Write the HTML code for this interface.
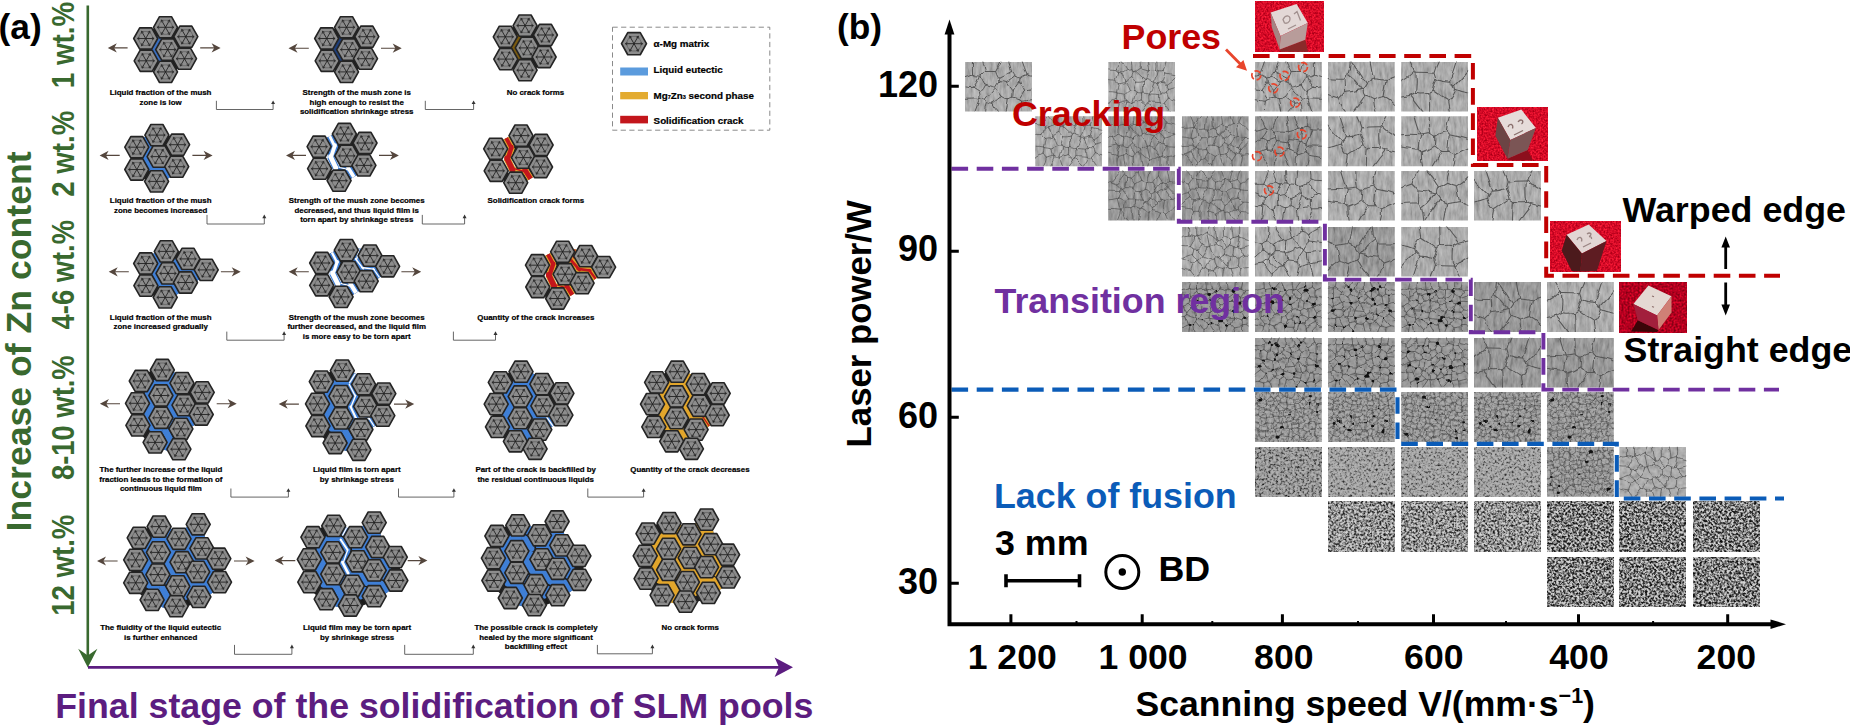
<!DOCTYPE html>
<html lang="en"><head><meta charset="utf-8"><title>Figure</title>
<style>html,body{margin:0;padding:0;background:#fff}svg{display:block}text{font-family:"Liberation Sans",sans-serif;font-weight:bold}</style></head>
<body>
<svg width="1850" height="726" viewBox="0 0 1850 726">
<defs>
<g id="hx"><polygon points="12,0 6,10.6 -6,10.6 -12,0 -6,-10.6 6,-10.6" fill="#8c8c8c" stroke="#242424" stroke-width="1.6" stroke-linejoin="round"/><polygon points="7.9,0 4,7 -4,7 -7.9,0 -4,-7 4,-7" fill="none" stroke="#4a4a4a" stroke-width="0.5"/><path d="M-7.9 0L7.9 0M-4 -7L4 7M4 -7L-4 7" fill="none" stroke="#1e1e1e" stroke-width="0.85"/><path d="M6.2 1.3L8.4 0L6.2 -1.3M2 6.1L4.2 7.4L4.2 4.9M-4.2 4.9L-4.2 7.4L-2 6.1M-6.2 -1.3L-8.4 0L-6.2 1.3M-2 -6.1L-4.2 -7.4L-4.2 -4.9M4.2 -4.9L4.2 -7.4L2 -6.1" fill="none" stroke="#1e1e1e" stroke-width="0.65"/></g>
<filter id="fA" x="0" y="0" width="100%" height="100%" color-interpolation-filters="sRGB"><feTurbulence type="fractalNoise" baseFrequency="0.3 0.09" numOctaves="3" seed="3" result="n"/><feColorMatrix in="n" type="matrix" values="1 0 0 0 0 1 0 0 0 0 1 0 0 0 0 0 0 0 0 1"/><feComponentTransfer><feFuncR type="table" tableValues="0.50 0.54 0.58 0.62 0.65 0.675 0.70 0.72 0.745 0.77 0.79"/><feFuncG type="table" tableValues="0.50 0.54 0.58 0.62 0.65 0.675 0.70 0.72 0.745 0.77 0.79"/><feFuncB type="table" tableValues="0.50 0.54 0.58 0.62 0.65 0.675 0.70 0.72 0.745 0.77 0.79"/></feComponentTransfer></filter>
<filter id="fA2" x="0" y="0" width="100%" height="100%" color-interpolation-filters="sRGB"><feTurbulence type="fractalNoise" baseFrequency="0.3 0.09" numOctaves="3" seed="8" result="n"/><feColorMatrix in="n" type="matrix" values="1 0 0 0 0 1 0 0 0 0 1 0 0 0 0 0 0 0 0 1"/><feComponentTransfer><feFuncR type="table" tableValues="0.42 0.46 0.50 0.54 0.575 0.60 0.625 0.65 0.67 0.69 0.71"/><feFuncG type="table" tableValues="0.42 0.46 0.50 0.54 0.575 0.60 0.625 0.65 0.67 0.69 0.71"/><feFuncB type="table" tableValues="0.42 0.46 0.50 0.54 0.575 0.60 0.625 0.65 0.67 0.69 0.71"/></feComponentTransfer></filter>
<filter id="fB" x="0" y="0" width="100%" height="100%" color-interpolation-filters="sRGB"><feTurbulence type="fractalNoise" baseFrequency="0.22" numOctaves="2" seed="5" result="n"/><feColorMatrix in="n" type="matrix" values="1 0 0 0 0 1 0 0 0 0 1 0 0 0 0 0 0 0 0 1"/><feComponentTransfer><feFuncR type="table" tableValues="0.40 0.45 0.50 0.55 0.585 0.605 0.62 0.635 0.65 0.66 0.66"/><feFuncG type="table" tableValues="0.40 0.45 0.50 0.55 0.585 0.605 0.62 0.635 0.65 0.66 0.66"/><feFuncB type="table" tableValues="0.40 0.45 0.50 0.55 0.585 0.605 0.62 0.635 0.65 0.66 0.66"/></feComponentTransfer></filter>
<filter id="fC" x="0" y="0" width="100%" height="100%" color-interpolation-filters="sRGB"><feTurbulence type="fractalNoise" baseFrequency="0.36" numOctaves="2" seed="11" result="n"/><feColorMatrix in="n" type="matrix" values="1 0 0 0 0 1 0 0 0 0 1 0 0 0 0 0 0 0 0 1"/><feComponentTransfer><feFuncR type="table" tableValues="0.20 0.28 0.38 0.48 0.56 0.62 0.65 0.67 0.68 0.68 0.68"/><feFuncG type="table" tableValues="0.20 0.28 0.38 0.48 0.56 0.62 0.65 0.67 0.68 0.68 0.68"/><feFuncB type="table" tableValues="0.20 0.28 0.38 0.48 0.56 0.62 0.65 0.67 0.68 0.68 0.68"/></feComponentTransfer></filter>
<filter id="fD" x="0" y="0" width="100%" height="100%" color-interpolation-filters="sRGB"><feTurbulence type="fractalNoise" baseFrequency="0.42" numOctaves="2" seed="7" result="n"/><feColorMatrix in="n" type="matrix" values="1 0 0 0 0 1 0 0 0 0 1 0 0 0 0 0 0 0 0 1"/><feComponentTransfer><feFuncR type="table" tableValues="0.04 0.10 0.22 0.38 0.54 0.64 0.685 0.705 0.71 0.71 0.71"/><feFuncG type="table" tableValues="0.04 0.10 0.22 0.38 0.54 0.64 0.685 0.705 0.71 0.71 0.71"/><feFuncB type="table" tableValues="0.04 0.10 0.22 0.38 0.54 0.64 0.685 0.705 0.71 0.71 0.71"/></feComponentTransfer></filter>
<filter id="fD2" x="0" y="0" width="100%" height="100%" color-interpolation-filters="sRGB"><feTurbulence type="fractalNoise" baseFrequency="0.42" numOctaves="2" seed="17" result="n"/><feColorMatrix in="n" type="matrix" values="1 0 0 0 0 1 0 0 0 0 1 0 0 0 0 0 0 0 0 1"/><feComponentTransfer><feFuncR type="table" tableValues="0.02 0.06 0.16 0.32 0.48 0.60 0.66 0.69 0.70 0.70 0.70"/><feFuncG type="table" tableValues="0.02 0.06 0.16 0.32 0.48 0.60 0.66 0.69 0.70 0.70 0.70"/><feFuncB type="table" tableValues="0.02 0.06 0.16 0.32 0.48 0.60 0.66 0.69 0.70 0.70 0.70"/></feComponentTransfer></filter>
<filter id="fE" x="0" y="0" width="100%" height="100%" color-interpolation-filters="sRGB"><feTurbulence type="fractalNoise" baseFrequency="0.44" numOctaves="2" seed="21" result="n"/><feColorMatrix in="n" type="matrix" values="1 0 0 0 0 1 0 0 0 0 1 0 0 0 0 0 0 0 0 1"/><feComponentTransfer><feFuncR type="table" tableValues="0 0.02 0.05 0.12 0.27 0.50 0.72 0.82 0.85 0.86 0.86"/><feFuncG type="table" tableValues="0 0.02 0.05 0.12 0.27 0.50 0.72 0.82 0.85 0.86 0.86"/><feFuncB type="table" tableValues="0 0.02 0.05 0.12 0.27 0.50 0.72 0.82 0.85 0.86 0.86"/></feComponentTransfer></filter>
<filter id="fE2" x="0" y="0" width="100%" height="100%" color-interpolation-filters="sRGB"><feTurbulence type="fractalNoise" baseFrequency="0.44" numOctaves="2" seed="31" result="n"/><feColorMatrix in="n" type="matrix" values="1 0 0 0 0 1 0 0 0 0 1 0 0 0 0 0 0 0 0 1"/><feComponentTransfer><feFuncR type="table" tableValues="0.02 0.05 0.10 0.20 0.38 0.58 0.74 0.81 0.83 0.84 0.84"/><feFuncG type="table" tableValues="0.02 0.05 0.10 0.20 0.38 0.58 0.74 0.81 0.83 0.84 0.84"/><feFuncB type="table" tableValues="0.02 0.05 0.10 0.20 0.38 0.58 0.74 0.81 0.83 0.84 0.84"/></feComponentTransfer></filter>
<filter id="fF" x="0" y="0" width="100%" height="100%" color-interpolation-filters="sRGB"><feTurbulence type="fractalNoise" baseFrequency="0.2" numOctaves="2" seed="4" result="n"/><feColorMatrix in="n" type="matrix" values="1 0 0 0 0 1 0 0 0 0 1 0 0 0 0 0 0 0 0 1"/><feComponentTransfer><feFuncR type="table" tableValues="0.48 0.53 0.58 0.62 0.655 0.68 0.70 0.72 0.74 0.75 0.75"/><feFuncG type="table" tableValues="0.48 0.53 0.58 0.62 0.655 0.68 0.70 0.72 0.74 0.75 0.75"/><feFuncB type="table" tableValues="0.48 0.53 0.58 0.62 0.655 0.68 0.70 0.72 0.74 0.75 0.75"/></feComponentTransfer></filter>
<filter id="fR" x="0" y="0" width="100%" height="100%" color-interpolation-filters="sRGB"><feTurbulence type="fractalNoise" baseFrequency="0.55" numOctaves="2" seed="9"/><feColorMatrix type="matrix" values="0.6 0 0 0 0.54  0.25 0 0 0 -0.08  0.25 0 0 0 0.03  0 0 0 0 1"/></filter>
<filter id="fR2" x="0" y="0" width="100%" height="100%" color-interpolation-filters="sRGB"><feTurbulence type="fractalNoise" baseFrequency="0.5" numOctaves="2" seed="19"/><feColorMatrix type="matrix" values="0.8 0 0 0 0.3  0.1 0 0 0 -0.05  0.2 0 0 0 0.02  0 0 0 0 1"/></filter>
<filter id="fW" x="-5%" y="-5%" width="110%" height="110%" color-interpolation-filters="sRGB"><feTurbulence type="fractalNoise" baseFrequency="0.09" numOctaves="2" seed="2" result="t"/><feDisplacementMap in="SourceGraphic" in2="t" scale="5" xChannelSelector="R" yChannelSelector="G"/></filter>
<clipPath id="tc" clipPathUnits="objectBoundingBox"><rect x="0" y="0" width="1" height="1"/></clipPath>
<g id="vL0"><path d="M56.4 39.7Q61.2 39.2 67 38.1M56.4 39.7Q55.5 38.2 54.3 37.5M54.3 37.5Q57.9 32.8 59.7 28.8M59.7 28.8Q63.3 29.3 67 28.4M56.4 39.7Q57.7 45.9 57.4 50M54.3 37.5Q50.9 35.8 46.7 35.4M46.7 35.4Q45.8 37.4 43.2 37.2M43.2 37.2Q42.7 44.3 41.1 50M46.7 35.4Q47 32.4 47.2 29.4M59.7 28.8Q57.5 23.9 54.8 20.8M47.2 29.4Q51.5 26.1 54.8 20.8M62.1 12.8Q63.7 13.8 67 13.5M62.1 12.8Q59.2 13.7 55.2 16.5M54.8 20.8Q53.9 18.9 55.2 16.5M46.5 9.8Q47.7 11.8 50.3 14.7M46.5 9.8Q40.4 13.7 33.6 16.7M50.3 14.7Q46.5 18.1 41.3 21.2M41.3 21.2Q37.2 19.4 34 20.2M33.6 16.7Q32.8 17.7 34 20.2M55.2 16.5Q52.8 16.2 50.3 14.7M47.2 29.4Q43.5 25 41.3 21.2M20.3 9.9Q26.6 9.7 30.6 10M20.3 9.9Q19.6 5.3 17.9 0M30.6 10Q33.6 5 35.9 0M19.7 22.3Q25.2 24.5 30.4 25.7M30.4 25.7Q31.3 23.7 34 20.2M15.9 14.6Q19.1 11.1 20.3 9.9M15.9 14.6Q17 17.8 19.7 22.3M33.6 16.7Q31 12.4 30.6 10M43.9 0Q45.6 3.9 46.5 9.8M27.8 42.6Q23.5 42.7 21.4 40.6M27.8 42.6Q32.3 38.9 37.3 34.9M37.3 34.9Q33.8 30.1 30.5 26.2M30.5 26.2Q25.2 31.7 20.1 38.8M21.4 40.6Q21 39 20.1 38.8M19.6 50Q19.6 44.5 21.4 40.6M32.6 50Q30 47.4 27.8 42.6M43.2 37.2Q40.5 37.3 37.3 34.9M30.4 25.7Q30.2 25.3 30.5 26.2M14.4 29.7Q15.2 32.5 14.9 37M14.4 29.7Q18.3 25.7 19.7 22.3M14.9 37Q16.9 37.3 20.1 38.8M14.9 37Q11.9 44.6 9.9 50M14.9 37Q16.2 37.1 14.9 37M62.1 12.8Q59 5.1 57.3 0M15.9 14.6Q14.1 14.1 14.5 14.6M14.4 29.7Q11.7 28.1 8.3 25.8M8.3 25.8Q12.3 21 14.5 14.6M7.5 12.5Q3.4 14.4 0 15.4M7.5 0Q7.3 6.8 7.5 12.5M7.5 12.5Q10.2 14.8 14.5 14.6M14.9 37Q6.2 37.7 0 37.7M8.3 25.8Q3.8 26.4 0 25.4" fill="none" stroke="#565656" stroke-width="1.0" stroke-linecap="round"/></g>
<g id="vL1"><path d="M51.8 38.9Q52.5 44.1 52 50M44.3 38Q42.4 43.9 39.7 50M44.3 38Q45.7 38.7 47.2 37.5M47.2 37.5Q49 39.1 51.8 38.9M5.5 13.6Q10.3 7.3 14.1 0M5.5 13.6Q1.5 13 0 14.6M47.2 37.5Q45.5 30.7 46.3 24.8M34.2 34.3Q35.9 31.4 35.2 26.6M34.2 34.3Q40.1 35.1 44.3 38M35.2 26.6Q40.9 26.3 45.5 24.6M45.5 24.6Q46.7 25.4 46.3 24.8M35.2 26.6Q33.4 24.3 33.5 23.5M45.5 24.6Q43.8 19.8 40.7 13.8M40.7 13.8Q38.1 15.4 33.6 17.3M33.5 23.5Q34.5 19.5 33.6 17.3M10.7 38.9Q8.6 45.5 4.2 50M10.7 38.9Q4.9 36.2 0 35.6M0 24.4Q3.7 26.7 7.2 27.9M13.6 37.3Q10 31.5 7.2 27.9M13.6 37.3Q11.5 38.9 10.7 38.9M42.7 11.5Q40.9 6.9 41.3 0M40.7 13.8Q41 11.9 42.7 11.5M28.7 13.1Q30.2 16.5 33.6 17.3M28.7 13.1Q32.6 6.1 34.4 0M19.3 0Q19.5 6.9 21.8 13M21.8 13Q26.3 11.8 28.7 13.1M19.8 35Q19.1 37.1 17.7 37.3M17.7 37.3Q19.8 43.8 22.1 50M33.5 34.8Q33.4 41.7 31.7 50M33.5 34.8Q26 35.3 19.8 35M33.5 34.8Q34 34.6 34.2 34.3M13.6 37.3Q15.2 38.4 17.7 37.3M12.9 16Q11.8 21.1 11.8 25.4M12.9 16Q16.7 15.8 18.5 16.2M18.5 16.2Q18.5 19.7 20.9 24.7M11.8 25.4Q14.7 25.7 19.8 27.9M19.8 27.9Q19.4 25.9 20.9 24.7M5.5 13.6Q8.9 14.6 12.9 16M7.2 27.9Q9.9 27.1 11.8 25.4M21.8 13Q20.6 14.2 18.5 16.2M33.5 23.5Q27.6 24.3 20.9 24.7M19.8 35Q18.8 31.6 19.8 27.9M53.6 11.1Q59.8 10.3 67 8.5M53.6 11.1Q53.4 4.9 51.9 0M51.3 14.6Q46.8 12.9 42.7 11.5M51.3 14.6Q51.9 11.7 53.6 11.1M51.3 14.6Q51.2 18.8 53.4 20.3M53.4 20.3Q60.8 20 67 20M46.3 24.8Q49.7 22.9 52.2 22.1M52.2 22.1Q53.3 22.4 53.4 20.3M51.8 38.9Q55.4 37.4 57.5 36.2M52.2 22.1Q56.1 30.3 57.5 36.2M57.5 36.2Q61.1 36 67 36.3" fill="none" stroke="#565656" stroke-width="1.0" stroke-linecap="round"/></g>
<g id="vL2"><path d="M30.6 26Q32.9 32.4 35.4 36.4M30.6 26Q26.9 25.6 23.4 24.5M23.4 24.5Q23.4 25.7 21.5 26M21.5 26Q23.3 32.4 25.7 37.6M25.7 37.6Q29.2 39.2 32.2 38.6M32.2 38.6Q34.2 37.6 35.4 36.4M14.8 27.1Q19.4 26.6 21.5 26M14.8 27.1Q13.6 31.6 12.9 33.9M25.7 37.6Q24.7 37.7 21.4 39.6M12.9 33.9Q16 37.7 21.4 39.6M30.6 26Q33.8 23.6 34.9 21.7M35.4 36.4Q37.8 36.7 41.5 36.1M34.9 21.7Q41.3 23.9 45.4 27.7M41.5 36.1Q43.2 35.5 45.1 34M45.1 34Q44.5 30.6 45.4 27.7M32.2 38.6Q30.5 44.3 30.7 50M21.4 39.6Q19 43.7 17.9 50M41.5 36.1Q42 42.2 43 50M12.9 33.9Q9.9 34.7 8.9 37.2M8.9 37.2Q11.3 43.1 14.1 50M8.9 37.2Q5.1 37 0 37.3M45.4 27.7Q45.4 25.5 46.8 25M46.8 25Q50.7 23.6 55.7 21M53.6 37.3Q48.6 35.5 45.1 34M53.6 37.3Q59 32.9 62.7 26.7M55.7 21Q59.1 24.7 62.7 26.7M56.1 41.5Q56.3 45 55.8 50M56.1 41.5Q60.5 39.8 67 39.8M53.6 37.3Q55.6 39.1 56.1 41.5M62.7 26.7Q65.7 27.8 67 26.5M67 12.1Q63.4 11.7 57.7 11.6M57.7 11.6Q54.8 5.2 54.5 0M55.7 21Q55.1 17.8 55.9 13.8M57.7 11.6Q57.3 13.8 55.9 13.8M46.8 25Q45.4 20 43 12.7M55.9 13.8Q49.8 13.2 43 12.7M8 14.2Q9.6 14.1 9.5 15.2M10.5 22.7Q10.8 19.6 9.5 15.2M8 14.2Q4.9 13.1 0 14.3M10.5 22.7Q4.5 26.3 0 27.6M14.8 27.1Q11.7 24.8 10.5 22.7M8 14.2Q7.6 7 6.7 0M43 12.7Q43.8 13.7 42.6 12.4M42.6 12.4Q42.8 5.3 43.8 0M34.9 21.7Q36.2 18.2 35.3 15M42.6 12.4Q38.3 12.8 35.3 15M17.5 11.7Q17.7 6.1 20.4 0M30.8 12.8Q29.1 6.5 28.5 0M17.5 11.7Q21.9 14 24.1 16.3M24.1 16.3Q28.6 13.4 30.8 12.8M9.5 15.2Q14.2 14.1 17.5 11.7M35.3 15Q34.3 12.7 30.8 12.8M23.4 24.5Q23.7 20.5 24.1 16.3" fill="none" stroke="#565656" stroke-width="1.0" stroke-linecap="round"/></g>
<g id="vL3"><path d="M17.4 2.7Q18.2 0.3 16.8 0M29 10.8Q32.8 5.9 35 0M17.4 2.7Q18.7 5.3 22.1 8.1M22.1 8.1Q26.7 10.7 28.7 10.8M28.7 10.8Q29 11.5 29 10.8M55.3 12.4Q57.3 5.6 58.3 0M45.4 9.8Q44.3 5.1 42.9 0M45.4 9.8Q49.7 12.1 54.5 12.8M54.5 12.8Q54.8 13.2 55.3 12.4M32.9 16.5Q29.8 13.5 29 10.8M41.1 15.5Q42.1 13 45.4 9.8M41.1 15.5Q38 16.1 32.9 16.5M17.4 2.7Q13.1 8.4 8.4 13.4M22.1 8.1Q17.1 12.4 13.6 17.3M13.6 17.3Q11.2 15.7 8.4 13.4M8.4 13.4Q3.9 12.7 0 12.1M55.3 12.4Q60.7 13.8 67 14.9M46.7 44.4Q47.3 46.7 47 50M52.4 41.2Q50.1 43.7 46.7 44.4M52.4 41.2Q59.7 46.9 66.8 50M31.1 37Q30.3 31.8 30.6 24.4M31.1 37Q33.2 37.9 36.9 39.4M36.9 39.4Q38.5 38.1 38.5 39.1M38.5 39.1Q42 34.9 44.8 28.7M44.8 28.7Q39.3 26.5 31.5 23.3M31.5 23.3Q30.7 23.4 30.6 24.4M28.2 38Q24.2 42.9 19.5 50M34.3 50Q34.4 45.7 36.9 39.4M28.2 38Q30 36.6 31.1 37M46.7 44.4Q42.4 41.2 38.5 39.1M19.6 24.9Q19.9 27.9 18.4 32.1M19.6 24.9Q18.9 24 17.1 21.8M17.1 21.8Q15.8 20.7 15.5 20.9M15.5 20.9Q11.8 23.4 8 26.4M18.4 32.1Q15.9 33.5 12.9 35.8M8 26.4Q8.3 29.3 7 32.6M12.9 35.8Q9.1 34.9 7 32.6M30.6 24.4Q26.1 25.1 19.6 24.9M28.2 38Q23.4 36 18.4 32.1M32.9 16.5Q33.4 18.6 31.5 23.3M28.7 10.8Q22.9 15 17.1 21.8M13.6 17.3Q14.1 18.4 15.5 20.9M0 19.4Q3.9 23.4 8 26.4M14 50Q14.4 42.3 12.9 35.8M0 34.6Q2.3 34.9 7 32.6M52.5 23.7Q60.5 24.7 67 25.5M54.5 12.8Q52.5 17.1 52.5 23.7M44.8 28.7Q48 27.7 48.8 26.5M52.4 41.2Q54.1 39.1 54 35.5M54 35.5Q52.1 31.8 48.8 26.5M41.1 15.5Q44.4 20.3 48.9 26.4M52.5 23.7Q50.5 25.8 48.9 26.4M48.8 26.5Q49.6 27.1 48.9 26.4M54 35.5Q60.7 34.7 67 34" fill="none" stroke="#565656" stroke-width="1.0" stroke-linecap="round"/></g>
<g id="vK0"><path d="M57.5 33.3Q51.2 40.8 44.6 50M67 35.5Q61.5 34.8 57.5 33.3M17.8 50Q18.6 45 19.5 39.7M0 31.2Q6.4 30.5 12.6 27.7M19.5 39.7Q14.6 34.8 12.6 27.7M0 8.8Q7.3 17.8 13.8 23.9M11.8 0Q14.3 8.9 18.8 20.6M18.8 20.6Q15.7 21.3 13.8 23.9M12.6 27.7Q13.3 25.2 13.8 23.9M39.4 30.7Q36.3 28.9 36.1 28.4M39.4 30.7Q47.3 32 52.6 30.7M36.1 28.4Q34.7 22.5 32.3 17.8M52.6 30.7Q51.3 21.6 52.3 10.6M52.3 10.6Q42.1 10.4 34.2 11.6M34.2 11.6Q33.5 13.7 32.3 17.8M38.5 50Q38.8 39.1 39.4 30.7M19.5 39.7Q27.4 34.9 36.1 28.4M57.5 33.3Q56.1 33 52.6 30.7M18.8 20.6Q26 20.6 32.3 17.8M53.9 9.4Q51.9 9 52.3 10.6M53.9 9.4Q59.7 15.4 67 19.3M29.8 0Q32.9 6.1 34.2 11.6M53.9 9.4Q55.6 4.3 58.1 0" fill="none" stroke="#565656" stroke-width="1.05" stroke-linecap="round"/></g>
<g id="vK1"><path d="M46.9 35.8Q47.8 35.1 50 33.1M46.9 35.8Q39.4 33.3 33.8 29.4M50 33.1Q50.2 26.4 47.4 18.7M33.8 29.4Q32.9 23.5 33.7 20M47.4 18.7Q43.2 18.1 37.4 17.4M37.4 17.4Q35.6 18.4 33.7 20M26.8 36Q31.4 43.8 35 50M26.8 36Q30.3 31.8 33.8 29.4M45.5 50Q47 44.3 46.9 35.8M22 15.4Q29.3 16.9 33.7 20M19 18.5Q19.3 18.4 22 15.4M26.8 36Q24.7 36.4 20.5 36M19 18.5Q19.9 26.7 20.5 36M22 15.4Q20.9 7.6 19 0M19 18.5Q10.1 20.1 0 23.4M37.4 17.4Q39.1 8.7 39 0M47.5 18.7Q51.2 8 53.4 0M47.4 18.7Q48.2 19.3 47.5 18.7M13.5 39.6Q12.8 44.6 14.7 50M13.5 39.6Q7 35.7 0 32.9M20.5 36Q15.8 37.9 13.5 39.6M50 33.1Q58.8 32.2 67 30.8M47.5 18.7Q57.6 17.5 67 18.6" fill="none" stroke="#565656" stroke-width="1.05" stroke-linecap="round"/></g>
<g id="vK2"><path d="M56.4 36.5Q62.2 34.4 67 32.8M56.4 36.5Q53.6 44.5 48.8 50M47 13.4Q39 18.8 33.4 26.6M47 13.4Q47.6 14.4 50.8 17.4M50.8 17.4Q50.3 23.1 50.3 29.8M50.3 29.8Q40.9 29.3 33.4 26.6M44.6 0Q45 7.6 47 13.4M67 16.9Q58 17.9 50.8 17.4M56.4 36.5Q53.2 33.6 50.3 29.8M8.6 18.9Q15.4 17.5 21.2 17.1M8.6 18.9Q10.6 26.2 11.7 34.6M21.2 17.1Q26.1 18.7 28.3 21.9M11.7 34.6Q17.9 36 21.2 38.3M21.2 38.3Q26.4 35 29.8 34.4M28.3 21.9Q29.3 23.9 31.8 26.9M29.8 34.4Q32 31.6 31.8 26.9M24.8 0Q23.2 9.9 21.2 17.1M0 14.8Q5.6 16.3 8.6 18.9M0 43.9Q5.3 38 11.7 34.6M43 0Q36 9.7 28.3 21.9M18.4 50Q21.2 43.9 21.2 38.3M41.3 50Q34.7 43.6 29.8 34.4M33.4 26.6Q33.5 27.1 31.8 26.9" fill="none" stroke="#565656" stroke-width="1.05" stroke-linecap="round"/></g>
<g id="vM0"><path d="M20.8 44.8Q22.6 47.4 24 50M20.8 44.8Q21.5 44.1 23.6 42.1M23.6 42.1Q25.9 43 27.5 44M27.5 44Q29.4 47.4 30.5 50M20.4 14.9Q17.4 15.3 15.7 17M20.4 14.9Q20.9 15.1 21.4 15.6M21.4 15.6Q22.4 19.7 22.8 24.9M15.7 17Q15.1 18.5 15.5 20.4M15.5 20.4Q19.7 22.2 22.5 25.4M22.5 25.4Q23.3 25.3 22.8 24.9M28.7 13.8Q28.2 11.5 28.2 10.3M21.3 9.1Q24.7 9.6 28.2 10.3M21.3 9.1Q20.2 11.9 20.4 14.9M26.6 16.6Q24.6 16.8 21.4 15.6M26.6 16.6Q28 15 28.7 13.8M26.6 16.6Q27.7 18.1 27.6 21M27.6 21Q25.5 23.2 22.8 24.9M15.6 6Q13.1 9.6 11.7 13.6M11.7 13.6Q13.6 15.7 15.7 17M15.6 6Q16 5.4 16.1 5.5M21.3 9.1Q21.2 8 20.1 7M16.1 5.5Q18.5 6 20.1 7M28.2 10.3Q28.8 8.9 29.9 8.1M29.9 8.1Q27.3 5.2 25.8 1.4M20.1 7Q23.2 4 25.8 1.4M13.9 40.5Q16.2 43.1 18.2 45.1M13.9 40.5Q11.2 42.4 7.2 45.3M18.2 45.1Q16.3 48.1 15.6 50M7.2 45.3Q8.4 48 8.3 50M20.8 44.8Q19.6 45.6 18.2 45.1M13.9 40.5Q14.6 38.8 14.2 38.3M23.6 42.1Q23.9 40.8 23.6 38.7M23.6 38.7Q21.9 37.9 20.9 36.1M20.9 36.1Q18.2 37.2 14.2 38.3M5.4 44Q6.2 44.8 7.2 45.3M5.7 34.6Q6 39.5 5.4 44M5.7 34.6Q9.4 34.6 11.6 34.6M11.6 34.6Q12.6 35.9 14.2 38.3M35.2 20.4Q31.9 20.8 28 21.1M35.2 20.4Q34.7 25.3 34 28.8M28 21.1Q30.7 25.8 32.4 29.7M34 28.8Q33.4 28.9 32.4 29.7M37.3 18.2Q37.3 17.1 37.2 16.5M37.3 18.2Q36.2 20 35.2 20.4M27.6 21Q27.9 21.5 28 21.1M28.7 13.8Q33.1 15.1 37.2 16.5M36.1 29.2Q40 27.5 42.8 25.3M41 20.6Q41.6 22.9 42.8 25.3M36.1 29.2Q35.3 29.6 34 28.8M37.3 18.2Q38.5 18.8 41 20.6M30.8 31.2Q26.8 29.3 22.4 28M30.8 31.2Q31 31.1 32.4 29.7M22.4 28Q22.6 26.2 22.5 25.4M27.5 44Q30.1 42 31.5 40.2M23.6 38.7Q26.1 36.6 30 35.9M31.5 40.2Q30.2 38.6 30 35.9M22.4 28Q22.1 29 21.3 29.1M21.3 29.1Q21.4 33 20.9 36.1M30.8 31.2Q30.5 32.5 30.9 34M30.9 34Q30.3 35.3 30 35.9M35.6 43Q35.4 46.9 35.6 50M31.5 40.2Q33.1 41.5 35.6 43M5.8 25.6Q6.1 23.5 6.2 22.7M5.8 25.6Q9.1 28 13.7 30M6.2 22.7Q9.3 22.4 13.4 22.3M13.4 22.3Q14.4 26.1 14.2 29.6M14.2 29.6Q14.2 30 13.7 30M11.6 34.6Q12.3 31.8 13.7 30M5.6 26Q5.3 25.3 5.8 25.6M4.7 33.9Q4.7 30 5.6 26M5.7 34.6Q5.3 34.6 4.7 33.9M21.3 29.1Q17.8 28.8 14.2 29.6M15.5 20.4Q14.3 21.1 13.4 22.3M7.8 12.2Q8.7 13.6 10.6 13.6M7.8 12.2Q3.5 13 0 13.2M10.6 13.6Q7.8 17.9 5.9 22.3M5.9 22.3Q2.5 20.9 0 18.4M7.6 6.8Q11.9 6.9 15.6 6M7.6 6.8Q8.4 9.2 7.8 12.2M11.7 13.6Q11 13.7 10.6 13.6M5.2 3.8Q6.7 5.8 7.6 6.8M5.2 3.8Q2.7 5.2 0 7M6.2 22.7Q6.6 22 5.9 22.3M5.6 26Q2.8 26 0 27.2M4.7 33.9Q2.5 34 0 34.3M5.4 44Q2 44.3 0 43.7M67 37.8Q64.7 37.2 61.1 36.6M67 29.5Q63.2 29.5 60.8 28.1M60.8 28.1Q60.7 32.6 61.1 36.6M30.9 34Q34.2 36 39 37.7M36.1 29.2Q39 31.3 41.1 34.1M41.1 34.1Q39.9 36.6 39 37.7M35.6 43Q36.7 41.1 39.1 39.1M39 37.7Q38.3 38.2 39.1 39.1M5.2 3.8Q6.3 1.3 6.5 0M61.2 20.1Q64.2 20.4 67 20.5M61.2 20.1Q61.2 18.9 60.2 16.7M60.2 16.7Q64 14.1 67 11M59 24.1Q60.7 22.4 61.2 20.1M59 24.1Q58.4 24.6 58.5 26.5M60.8 28.1Q60 27.3 58.5 26.5M46.6 11.1Q45.8 11.3 43.7 12.5M46.6 11.1Q48.4 14.2 50.8 16.8M43.7 12.5Q44.5 15.5 45.6 18.9M50.8 16.8Q50.5 17 50.4 17.7M50.4 17.7Q50.6 18.8 49.7 18.5M49.7 18.5Q47.4 18.4 45.6 18.9M37.2 16.5Q37 15 38.3 13.6M38.3 13.6Q41.7 12.9 43.7 12.5M41 20.6Q42.8 19.2 45.6 18.9M56.4 13.7Q58.1 15.8 60.2 16.7M56.4 13.7Q53.9 15.7 50.8 16.8M59 24.1Q55.3 20.6 50.4 17.7M55.3 28.1Q57.2 28 58.5 26.5M49.7 26.3Q53 27.6 55.3 28.1M49.7 26.3Q49.3 22.1 49.7 18.5M49.7 26.3Q47.9 26.5 46.1 27.8M42.8 25.3Q44.8 27.1 46.1 27.8M35.4 6.8Q36.3 7.7 37.3 10M35.4 6.8Q36.2 4 37.1 0M37.3 10Q39.7 8.8 43.3 7M43.3 7Q43 2.9 42.9 0M29.9 8.1Q33.3 7.4 35.4 6.8M38.3 13.6Q38.3 11.2 37.3 10M46.7 10.7Q44.6 8.6 43.3 7M46.7 10.7Q47 10.2 46.6 11.1M51.3 5.4Q49.4 7.4 46.7 10.7M51.3 5.4Q49.4 2 48.9 0M55.3 28.1Q54.8 32.2 54.2 35.2M61.1 36.6Q60.2 36.7 57.9 37.8M57.9 37.8Q55.8 36.6 54.2 35.2M67 41.6Q62.6 42.3 57.7 43.2M57.9 37.8Q57.3 39.9 57.7 43.2M49.8 50Q50.4 47.8 51.9 44.2M59.4 50Q58.7 47.8 57 44.6M51.9 44.2Q53.8 44.2 57 44.6M57.7 43.2Q57.6 44.4 57 44.6M45.1 42.7Q44.9 42.8 44.9 42.6M45.1 42.7Q47.2 42.4 49 41.5M44.9 42.6Q45.2 38.1 44.1 33.1M49 41.5Q50.2 39.1 50.3 36.8M50.3 36.8Q47.9 35.1 45 32.6M45 32.6Q44 32.3 44.1 33.1M42.4 50Q44 46.2 45.1 42.7M39.1 39.1Q41.4 40.6 44.9 42.6M51.9 44.2Q50.3 42.6 49 41.5M41.1 34.1Q42.3 33.5 44.1 33.1M54.2 35.2Q52 35.6 50.3 36.8M46.1 27.8Q45.4 30.1 45 32.6M58.3 4.4Q61 5.3 62.8 6.1M58.3 4.4Q55.3 5.1 52.6 5.9M62.8 6.1Q59.2 9.8 56.4 13.7M52.6 5.9Q54.1 9.9 56.4 13.7M67 5.7Q64.8 6.4 62.8 6.1M58.1 0Q57.6 2.9 58.3 4.4M51.3 5.4Q52.6 6 52.6 5.9M56.4 13.7Q55.7 14 56.4 13.7M16.1 5.5Q14.9 3.2 14.3 0M25.8 1.4Q25.6 0.8 26.1 0" fill="none" stroke="#505050" stroke-width="0.8" stroke-linecap="round"/><ellipse cx="4.7" cy="33.9" rx="1.3" ry="1.3" fill="#111"/><ellipse cx="20.8" cy="44.8" rx="1.2" ry="1.1" fill="#111"/><ellipse cx="23.6" cy="42.1" rx="2" ry="1.4" fill="#111"/><ellipse cx="22.4" cy="28" rx="1.5" ry="1.5" fill="#111"/><ellipse cx="28.7" cy="13.8" rx="1.3" ry="1.4" fill="#111"/><ellipse cx="7.6" cy="6.8" rx="0.8" ry="0.9" fill="#111"/><ellipse cx="46.1" cy="27.8" rx="1.3" ry="1.4" fill="#111"/><ellipse cx="16.1" cy="5.5" rx="1" ry="0.9" fill="#111"/><ellipse cx="25.8" cy="1.4" rx="1.6" ry="1.2" fill="#111"/><ellipse cx="21.3" cy="29.1" rx="0.9" ry="0.8" fill="#111"/><ellipse cx="30.9" cy="34" rx="1" ry="1" fill="#111"/><ellipse cx="5.9" cy="22.3" rx="2.1" ry="1.4" fill="#111"/><ellipse cx="38.3" cy="13.6" rx="2.1" ry="1.6" fill="#111"/><ellipse cx="58.5" cy="26.5" rx="1.7" ry="1.4" fill="#111"/><ellipse cx="61.1" cy="36.6" rx="0.7" ry="0.6" fill="#111"/><ellipse cx="56.4" cy="13.7" rx="0.8" ry="0.9" fill="#111"/><ellipse cx="61.2" cy="20.1" rx="1.9" ry="1.3" fill="#111"/><ellipse cx="50.8" cy="16.8" rx="1.1" ry="1" fill="#111"/><ellipse cx="49.7" cy="18.5" rx="1.3" ry="0.9" fill="#111"/><ellipse cx="51.9" cy="44.2" rx="1.9" ry="1.4" fill="#111"/><ellipse cx="44.9" cy="42.6" rx="1.9" ry="1.6" fill="#111"/><ellipse cx="49" cy="41.5" rx="1.1" ry="1.2" fill="#111"/><ellipse cx="45" cy="32.6" rx="1.3" ry="1.6" fill="#111"/></g>
<g id="vM1"><path d="M6.4 6.3Q3.1 6.7 0 5.9M6.6 11Q5.7 9.2 6.4 6.3M6.6 11Q6.1 11.9 4.9 13.2M4.9 13.2Q1.9 13.9 0 15.7M0 21.7Q3.1 22.7 5.6 23.1M4.9 13.2Q6.9 15.8 8.8 19.6M5.6 23.1Q6.6 21.3 8.8 19.6M60.1 7.2Q63 5.4 67 4.2M60.1 7.2Q58.6 6.6 58.5 6.8M58.5 6.8Q59.2 3.9 59.7 0M55 7.3Q56 6.8 58.5 6.8M55 7.3Q54.1 3.3 53.7 0M36 43.1Q36.8 45.8 37.8 50M29.4 44Q29.1 46.6 29.7 50M29.4 44Q31.5 42.2 32.6 41M36 43.1Q34.9 42.5 33.2 41.1M33.2 41.1Q33.2 40.9 32.6 41M42.2 43.6Q42.3 46.8 42.9 50M42.2 43.6Q38.9 43.1 36 43.1M32 38.3Q32.1 39 32.6 41M32 38.3Q30.8 36.3 29.3 34.5M23.6 41.9Q23.4 38.1 24.6 34.9M29.3 34.5Q26.3 34.7 24.6 34.9M23.6 41.9Q26.5 43.6 29.4 44M38.8 29.8Q34.3 30.5 30.7 30.9M29.3 34.5Q30.4 32.3 30.7 30.9M32 38.3Q35.5 34.7 39.1 30.8M38.8 29.8Q38.4 29.9 39.2 30.1M39.2 30.1Q39.7 31.1 39.1 30.8M33.2 41.1Q37.4 38.5 40.4 37.4M39.1 30.8Q40 34.4 40.4 37.4M30.1 24.2Q29 25.3 28.4 27.1M28.4 27.1Q25.3 27.1 21.7 27.6M23.6 19.4Q27.5 21.5 30.1 24.2M23.6 19.4Q22.7 21.1 20.6 22.2M21.7 27.6Q21 25.2 20.6 22.2M8.9 28.8Q10.8 28.8 11.4 28M8.9 28.8Q6.9 25.4 5.6 23.1M8.8 19.6Q11.8 20.1 14.6 19.8M11.4 28Q13.2 23.5 14.6 19.8M7.7 30.5Q4.1 30.8 0 30.4M8.1 34.2Q3.9 36 0 37.2M7.7 30.5Q8.2 33 8.1 34.2M8.9 28.8Q7.6 30.3 7.7 30.5M6.4 6.3Q6.7 5.7 6.4 6.1M6.4 6.1Q5.7 2.9 6 0M43.2 29.8Q45.1 33.3 46.8 36.7M43.2 29.8Q41 30.5 39.2 30.1M40.4 37.4Q41.1 38.1 41.8 38.5M46.8 36.7Q44.6 38.1 41.8 38.5M42.2 43.6Q41.9 42.5 42.6 42.7M42.6 42.7Q42.1 41.1 41.8 38.5M59 50Q60.3 47.1 60.5 44.1M60.5 44.1Q63.2 43.3 67 42.1M58.1 35.1Q59 39.3 58.8 42.8M58.1 35.1Q54 36.6 50.8 39.4M58.8 42.8Q55.1 42.4 51.4 42.9M50.8 39.4Q50.5 40.8 50.8 41.5M51.4 42.9Q51.5 42.3 50.8 41.5M59.2 33.3Q63.7 36.1 67 38.3M59.2 33.3Q58.1 34.1 58.1 35.1M60.5 44.1Q59.4 44.2 58.8 42.8M59.2 33.3Q59 32.4 59 32.2M49.3 37.3Q50.6 39 50.8 39.4M50.8 30.7Q49.8 33.7 49.3 37.3M50.8 30.7Q54.6 30.8 59 32.2M50.6 50Q51.2 45.7 51.4 42.9M42.6 42.7Q47.4 42.6 50.8 41.5M49.3 37.3Q47.8 37.1 46.8 36.7M14.1 5Q15.3 1.9 15.5 0M6.4 6.1Q10.5 6.1 14.1 5M52.4 13.4Q51.9 13.5 51.3 12.4M52.4 13.4Q56.3 14.1 60.9 16.4M63.1 14.5Q61.6 16.2 60.9 16.4M55 7.3Q53.3 8.5 52 10.2M60.1 7.2Q61 10.7 63.1 14.5M52 10.2Q51.3 11.3 51.3 12.4M47.2 27.7Q47.5 27.6 49.2 28.6M47.2 27.7Q46.3 25.5 46.9 21.9M49.2 28.6Q52.9 25.7 55.9 23.5M46.9 21.9Q50.5 21.6 54.7 22.2M54.7 22.2Q55.2 22.7 55.8 23.2M55.8 23.2Q56.2 23.6 55.9 23.5M43.2 29.8Q44.5 28.9 47.2 27.7M50.8 30.7Q49.3 29.6 49.2 28.6M60.4 28.8Q59 30.3 59 32.2M60.4 28.8Q57.6 26.5 55.9 23.5M49.3 13.4Q50.2 13.3 51.3 12.4M46.5 21Q47.2 16.8 49.3 13.4M52.4 13.4Q53.5 17.7 54.7 22.2M46.5 21Q46.1 21.6 46.9 21.9M60.9 16.4Q60.9 17.8 60.8 18.2M60.8 18.2Q59 21.1 55.8 23.2M66.3 25.7Q63.2 22.1 60.8 18.2M60.4 28.8Q63.3 26.5 66.3 25.7M28.4 27.1Q29.7 28.6 30.7 30.9M24.6 34.9Q23.4 34.4 23.1 33.5M21.7 27.6Q20.9 28.9 21 28.9M23.1 33.5Q22.6 30.7 21 28.9M11.4 28Q14.7 28.7 16.6 30.3M20.6 22.2Q17.9 21.5 14.7 19.7M14.6 19.8Q14.4 20.2 14.7 19.7M21 28.9Q18.8 29.2 16.6 30.3M63.1 14.5Q65.5 14.3 67 14.1M66.3 25.7Q67 26.3 67 25.7M24.7 15.1Q21.7 12.3 19 8.1M24.7 15.1Q20.2 14.8 14.9 13.9M14.9 13.8Q16.2 11.6 17.3 8.6M14.9 13.8Q14.3 13.3 14.9 13.9M17.3 8.6Q18.6 9 19 8.1M25.5 15.4Q25.4 15.8 24.7 15.1M23.6 19.4Q25.2 18.1 25.5 15.4M14.7 19.7Q15.4 16.7 14.9 13.9M6.6 11Q10.1 12.2 14.9 13.8M14.1 5Q16.2 7 17.3 8.6M21.4 6.3Q21.9 2.8 23.5 0M21.4 6.3Q20 6.6 19 8.1M30.1 24.2Q32.6 22.7 34.6 21.2M25.5 15.4Q27.1 15.3 27.5 14.4M27.5 14.4Q30.9 17.3 34.6 21.2M38.8 29.8Q37.8 26.3 36.5 21.3M34.6 21.2Q35.9 20.8 36.5 21.3M46.5 21Q41.4 20.1 37.5 20.3M37.5 20.3Q37 20.2 36.5 21.3M44.5 1.1Q45.1 0.5 44.6 0M44.5 1.1Q48.3 5.8 52 10.2M34.8 0Q36.7 3.3 38.8 6.4M44.5 1.1Q42 4 41 5.6M38.8 6.4Q40.6 6.6 41 5.6M49.3 13.4Q47.2 12.4 45.3 12.6M41 5.6Q42.5 9.2 45.3 12.6M37.5 20.3Q38 17.7 38.7 15M45.3 12.6Q42.4 14.4 38.7 15M28.5 11.2Q30 9.4 30.9 6.8M28.5 11.2Q28.6 11.8 28.4 12.4M28.4 12.4Q32.9 12.6 37.8 13.5M30.9 6.8Q34.8 7.6 37.2 7.7M37.2 7.7Q37.7 9.9 37.8 13.5M28.9 0Q30.4 3.1 30.9 6.8M21.4 6.3Q24.7 8.6 28.5 11.2M27.5 14.4Q28.3 13 28.4 12.4M38.7 15Q38.3 13.6 37.8 13.5M38.8 6.4Q38.4 6.6 37.2 7.7M13.5 43.3Q14.7 41.9 15.1 41.3M13.5 43.3Q10.3 42.7 7.1 43.6M8.6 35.1Q5.9 37.7 4 41.7M8.6 35.1Q11.1 37.1 14.6 39.3M15.1 41.3Q14.3 40.5 14.8 39.9M4 41.7Q5 42.4 7.1 43.6M14.6 39.3Q14 39.5 14.8 39.9M8.1 34.2Q8.2 34.5 8.6 35.1M0 41.6Q2.1 41.1 4 41.7M16.6 30.3Q16.2 34.3 14.6 39.3M23.6 41.9Q21.3 42.7 20.5 42.8M20.5 42.8Q18.3 42 15.1 41.3M23.1 33.5Q19.7 36.8 14.8 39.9M20.5 42.8Q20.6 45.7 21.4 50M7.1 43.6Q6.6 47.1 5.6 50M13.5 43.3Q13.9 46.3 13.2 50" fill="none" stroke="#505050" stroke-width="0.8" stroke-linecap="round"/><ellipse cx="4.9" cy="13.2" rx="1.6" ry="1.3" fill="#111"/><ellipse cx="46.5" cy="21" rx="1.5" ry="1.2" fill="#111"/><ellipse cx="55" cy="7.3" rx="0.8" ry="0.6" fill="#111"/><ellipse cx="8.9" cy="28.8" rx="1.8" ry="1.6" fill="#111"/><ellipse cx="50.8" cy="30.7" rx="1.2" ry="1" fill="#111"/><ellipse cx="58.5" cy="6.8" rx="1.4" ry="1" fill="#111"/><ellipse cx="33.2" cy="41.1" rx="0.8" ry="0.7" fill="#111"/><ellipse cx="39.1" cy="30.8" rx="0.7" ry="0.7" fill="#111"/><ellipse cx="40.4" cy="37.4" rx="1.9" ry="1.4" fill="#111"/><ellipse cx="14.6" cy="19.8" rx="1" ry="1" fill="#111"/><ellipse cx="51.4" cy="42.9" rx="0.6" ry="0.6" fill="#111"/><ellipse cx="25.5" cy="15.4" rx="1.3" ry="1.2" fill="#111"/><ellipse cx="21.4" cy="6.3" rx="2" ry="1.4" fill="#111"/><ellipse cx="55.9" cy="23.5" rx="1.3" ry="0.9" fill="#111"/><ellipse cx="16.6" cy="30.3" rx="1.6" ry="1" fill="#111"/><ellipse cx="27.5" cy="14.4" rx="1.4" ry="1.6" fill="#111"/><ellipse cx="41" cy="5.6" rx="0.8" ry="0.7" fill="#111"/><ellipse cx="45.3" cy="12.6" rx="0.6" ry="0.7" fill="#111"/><ellipse cx="28.5" cy="11.2" rx="2.1" ry="1.5" fill="#111"/><ellipse cx="28.4" cy="12.4" rx="1.2" ry="1.2" fill="#111"/><ellipse cx="37.2" cy="7.7" rx="1" ry="1.1" fill="#111"/><ellipse cx="13.5" cy="43.3" rx="0.6" ry="0.7" fill="#111"/><ellipse cx="15.1" cy="41.3" rx="1.7" ry="1.3" fill="#111"/></g>
<g id="vM2"><path d="M41.1 34.1Q42.4 32.4 44.1 31.6M41.1 34.1Q41.1 37.8 42 41.2M42 41.2Q44.4 42.5 46.8 43.1M45.6 31.7Q44.8 31.5 44.1 31.6M45.6 31.7Q48.3 34.4 50.9 37.8M46.8 43.1Q49.7 42.4 51.2 41.3M51.2 41.3Q50.7 39.5 50.9 37.8M42.1 27.7Q43.6 30.3 44.1 31.6M38.4 27.4Q40.6 28.1 42.1 27.7M35.3 31.8Q36.7 32.6 37.2 33.8M35.3 31.8Q36.7 29.5 38.4 27.4M37.2 33.8Q38.5 34.1 41.1 34.1M49.4 12.7Q49.4 10.1 49.3 6.6M49.4 12.7Q50.3 15.4 51.8 16.7M49.3 6.6Q53.1 7.2 56.3 7.6M56.3 7.6Q56.1 11.1 56.8 13.3M56.8 13.3Q54.6 15.2 51.8 16.7M44.4 13.2Q45 16.3 46.4 20.4M49.4 12.7Q46.4 13.6 44.4 13.2M46.4 20.4Q48.5 20.9 50.7 20.7M51.8 16.7Q51.5 19.1 50.7 20.7M51.9 25.9Q51 22.9 50.8 20.8M51.9 25.9Q49.4 28.2 45.6 31.7M46.4 20.4Q45.3 20.6 42.7 21.1M42.7 21.1Q41.7 24.1 42.1 27.7M50.7 20.7Q51.2 20.6 50.8 20.8M56.8 13.3Q58.9 13.6 62.1 15.2M50.8 20.8Q55.5 20.8 61.5 20.5M61.5 20.5Q61.6 18.1 62.1 15.2M20.6 27.8Q18.1 26.2 16.7 25.3M20.6 27.8Q20.3 30.1 19.9 33M19.9 33Q17.4 34.3 14.4 36.3M12.8 27Q15.1 26.4 16.7 25.3M12.8 27Q12.8 31.7 13.1 35.7M13.1 35.7Q13.5 36.6 14.4 36.3M24.4 35.8Q23.7 38.1 22.3 41.2M22.3 41.2Q20.1 41.8 16.8 42M19.9 33Q22.7 34.7 24.4 35.8M14.4 36.3Q16.2 39.2 16.8 42M51.9 25.9Q52.7 27 54 27.4M50.9 37.8Q53.2 36 54.1 34.1M54 27.4Q54.4 30.9 54.1 34.1M61.6 36.5Q59.1 38.8 57.1 42M61.6 36.5Q61.3 35.1 60.6 34.7M51.5 41.5Q51.2 41.8 51.2 41.3M57.1 42Q54.1 41.7 51.5 41.5M54.1 34.1Q58.1 34.5 60.6 34.7M36.8 7.2Q38.4 3.1 40 0M30.7 0Q30.6 3.6 29.7 7.7M36.8 7.2Q36.2 8.4 34.9 8.3M29.7 7.7Q32.8 7.6 34.9 8.3M38.4 27.4Q36.4 24.9 33.1 21.9M30.1 29.2Q32.2 29.8 35.3 31.8M30.1 29.2Q29.5 28.4 29.6 27.4M33.1 21.9Q32.5 21.5 32 22.6M32 22.6Q31.5 24.3 29.6 27.4M27.8 34.9Q26.6 35.3 24.4 35.8M30.1 29.2Q29.4 32.5 27.8 34.9M20.6 27.8Q22.4 27.1 23.6 26.8M29.6 27.4Q26.6 26.6 23.6 26.8M57.6 6.3Q57.5 2.5 58 0M57.6 6.3Q62.1 8 67 8.4M61.5 20.5Q62.4 20.7 62.5 22.3M54 27.4Q56.1 27.5 58.8 27.8M62.5 22.3Q60.7 25.1 58.8 27.8M60.6 34.7Q61.2 32.1 60.7 30.5M60.7 30.5Q60 29.4 58.8 27.8M42.6 9.8Q42 10.6 42.9 12.4M42.6 9.8Q44.5 8 47.5 5.9M44.4 13.2Q44.2 13.4 42.9 12.4M49.3 6.6Q49.7 6.6 49.1 6.4M47.5 5.9Q48.5 6.4 49.1 6.4M8 24.9Q3.7 23.9 0 22.9M0 15.4Q2.7 14.6 6.5 14.4M8.5 22.3Q7.3 19.1 6.5 14.4M8.5 22.3Q7.8 23.6 8 24.9M7.4 36.4Q9.6 35.4 13.1 35.7M5.9 35.1Q5.5 33.3 5.1 31.2M5.9 35.1Q6.7 36.5 7.4 36.4M12.8 27Q10.5 26.4 8.3 25.5M5.1 31.2Q7.3 27.8 8.3 25.5M5.1 31.2Q3 29.4 0 28.8M5.9 35.1Q3.5 35.9 0 36M8 24.9Q8.6 25.7 8.3 25.5M33.9 39Q31.2 37.8 29.9 37.9M33.9 39Q35 40.9 36.4 44M29.9 37.9Q29.5 39.7 27.8 42.6M36.1 44.9Q32.1 45.5 29 45.4M36.1 44.9Q35.7 45 36.4 44M29 45.4Q28.2 44 27.8 42.6M37.2 33.8Q36.1 35.7 33.9 39M27.8 34.9Q28.4 36.2 29.9 37.9M42 41.2Q39.5 42.3 36.4 44M22.5 41.3Q22.3 40.8 22.3 41.2M22.5 41.3Q25.3 41.8 27.8 42.6M37.2 50Q36.9 46.7 36.1 44.9M25.9 50Q27.5 48.3 29 45.4M46.8 43.1Q45.5 46.1 45 50M24.8 50Q24 45.1 22.5 41.3M4.6 43.5Q7.7 46.6 10.7 50M4.6 43.5Q5 41.6 6.4 40.3M6.4 40.3Q11.4 43.1 15.5 45.6M15.5 45.6Q14.9 47.9 15 50M0 44.8Q3.1 43.6 4.6 43.5M7.4 36.4Q7.2 37.8 6.4 40.3M16.8 42Q15.8 43.2 15.5 45.6M59.4 44.9Q63.3 44.2 67 43M57.1 42Q58.6 43.6 59.4 44.9M61.6 36.5Q64.5 36.6 67 37.6M59.4 44.9Q59.3 46.9 59.9 50M51.5 41.5Q52.9 45.1 52.9 50M60.7 30.5Q64.4 29.6 67 29M38.8 16.6Q39.2 17.8 38.6 19.1M38.8 16.6Q37.9 14.3 35.8 11.4M35.8 11.4Q34.2 13 31.7 16M38.6 19.1Q36.2 19.7 33.3 21.6M33.3 21.6Q32.7 18.7 31.7 16M42.9 12.4Q40.3 14.5 38.8 16.6M42.7 21.1Q40.4 20.1 38.6 19.1M42.6 9.8Q39.9 7.9 36.8 7.2M34.9 8.3Q35.3 9.7 35.8 11.4M33.1 21.9Q33.8 22.4 33.3 21.6M29.7 7.7Q29 7.6 29.1 8M31.7 16Q30.2 13.9 28.7 12.3M28.7 12.3Q29.6 10.7 29.1 8M32 22.6Q27.9 20.6 24.7 17.6M28.7 12.3Q27.2 15.5 24.7 17.6M21.4 0Q23.9 3 26.7 7.5M16.2 5.1Q20.8 6.3 24.8 8.4M16.2 5.1Q16.6 2 16.2 0M24.8 8.4Q25.8 7.3 26.7 7.5M23.6 26.8Q23.3 21.8 22.7 17.7M22.7 17.7Q23 18.2 24.7 17.6M26.7 7.5Q28.3 7.9 29.1 8M9.5 0Q8.6 2.8 8.2 5.9M16.2 5.1Q15.8 6.8 15.3 9.3M15.3 9.3Q12 7 8.2 5.9M0 4.5Q2.8 5.9 6.6 7.8M6.5 14.4Q6.7 14.4 6.9 14.1M6.9 14.1Q7.1 11.1 6.6 7.8M8.2 5.9Q7.3 7.4 6.6 7.8M47.5 5.9Q45.1 2.9 42.7 0M49.1 6.4Q50.5 3.6 52.6 0M56.3 7.6Q56.3 7.4 57.6 6.3M62.1 15.2Q64.8 14.3 67 11.9M62.5 22.3Q65.3 23 67 23.7M22.1 17.5Q21.4 14.8 20.2 12.5M22.1 17.5Q19.2 19.7 17 20.6M17 20.6Q15.8 20.2 14.8 19.1M14.8 19.1Q12.7 15.8 12 13.7M20.2 12.5Q18.3 11.7 15.3 10.5M12 13.7Q14 12.3 15.3 10.5M24.8 8.4Q22 10.4 20.2 12.5M22.7 17.7Q22.4 17.7 22.1 17.5M16.7 25.3Q17.6 22.9 17 20.6M8.5 22.3Q12 20.9 14.8 19.1M6.9 14.1Q8.9 14.6 12 13.7M15.3 9.3Q15.2 10.6 15.3 10.5" fill="none" stroke="#505050" stroke-width="0.8" stroke-linecap="round"/><ellipse cx="36.8" cy="7.2" rx="0.9" ry="0.8" fill="#111"/><ellipse cx="44.4" cy="13.2" rx="1.6" ry="1" fill="#111"/><ellipse cx="42.1" cy="27.7" rx="1.5" ry="1" fill="#111"/><ellipse cx="8.5" cy="22.3" rx="1.4" ry="1.5" fill="#111"/><ellipse cx="50.8" cy="20.8" rx="2.5" ry="1.5" fill="#111"/><ellipse cx="24.4" cy="35.8" rx="1.2" ry="1" fill="#111"/><ellipse cx="22.3" cy="41.2" rx="1.2" ry="1.1" fill="#111"/><ellipse cx="7.4" cy="36.4" rx="2" ry="1.4" fill="#111"/><ellipse cx="54.1" cy="34.1" rx="0.9" ry="1" fill="#111"/><ellipse cx="32" cy="22.6" rx="0.9" ry="0.7" fill="#111"/><ellipse cx="62.5" cy="22.3" rx="1.4" ry="1.4" fill="#111"/><ellipse cx="47.5" cy="5.9" rx="1.4" ry="1.5" fill="#111"/><ellipse cx="36.1" cy="44.9" rx="1.3" ry="1.5" fill="#111"/><ellipse cx="36.4" cy="44" rx="1.7" ry="1.5" fill="#111"/><ellipse cx="27.8" cy="42.6" rx="0.6" ry="0.7" fill="#111"/><ellipse cx="38.6" cy="19.1" rx="1.1" ry="0.9" fill="#111"/><ellipse cx="31.7" cy="16" rx="1.3" ry="1.1" fill="#111"/><ellipse cx="16.2" cy="5.1" rx="0.7" ry="0.7" fill="#111"/><ellipse cx="15.3" cy="9.3" rx="2" ry="1.5" fill="#111"/><ellipse cx="14.8" cy="19.1" rx="1" ry="0.9" fill="#111"/></g>
<g id="vN0"><path d="M41.1 50Q41.3 46.5 42.2 43M48.5 41.1Q50.2 45.4 51.2 50M42.2 43Q43.4 42.2 46.4 40.3M46.4 40.3Q46.6 41.2 48.5 41.1M46.4 40.3Q45.6 39.2 46.2 39.6M46.2 39.6Q47.1 34.8 48.7 30.5M56.6 39.6Q52.1 40.8 48.5 41.1M48.7 30.5Q51 29.1 52.3 28.6M56.6 39.6Q57.5 36.5 57.3 32.8M57.3 32.8Q55 31.1 52.3 28.6M33.8 50Q33.3 47.2 31.6 44.1M42.2 43Q37.9 42.2 35.3 41.1M35.3 41.1Q32.7 43.5 31.6 44.1M62.8 29.6Q64.9 29.8 67 29.8M62.8 29.6Q60.6 25.3 57.8 21.2M57.8 21.2Q62.6 19.9 67 19.1M57.3 32.8Q59.6 30.9 62.8 29.6M52.3 28.6Q53 24.8 53.1 21.4M55.8 20.4Q54.5 21.6 53.1 21.4M55.8 20.4Q56.7 20.2 57.8 21.2M67 13.3Q62.3 12.1 58.5 10.6M58.5 10.6Q57.8 16.4 55.8 20.4M57.9 9.5Q53.4 10.8 50.6 11.1M50.6 11.1Q50.3 5.8 49 0M57.9 9.5Q58.6 4.1 58 0M58.5 10.6Q58.6 10.2 57.9 9.5M9 44.2Q3.8 43.6 0 41.9M9 44.2Q10.7 47.2 13.7 50M16.9 33.9Q18.4 37.6 20.9 41.5M16.9 33.9Q19.4 31.7 20.2 30.4M20.9 41.5Q23.2 42.3 24.4 41.6M24.4 41.6Q27.3 37.2 29.2 33.5M20.2 30.4Q24.6 31.6 29.2 33.5M35.3 41.1Q33.4 37.6 32.8 32.4M28 44.3Q26.5 43.5 24.4 41.6M31.6 44.1Q29.4 44.6 28 44.3M29.2 33.5Q30.9 33.2 32.8 32.4M48 12.8Q49.3 16.8 48.9 19.4M48 12.8Q46.1 10.3 42.9 9.3M42.9 9.3Q40.7 10.9 38.8 13.3M38.8 13.3Q41.6 17.7 45.4 20.7M45.4 20.7Q47.4 20.5 48.9 19.4M53.1 21.4Q51.7 19.8 48.9 19.4M50.6 11.1Q49.8 11.2 48 12.8M42.6 0Q43.2 4.5 42.9 9.3M60.4 42.5Q59.1 45.4 59.3 50M60.4 42.5Q63.2 40.9 67 41M56.6 39.6Q57.9 40.7 60.4 42.5M25.8 5.9Q26.7 6.4 25.9 6.1M35.3 13.6Q30.5 9.3 25.9 6.1M25.8 5.9Q28.2 3.6 28.9 0M35.3 13.6Q34.7 6.7 32.9 0M35.3 13.6Q35.3 13.4 35.6 14.3M35.6 14.3Q37 14.6 38.8 13.3M15.8 10.3Q20.9 7.9 25.8 5.9M15.2 10.2Q14.9 5 15.3 0M15.8 10.3Q14.8 10.7 15.2 10.2M28 44.3Q27.3 46.7 26.4 50M20.9 41.5Q17.3 45.7 14.8 50M16.9 33.9Q17.2 33.2 16.4 33.9M16.4 33.9Q15 35.1 11.9 36.9M11.9 36.9Q10.5 39.6 9 44.2M33.5 17.3Q37.8 20.4 42.6 23.4M33.5 17.3Q30.7 18.7 28.9 20M28.9 20Q30.6 25.8 34 30.4M41.7 26.8Q42 25.1 42.6 23.4M41.7 26.8Q39.9 28.4 37.8 29.9M37.8 29.9Q35.8 30.9 34 30.4M45.4 20.7Q43.8 21.5 42.6 23.4M35.6 14.3Q33.7 15.3 33.5 17.3M25.9 6.1Q27.7 13.1 28.9 19.9M28.9 19.9Q28.4 19.3 28.9 20M48.7 30.5Q44.9 29.1 41.7 26.8M46.2 39.6Q41.5 34.3 37.8 29.9M32.8 32.4Q33.2 31.5 34 30.4M13.9 22.8Q18.5 21.2 21.7 18.4M13.9 22.8Q16.3 25.5 20.3 29.3M20.3 29.3Q23.5 24.7 25.5 20.5M21.7 18.4Q23.4 19.4 25.5 20.5M15.2 10.2Q14.6 11.1 13.3 10.7M13.3 10.7Q12.3 14.6 9.8 20.2M15.8 10.3Q19.3 14.8 21.7 18.4M11.3 22.5Q11.2 22.2 9.8 20.2M11.3 22.5Q12 22.2 13.9 22.8M11.3 22.5Q11 25.6 9.8 28M16.4 33.9Q12.9 31.6 9.8 28M20.2 30.4Q20.7 30.2 20.3 29.3M28.9 19.9Q27.6 20.2 25.5 20.5M13.3 10.7Q10.4 9.3 7.2 8.5M9.8 20.2Q4.6 20.5 0 19.9M7.2 8.5Q3.7 9 0 10.5M7.2 8.5Q7.5 4.6 6.8 0M11.9 36.9Q6.7 34.4 0 32.1M9.8 28Q5.8 29.4 0 31.7" fill="none" stroke="#555" stroke-width="0.75" stroke-linecap="round"/></g>
<g id="vN1"><path d="M27.4 13.6Q30 11.7 33.6 9.8M27.4 13.6Q25.8 11 23.2 7.7M23.2 7.7Q26.3 4 31.2 1.6M33.6 9.8Q31.7 6.5 31.2 1.6M12.6 40Q11.8 44.2 9.2 50M12.6 40Q13.2 40.9 12.6 39.9M12.4 39.8Q13.3 39.4 12.6 39.9M12.4 39.8Q6.9 38.8 0 38.8M27.5 20.5Q25.5 23.2 25.3 27.4M27.5 20.5Q29.1 21.5 32.3 21M32.3 21Q34 25.7 35.8 29.6M35.8 29.6Q30.8 29.5 26.4 29.3M26.4 29.3Q26.4 27.9 25.3 27.4M25.8 36.9Q25.6 36.7 23.7 38.2M15.9 37.9Q20.3 37.4 23.7 38.2M17.2 30Q16.7 33.6 15.9 37.9M17.2 30Q18.8 28.2 19.3 27.4M19.3 27.4Q22.1 27.8 25.3 27.4M25.8 36.9Q26.3 32.8 26.4 29.3M31.2 1.6Q30.7 1.5 31.4 0M14.7 0Q15.8 1.3 16.4 4.3M23.2 7.7Q20.5 6.9 18.4 6.8M16.4 4.3Q18.2 4.8 18.4 6.8M25.8 17.8Q27.1 15.3 27.4 13.6M25.8 17.8Q21.4 16.9 17.5 17M18.4 6.8Q18.7 12.7 17.5 17M25.8 17.8Q26.5 18.7 27.5 20.5M19.3 27.4Q16.8 24 14.5 18.9M17.5 17Q15.3 17.4 14.5 18.9M9.1 27.9Q3.9 29.2 0 29.2M12.4 39.8Q10.1 33.9 9.1 27.9M15.9 37.9Q14.9 39.7 12.6 39.9M17.2 30Q13.3 29.5 9.7 27.3M9.7 27.3Q10.2 28.4 9.1 27.9M25.8 36.9Q28.4 37.4 31.8 38.9M31.8 38.9Q32.9 38.4 33.3 38.5M35.8 29.6Q37.5 29.8 37.4 30.6M37.4 30.6Q35.9 34.9 33.3 38.5M31.8 38.9Q31.8 45.1 30.2 50M40 50Q40.7 46.7 40.8 43.2M40.8 43.2Q37.5 40.8 33.3 38.5M59.2 0Q60.6 6.2 61.2 10.9M61.2 10.9Q64.1 11.7 67 11.7M12.6 40Q15.9 45.7 19.7 50M23.7 38.2Q24.5 43.5 24.8 50M32.3 21Q34 20.1 36 19.1M33.6 9.8Q35.4 11.2 37.6 11.7M37.6 11.7Q36.8 16.3 36 19.1M16.4 4.3Q13.2 8.3 9.4 13.6M11.9 0Q8.8 5.6 4 11.2M4 11.2Q6.8 13 9.4 13.6M14.5 18.9Q14 18.7 13.9 18.9M9.4 13.6Q12.5 15.9 13.9 18.9M9.7 27.3Q11.4 24.1 11.6 21M13.9 18.9Q12.7 19.2 11.6 21M37.4 30.6Q36.9 30.2 38.1 30.4M36 19.1Q39.5 21.4 42.9 23.6M42.9 23.6Q42.1 25.5 41.4 26.7M38.1 30.4Q39.2 29 41.4 26.7M50.2 22.4Q48.4 21.1 47.6 21M50.2 22.4Q53.7 20.1 56.2 18.7M56.2 18.7Q57.2 17.2 58.8 15.8M47.4 18.8Q47.6 19.5 47.6 21M47.4 18.8Q49.8 14.8 53.6 11.8M53.6 11.8Q56.5 12.9 58.9 13.2M58.8 15.8Q58.9 13.9 58.9 13.2M67 24.4Q63.1 20.5 58.8 15.8M61.2 10.9Q59.5 11.8 58.9 13.2M58.2 43.9Q63.5 40.3 67 36M60.3 50Q58.8 46.5 58.2 43.9M63.7 28.8Q65.6 28.8 67 28.7M56.2 18.7Q59.8 23.3 63.7 28.8M38.4 11.6Q41.7 11.4 43.6 12.5M38.4 11.6Q40.3 5.4 42 0M43.6 12.5Q46.5 8.6 49.3 5.4M49.3 5.4Q49 2.8 49.9 0M37.6 11.7Q37.4 12.2 38.4 11.6M42.9 23.6Q46.1 21.8 47.6 21M47.4 18.8Q45.4 15.5 43.6 12.5M53.6 11.8Q51.5 9.5 49.3 5.4M54 28.8Q50.7 30 48.7 32.4M54 28.8Q56 30.1 56.3 29.9M56.3 29.9Q54.9 35.4 54.8 41.5M48.7 32.4Q47.5 35.7 45.3 37.3M45.5 39.2Q44.5 37.9 45.3 37.3M45.5 39.2Q49 40.3 51.1 41.7M51.1 41.7Q52.8 42.5 54.8 41.5M41.4 26.7Q45.6 28.9 48.7 32.4M50.2 22.4Q52.2 25.7 54 28.8M63.7 28.8Q59.5 29.3 56.3 29.9M58.2 43.9Q55.8 43.2 54.8 41.5M38.1 30.4Q41.9 33.6 45.3 37.3M40.8 43.2Q42.9 42 45.5 39.2M48.2 50Q49.6 45.5 51.1 41.7M4 11.2Q2.5 10.8 0 11.9M11.6 21Q6.2 20.9 0 20.6" fill="none" stroke="#555" stroke-width="0.75" stroke-linecap="round"/></g>
<g id="vN2"><path d="M12.6 0Q9.5 3.9 8.1 8.1M8.1 8.1Q3.8 7.6 0 7.3M7.5 19.4Q9.2 15.7 10.4 10.7M7.5 19.4Q8.5 20.2 10.2 22.3M10.2 22.3Q14.6 21.6 17.4 20.8M14.3 11.5Q13 11.2 10.4 10.7M14.3 11.5Q16.7 15 17.7 20.1M17.7 20.1Q17 21.1 17.4 20.8M8.1 8.1Q8.4 9.5 10.4 10.7M0 18.9Q3.6 19.6 7.5 19.4M16.8 32.8Q19.3 30.8 21.4 28.5M21.4 28.5Q19.7 23.8 17.4 20.8M8.8 31.4Q8.5 30.8 8.2 30.7M8.2 30.7Q9.4 25.9 10.2 22.3M8.8 31.4Q12.3 31.7 16.8 32.8M19.2 8.6Q17.1 4.4 13.2 0M19.2 8.6Q16.2 10.5 14.3 11.5M24.6 16Q22 17.9 17.7 20.1M24.6 16Q24.8 12.4 26 10M19.2 8.6Q21 8.7 23.7 8.2M26 10Q24.7 10 23.7 8.2M8.2 30.7Q4.4 29.9 0 30.1M23.7 8.2Q23.7 3.9 23.2 0M28.4 20.6Q26.4 24.6 25.6 28.8M28.4 20.6Q32 21.2 35.2 19.9M35.2 19.9Q35.4 25.7 35.6 30.4M25.6 28.8Q27.7 29.7 28 30.7M28 30.7Q30.4 31.4 33.3 31.3M33.3 31.3Q35 30.2 35.6 30.4M24.6 16Q26.8 17.9 28.4 20.6M21.4 28.5Q23.4 29.1 25.6 28.8M67 38.7Q63.3 38 60.2 36.4M62.1 50Q59.1 45.7 55.9 41.6M60.2 36.4Q58 39.7 55.9 41.6M24.8 42.3Q25.5 45.5 27.2 50M18.9 40.4Q16.8 45.2 15.4 50M18.9 40.4Q22 40.9 24.6 42.1M24.8 42.3Q24.9 42.9 24.6 42.1M33.1 39.3Q29.3 40.8 24.8 42.3M37.4 43.6Q34.8 41.4 33.1 39.3M32.9 50Q35.9 46.6 37.4 43.6M28 30.7Q26.3 36.7 24.6 42.1M16.8 32.8Q17.1 36.1 18.3 39.9M18.3 39.9Q18.5 40.7 18.9 40.4M33.1 39.3Q33.4 35 33.3 31.3M11.1 42Q10.6 46.5 8.4 50M7.9 37.8Q4 39.6 0 42.1M7.9 37.8Q9.1 39.6 11.1 42M18.3 39.9Q14.1 40.9 11.1 42M8.8 31.4Q8.5 34.7 7.9 37.8M40 8.4Q38.8 13.9 37.5 17.7M40 8.4Q36.1 7.1 32.9 6.3M27.7 9.8Q29.5 8.5 32.9 6.3M27.7 9.8Q31.7 13.5 36.7 18M36.7 18Q36.8 18.3 37.5 17.7M26 10Q26.6 10.6 27.7 9.8M35.2 19.9Q35.2 19.2 36.7 18M67 26.3Q64.3 27.1 60.3 27.9M67 15.4Q62.8 19.9 57.9 22.8M60.3 27.9Q59.2 24.9 57.9 22.8M60.2 36.4Q59.7 33.5 58 31.5M60.3 27.9Q59.2 30.2 58 31.5M57.6 11.4Q62.3 12.5 67 13.3M57.6 11.4Q55.9 16.7 54.6 20.6M57.9 22.8Q56.5 21.1 54.6 20.6M41.4 7.8Q41.5 3.5 40.3 0M40 8.4Q41.5 8.4 41.4 7.8M32.9 6.3Q33.6 3.5 32.8 0M47.4 8.1Q48.2 3.6 47.6 0M54.9 8.9Q52.4 9.4 48.9 9.2M54.9 8.9Q56.8 5 57.8 0M48.9 9.2Q47.4 8.2 47.4 8.1M41.4 7.8Q45.3 8.3 47.4 8.1M57.6 11.4Q55.6 9.8 54.9 8.9M49.9 22.1Q51.6 26.9 52.9 31.2M49.9 22.1Q48.8 20.6 46.1 20.9M46.1 20.9Q45.5 20.5 46 20.9M46 20.9Q43.8 27.1 41.2 31.6M41.2 31.6Q42.4 31.8 41.7 32.3M41.7 32.3Q46.5 32.4 50 33.2M52.9 31.2Q51.7 31.5 50 33.2M58 31.5Q55.6 31.7 52.9 31.2M54.6 20.6Q52.1 22.1 49.9 22.1M48.9 9.2Q48.2 15.2 46.1 20.9M37.5 17.7Q41.3 19.2 46 20.9M35.6 30.4Q38.8 30.7 41.2 31.6M47.9 49.7Q44.2 46.4 40.6 42.5M47.9 49.7Q49.3 46.2 52.3 42M52.3 42Q51.3 41.1 51 40.1M51 40.1Q45.5 39.3 41.8 39.6M40.6 42.5Q40.8 41.4 41.8 39.6M47.9 50Q47.9 49.2 47.9 49.7M37.4 43.6Q39 43.6 40.6 42.5M55.9 41.6Q53.3 41.2 52.3 42M50 33.2Q50.5 36.3 51 40.1M41.7 32.3Q41.5 36.8 41.8 39.6" fill="none" stroke="#555" stroke-width="0.75" stroke-linecap="round"/></g>
<g id="vS0"><path d="M44 43.5Q43 43.8 41.5 43.2M44 43.5Q44.4 43.3 44.8 44.2M38.6 50Q38.8 48.4 37.8 46.2M44.8 44.2Q44.7 47.4 43.6 50M37.8 46.2Q39.5 44.8 41.5 43.2M49.4 45.5Q51.6 44.1 54.8 41.6M49.4 45.5Q49 44.5 47.9 44.2M47.9 44.2Q49.3 41.1 50.5 38.7M50.5 38.7Q51.9 38.7 53.5 38.4M53.5 38.4Q53.9 40 54.8 41.6M44.8 44.2Q46.9 44.7 47.9 44.2M52.2 50Q51.1 48.2 49.4 45.5M45.2 36.5Q46.3 36.7 48 36.8M44 43.5Q44.7 40.5 45.2 36.5M48 36.8Q48.7 38 50.5 38.7M48 36.8Q49.6 33.7 50.9 30.5M50.9 30.5Q52.2 30.7 53.5 30.7M54.1 37.7Q54.2 34.1 53.5 30.7M54.1 37.7Q54 37.9 53.5 38.4M57.7 44.7Q55.6 47.5 52.6 50M57.7 44.7Q59.9 44.4 61.3 44.5M61.3 44.5Q62.2 44.7 62.3 45M62.3 45Q62.9 47.9 62.4 50M54.8 41.6Q55.8 43.1 57.7 44.7M60.1 36.7Q57 36.9 54.1 37.7M60.1 36.7Q60.4 40.1 61.3 44.5M67 43.5Q65.2 43.8 62.3 45M61.2 35.1Q64.6 35.9 67 36.2M60.1 36.7Q60.4 35.7 61.2 35.1M60.9 6.9Q60.4 3.4 59.2 0M60.9 6.9Q63.5 7 67 7.2M37.9 31.8Q38.2 33.6 38.2 36.5M37.9 31.8Q40.8 31 43.5 30.9M38.2 36.5Q41.1 36.3 43.9 35.4M43.9 35.4Q44.5 33.4 44.4 32M43.5 30.9Q44.3 31.3 44.4 32M45.2 36.5Q44.4 36 43.9 35.4M37.7 37.1Q37.8 36.8 38.2 36.5M41.5 43.2Q40.1 40.5 37.7 37.1M49.3 29.5Q46.6 30.3 44.4 32M50.9 30.5Q50.4 29.4 49.3 29.5M26.9 43.8Q28.4 47 29.8 50M26.9 43.8Q25.3 44.7 22.8 45M22.8 45Q23 47.6 22.5 50M43.5 30.9Q42.7 28.7 42 26.7M36.8 29Q37.9 29.8 37.9 31.8M36.8 29Q38 27.4 38.8 26.5M38.8 26.5Q40.3 26.5 42 26.7M47.2 24.3Q47.8 26.5 49.3 29.5M47.2 24.3Q46.5 24.9 45.4 24.3M42 26.7Q43.3 25.2 45.4 24.3M38.8 26.5Q38.8 26.3 38.7 26.3M38.7 26.3Q38.8 22.5 39.7 18.3M45.4 24.3Q43.6 21.3 41.6 18.6M41.6 18.6Q40.7 18.3 39.7 18.3M64.5 26.4Q65.5 26.5 67 27M60.4 32Q63.2 31.9 67 31M64.5 26.4Q61.6 28.6 59.8 30.7M59.8 30.7Q60.3 31.5 60.4 32M67 17.6Q63.9 18.3 61.5 18.8M61.5 18.8Q61.9 19.9 61.6 21M61.6 21Q63.2 23.5 64.5 26.4M61.2 35.1Q60.6 34.1 60.4 32M56.1 27.5Q58.7 24.5 61.6 21M56.1 29.1Q56.4 27.7 56.1 27.5M56.1 29.1Q58.5 30.1 59.8 30.7M56.1 29.1Q54.5 29.9 53.5 30.7M27.1 36.1Q24.4 36.8 21 38.3M27.1 36.1Q26.3 33.5 26.6 31.7M26.6 31.7Q24.2 31.2 23 30.5M23 30.5Q23.3 30.2 22.3 30.7M21 38.3Q20.8 38.1 19.8 37.2M22.3 30.7Q20.5 34.5 19.8 37.2M38.7 26.3Q36.6 24.1 34.3 22.6M36.8 29Q35.7 29.5 33.5 29.1M33.5 29.1Q32.2 27.1 31.2 24.3M31.2 24.3Q32.9 23.3 34.3 22.6M10.8 44.1Q10.4 41.8 10.4 39.8M10.8 44.1Q13.4 45.2 15.1 45.3M15.1 45.3Q16.1 44.6 16.4 44.2M16.4 44.2Q15.1 40.4 14 37.5M10.4 39.8Q12.2 39.2 13.7 37.4M13.7 37.4Q14 37.7 14 37.5M14.8 50Q14.7 47.5 15.1 45.3M21.7 44Q19.2 43.6 16.4 44.2M22.8 45Q22.6 44.5 21.7 44M17.7 36.8Q18.6 37 19.8 37.2M17.7 36.8Q16.2 37.4 14 37.5M21 38.3Q21.6 40.7 21.7 44M9.6 45.4Q11.4 47.7 12.2 50M9.6 45.4Q8 45.6 6.5 46.4M6.5 46.4Q5.9 48.5 5.7 50M10.8 44.1Q10.3 44.4 9.6 45.4M4.5 38.8Q3.9 40.6 4.3 43.7M4.5 38.8Q6.9 39.8 10.4 39.8M4.3 43.7Q5.7 45.3 6.5 46.4M4.3 43.7Q1.6 44.9 0 45.6M33.3 44.5Q30.1 44.2 27.5 43.4M33.3 44.5Q33.9 44.6 33.8 44.2M33.8 44.2Q34.5 41 35 37.9M27.5 43.4Q28.2 40.1 28.6 37.4M28.6 37.4Q30.9 36.9 33.4 37.1M33.4 37.1Q33.9 37 35 37.9M31.5 50Q32.9 46.8 33.3 44.5M26.9 43.8Q27.4 43.6 27.5 43.4M37.8 46.2Q36.1 45.1 33.8 44.2M37.7 37.1Q36.6 36.9 35 37.9M27.1 36.1Q28 36.6 28.6 37.4M27.8 30.7Q30 30.4 32.1 30.4M32.1 30.4Q33.1 33.7 33.4 37.1M26.6 31.7Q27.6 31.6 27.8 30.7M32.1 30.4Q32.6 29.3 33.5 29.1M38.8 11.6Q41.3 11.2 43.3 11.4M38.8 11.6Q38.8 7.9 38.8 5M46.6 7.4Q43.2 6.6 38.8 5M46.6 7.4Q45.9 8.2 45.2 10.1M45.2 10.1Q44.1 11.2 43.3 11.4M60.9 6.9Q60.8 8.1 59.8 8.3M67 10.1Q64.5 11.4 62.3 11.9M59.8 8.3Q61 9.7 62.3 11.9M31.3 4.1Q31.4 1.6 32.1 0M31.3 4.1Q27.8 2.7 24.2 0.8M24.2 0.8Q23.7 0.5 24.1 0M23.2 3.5Q21.7 5.1 19.6 6M23.2 3.5Q24.8 5.2 26.2 7.2M19.6 6Q22.5 9.1 24.7 11.9M26.2 7.2Q26.6 8.7 26.3 10.5M26.3 10.5Q25.5 11.3 24.8 11.9M24.8 11.9Q24.9 11.5 24.7 11.9M16.5 5.7Q17.8 5.7 18.1 6.3M18.1 6.3Q18.4 6.1 19.6 6M24.2 0.8Q23.5 1.8 23.2 3.5M16.5 5.7Q15.4 3.4 14.2 0M31.3 4.1Q31.2 4.2 31.4 4.2M31.4 4.2Q28.4 5.9 26.2 7.2M18.7 13.3Q18.6 9.5 18.1 6.3M22.6 14.3Q20.9 13.6 18.7 13.3M22.6 14.3Q24.1 13.6 24.7 11.9M31.4 4.2Q32.4 4.9 32.5 5.3M32.5 5.3Q32.2 7.4 31.8 10.3M31.8 10.3Q29.2 9.8 26.3 10.5M12.2 0Q11.4 4.5 9.5 8.1M7.4 0Q6.7 2.9 5.4 6.8M9.5 8.1Q7.6 7.5 5.4 6.8M16.5 5.7Q13.7 7.1 11.6 9.5M9.5 8.1Q10 8.4 11.6 9.5M11.4 17.9Q13.8 17.9 16.1 18.8M11.4 17.9Q10.5 16.5 10.2 14.3M10.2 14.3Q11.2 13.3 11.9 12.1M11.9 12.1Q14.2 13.2 16.7 14.2M16.7 14.2Q16.5 16.9 16.1 18.8M11.6 9.5Q11.9 10.3 11.9 12.1M3.4 11.3Q4.5 8.9 5.2 6.9M3.4 11.3Q5.5 13.5 7.7 14.8M5.4 6.8Q5.5 7.4 5.2 6.9M7.7 14.8Q9.2 14.7 10.2 14.3M18.7 13.3Q17.3 14.3 16.7 14.2M22.6 14.3Q22.8 15 22.9 15.9M22.9 15.9Q20.5 18.9 17.4 21.4M17.4 21.4Q16.8 20.2 16.1 18.8M17.4 23.5Q14.1 24.8 10.8 25.8M17.4 23.5Q19 26 19.3 29.3M17.4 31Q18.8 30.1 19.3 29.3M17.4 31Q14.2 31.4 11.2 30.8M11.2 30.8Q10.5 28.2 10.8 25.9M10.8 25.9Q10.8 26.3 10.8 25.8M17.4 21.4Q17.7 22.4 17.6 23.3M17.6 23.3Q17.1 22.9 17.4 23.5M10.1 20.5Q10.6 22.7 10.8 25.8M10.1 20.5Q11.2 18.8 11.4 17.9M22.3 30.7Q21.2 29.9 19.3 29.3M17.7 36.8Q16.9 34.4 17.4 31M11 31.5Q11.7 31.2 11.2 30.8M11 31.5Q12.5 34.6 13.7 37.4M24.4 23.7Q24.2 23.6 23.9 23.3M24.4 23.7Q26.6 24.1 27.7 24.8M23.9 23.3Q24.6 20.9 25.1 18.7M27.7 24.8Q28.5 24.3 29.9 23.9M29.9 23.9Q29.3 20.7 29.6 18.1M25.1 18.7Q27.4 19 29.6 18.1M23 30.5Q23.9 27.1 24.4 23.7M17.6 23.3Q20.3 23.8 23.9 23.3M27.8 30.7Q28.2 28.1 27.7 24.8M22.9 15.9Q24.2 17.8 25.1 18.7M31.2 24.3Q30.2 24.3 29.9 23.9M30.7 17Q30.6 17.3 29.6 18.1M30.7 17Q27.9 15 24.8 11.9M38.4 12.1Q39.5 15.4 39.5 18.1M38.4 12.1Q35.4 12.7 33 12.1M33 12.1Q32.7 14.6 31.3 16.7M31.3 16.7Q33.5 18.5 35.3 19.3M39.5 18.1Q37.1 19.1 35.3 19.3M43.3 11.4Q43.7 13.7 44.7 16.7M41.6 18.6Q43.1 17.1 44.7 16.7M38.8 11.6Q38.3 12 38.4 12.1M39.7 18.3Q39.9 18 39.5 18.1M38.8 5Q38.6 4.6 38.6 4.6M32.5 5.3Q35.7 5.3 38.6 4.6M31.8 10.3Q32.9 11.7 33 12.1M30.7 17Q30.8 17.1 31.3 16.7M34.3 22.6Q34.9 21.5 35.3 19.3M10.1 20.5Q7.7 19.8 5.7 18.6M7.7 14.8Q7 17 5.5 18.1M5.5 18.1Q6 18.3 5.7 18.6M38.6 4.6Q39.6 1.8 39.9 0M47.9 5.8Q48.4 2.3 48.9 0M47.9 5.8Q45.2 3.2 42.1 0M54.5 4Q51.7 4.5 48 6.2M56.4 0Q55.8 1.7 54.5 4M48 6.2Q48.5 5.5 47.9 5.8M46.6 7.4Q47.7 7.4 47.9 6.6M48 6.2Q48 6.5 47.9 6.6M61.5 18.8Q61.8 18.9 60.8 18.3M62.3 11.9Q61.5 13.5 60.7 16M60.8 18.3Q60.9 17.3 60.7 16M59.8 8.3Q58 8.7 56.4 9.5M60.7 16Q58.2 13.3 56.4 9.5M54.5 4Q55.1 6.3 56.4 9.5M56.4 9.5Q55.8 9.2 56.4 9.5M5.2 6.9Q2.4 5.2 0 4.6M3.4 11.3Q1.2 12.2 0 13.3M5.5 18.1Q2.5 18 0 16.8M11 31.5Q8.2 32.9 5.3 33.9M4.5 38.8Q4.1 38.2 3.8 37.9M5.3 33.9Q4.5 35.9 3.8 37.9M3.8 37.9Q1.4 37.4 0 37.8M4.4 23.9Q2.6 23.6 0 23.5M3.2 30.6Q2 29.7 0 29.8M3.2 30.6Q4.8 27.8 6.3 25.4M6.3 25.4Q4.8 24.4 4.4 23.9M5.7 18.6Q5.1 21.4 4.4 23.9M5.3 33.9Q4.6 32.1 3.2 30.6M10.8 25.9Q9.1 25.8 6.3 25.4M56.1 27.5Q54.9 24.7 53.4 23.2M60.8 18.3Q59.7 18.4 58.8 18.3M58.8 18.3Q56.1 20.4 53.4 23.2M47.2 24.3Q48.2 23.3 49.8 21.9M49.8 21.9Q51.1 22.7 53.4 23.2M55.1 16.5Q51.9 16.8 49.8 17.7M55.1 16.5Q55.2 13.1 54.5 10.7M51.7 10.7Q52.8 11.2 54.5 10.7M51.7 10.7Q50 12.6 49 15.5M49.8 17.7Q49.9 16.7 48.9 16.6M48.9 16.6Q49.1 16.2 49 15.5M58.8 18.3Q57.1 16.9 55.1 16.5M49.8 21.9Q50.1 19.7 49.8 17.7M56.4 9.5Q55.8 10.1 54.5 10.7M47.9 6.6Q50.3 9.2 51.7 10.7M45.2 10.1Q47.5 12.5 49 15.5M44.7 16.7Q46.6 17.1 48.9 16.6" fill="none" stroke="#444" stroke-width="0.5" stroke-linecap="round"/><ellipse cx="27.1" cy="36.1" rx="1.9" ry="1.3" fill="#111"/><ellipse cx="61.5" cy="18.8" rx="1.4" ry="1" fill="#111"/><ellipse cx="22.8" cy="45" rx="2.1" ry="1.7" fill="#111"/><ellipse cx="54.5" cy="4" rx="1.7" ry="1.2" fill="#111"/><ellipse cx="34.3" cy="22.6" rx="0.9" ry="0.6" fill="#111"/><ellipse cx="62.3" cy="11.9" rx="1.1" ry="0.7" fill="#111"/><ellipse cx="5.4" cy="6.8" rx="2" ry="1.5" fill="#111"/><ellipse cx="54.5" cy="10.7" rx="1.5" ry="1.1" fill="#111"/></g>
<g id="vS1"><path d="M50.7 16.8Q53 19.5 55.4 21.1M54.7 23.7Q54.8 21.9 55.4 21.1M50.7 25.4Q53.2 24.9 54.7 23.7M50.7 25.4Q50.5 24.8 49.1 24.6M50.7 16.8Q49.3 18.6 47.1 21.1M49.1 24.6Q48.6 23.1 47.1 21.1M8.3 45.6Q5.4 47.4 3 50M8.5 45.7Q9.3 48 9.9 50M8.3 45.6Q8.4 46.1 8.5 45.7M6.8 43Q7.2 44.1 8.3 45.6M6.8 43Q2.9 44.2 0 46.3M27.9 5.5Q27.9 3.1 27.2 0M22.5 5.3Q21.5 2.5 19.9 0M26.8 6.6Q25.4 6 23.9 6.1M26.8 6.6Q26.8 6.3 27.9 5.5M22.5 5.3Q22.8 6 23.9 6.1M14.7 44.4Q16.3 46.7 17 50M14.7 44.4Q11.4 44.6 8.5 45.7M22.5 5.3Q19.5 7.7 17.2 9.1M23.9 6.1Q23 9.4 21.8 12.4M21.8 12.4Q19.5 12.1 17.5 11.6M17.2 9.1Q16.9 9.5 16.5 10.5M17.5 11.6Q16.7 10.7 16.5 10.5M26.8 6.6Q27.6 9.2 28.8 11.8M21.8 12.4Q22.9 13.1 23.7 14.7M28.8 11.8Q26 13.5 23.7 14.7M49.1 24.6Q46.8 25.5 44.3 27.3M47.1 21.1Q45.4 21 43.9 20.6M44.3 27.3Q44.1 25.7 43 24.9M43.9 20.6Q43.1 22.9 43 24.9M48.3 12.7Q49.8 13.6 50.5 15.6M50.7 16.8Q50.4 16.4 50.5 15.6M48.3 12.7Q46.8 12.2 45.8 12.8M45.8 12.8Q44.6 16.3 42.5 19.4M43.9 20.6Q42.9 19.5 42.5 19.4M39.1 12.9Q41.6 12.6 44.7 12.1M39.1 12.9Q39.2 15.9 38.8 17.7M38.8 17.7Q39.4 18.6 41.3 19.3M45.8 12.8Q45.7 12 44.7 12.1M41.3 19.3Q41.6 19.8 42.5 19.4M17.2 9.1Q16.3 6.9 15.1 3.7M15.1 3.7Q14.7 2.3 15.1 0M59.6 11.5Q58.5 11.9 56.4 12.5M59.6 11.5Q59.8 13.1 61.2 13.8M56.4 12.5Q56.6 13.4 56 13.5M56 13.5Q57.7 16.1 58.9 18.2M61.2 13.8Q60 15.2 59.7 17.8M59.7 17.8Q59.8 18.1 58.9 18.2M55.4 21.1Q57 20.5 58.3 19.4M50.5 15.6Q52.9 14.9 56 13.5M58.3 19.4Q59.1 19.2 58.9 18.2M54.9 0.9Q55.5 2.7 56.5 5.2M54.9 0.9Q51.4 2.1 47.8 4.2M56.5 5.2Q55.8 7.3 54.2 8.1M54.2 8.1Q52.2 8.7 50.3 9.1M47.8 4.2Q49.6 6.7 50.3 9.1M61.9 7Q62 7.3 61.7 6.7M59.6 11.5Q60.8 9.7 61.9 7M56.4 12.5Q54.7 10.5 54.2 8.1M61.7 6.7Q59.5 6 56.5 5.2M48.3 12.7Q49 11.4 50.3 9.1M42.3 5.5Q43.7 8.2 44.7 12.1M44.8 2.9Q43 4.6 42.3 5.5M44.8 2.9Q45.7 3.7 47.8 4.2M54.9 0.9Q54.9 0.9 55 0M61.7 6.7Q63.1 3.8 65.4 0M44.8 2.9Q44.7 1.6 44.5 0M15.4 24Q13 23.7 11 24M8.4 26.7Q9.6 24.8 11 24M8.4 26.7Q9.2 28 10.3 29.5M15.4 24Q14.9 28.5 14.5 32M10.3 29.5Q12.8 30.4 14.5 32M51.4 49.2Q54.4 46.4 57.1 43.7M49.4 44.8Q50.7 46.8 51.4 49.2M49.4 44.8Q52 42.8 55.1 40.6M57.1 43.7Q56.1 41.7 55.1 40.6M54.7 23.7Q56 25.5 57.2 26.7M50.5 30.2Q53 30.6 55.2 30.5M50.7 25.4Q50.5 27.7 50.5 30.2M55.2 30.5Q56.1 29.1 57.2 26.7M64.1 25Q61.2 22.7 58.3 19.4M64.1 25Q62.2 26.9 61.1 27.6M61.1 27.6Q58.6 26.7 57.2 26.7M5.1 27.2Q4.1 23.8 3.6 20.4M5.1 27.2Q6.8 27.3 8.4 26.7M9.1 21Q10.4 22.6 11 24M9.1 21Q6.7 20.4 5.4 18.9M3.6 20.4Q4.2 20.2 5.4 18.9M42.3 5.5Q41.4 5.2 40.2 5.9M40.2 5.9Q39 6.8 38.1 6.8M39.1 12.9Q38.7 12.5 38.3 12.1M38.1 6.8Q38.8 10 38.3 12.1M33.1 3.6Q33 1.5 33.7 0M40.2 5.9Q39.3 2.8 37.7 0M33.1 3.6Q34.5 4.2 35.2 6M35.2 6Q36.3 6.2 38.1 6.8M27.9 5.5Q30.8 5.1 33.1 3.6M61.9 7Q64.1 8.3 67 10.7M11.8 11.1Q11.7 12.3 10.9 13.5M11.8 11.1Q11.6 10.4 11 9.7M10.2 8.9Q10.3 9.2 11 9.7M10.2 8.9Q7.8 8.4 6.1 7.4M10.9 13.5Q8.1 14 6 15.6M6.1 7.4Q5.2 10.7 3.4 13M6 15.6Q4.2 14.6 3.4 13M15.1 3.7Q13 6.2 11 9.7M16.5 10.5Q14.6 10.3 11.8 11.1M11.4 0Q10.4 4 10.2 8.9M5.9 0Q5.3 2.8 5.6 6.6M5.6 6.6Q6 7 6.1 7.4M9.1 21Q11.2 18.6 13 16.9M5.4 18.9Q6.2 16.9 6 15.6M13 16.9Q12.1 14.8 10.9 13.5M6.8 43Q5.9 40.4 6.3 37.5M6.3 37.5Q2.6 38.2 0 39M28.8 11.8Q29.6 12.1 30 12.4M35.2 6Q34 9.5 31.9 12.2M30 12.4Q30.9 12.5 31.9 12.2M38.3 12.1Q36 12.4 33.1 12.9M31.9 12.2Q32 12.9 33.1 12.9M38.8 17.7Q37.5 18.5 35.5 18.4M33.1 12.9Q33.8 15.8 35.5 18.4M23.1 17.1Q24.3 19.1 25.7 20.3M23.1 17.1Q20.8 17.7 17.8 18.4M25.7 20.3Q22.2 22.8 19.9 24.8M17.8 18.4Q17.5 19.4 16.8 19.4M16.8 19.4Q16.8 21.2 16.5 23.2M16.5 23.2Q18.7 24.6 19.9 24.8M23.7 14.7Q23.6 15.4 23.1 17.1M17.5 11.6Q17.8 15.5 17.8 18.4M13 16.9Q15.1 17.6 16.8 19.4M15.4 24Q16.2 23 16.5 23.2M20.9 50Q22.1 46.7 22.6 42.4M15.1 42.9Q14.4 43.8 14.7 44.4M15.1 42.9Q15.8 42.7 15.8 42.3M22.6 42.4Q22.6 42.3 21.8 41.8M15.8 42.3Q18.7 42.2 21.8 41.8M34.8 50Q34.4 47.5 34.7 43.8M28.1 50Q28.3 46.8 28.8 44.1M28.8 44.1Q31.4 44.5 34.7 43.8M22.6 42.4Q25.2 42 27.7 42.3M28.8 44.1Q28.4 43.6 27.7 42.3M15.1 42.9Q12.3 41.1 9.4 38.5M6.3 37.5Q5.8 37.9 6.4 37.4M6.4 37.4Q7.1 36.9 6.7 37.3M9.4 38.5Q7.6 37.9 6.7 37.3M15.8 42.3Q16.1 39.5 16.5 36.8M9.4 38.5Q12.7 37.7 16.5 36.8M14.5 32Q14.7 32.2 14.5 32M10.3 29.5Q8 32.2 5.8 34.9M5.8 34.9Q6.5 35.9 6.4 37.4M6.7 37.3Q11 34.1 14.5 32M51.8 36.3Q53 37.3 55.1 37.3M51.8 36.3Q50.6 34.7 49 32.2M49 32.2Q49.7 31.2 50.5 30.2M55.2 30.5Q56.2 32.4 57 34.1M55.1 37.3Q56.4 35.9 57 34.1M48.5 44.2Q48.4 41.7 48.5 39.2M48.5 44.2Q48.7 44.9 49.4 44.8M48.5 39.2Q50.6 37.3 51.8 36.3M55.1 40.6Q55.7 39.5 55.3 37.6M55.1 37.3Q55.8 37.5 55.3 37.6M63.1 43.7Q61.9 43.9 60.1 45.1M57.1 43.7Q58.2 44.8 60.1 45.1M63.1 43.7Q62 41.7 61.2 39.1M55.3 37.6Q58.1 37.8 61.2 39.1M3.4 13Q1.3 12.5 0 12.5M5.6 6.6Q3.3 6.6 0 7.2M3.6 20.4Q2.1 20.5 0 20.5M59.7 17.8Q63.7 18.2 67 17.8M61.2 13.8Q64.3 12.7 67 12.8M64.1 25Q65 25 67 24.4M23.1 37.3Q22 38.6 21.7 39.6M23.1 37.3Q22.7 34.4 21.9 31.9M21.7 39.6Q19.3 37.5 17.2 35.2M21.8 31.8Q21.6 32 21.9 31.9M21.8 31.8Q19.8 32.2 17.2 33.7M17.2 33.7Q16.8 33.9 17.2 35.2M21.8 41.8Q21.4 40.1 21.7 39.6M16.5 36.8Q16.3 36.3 17.2 35.2M14.5 32Q16.2 33.4 17.2 33.7M21.7 27.5Q21.3 26 19.9 24.8M21.7 27.5Q21.2 29.7 21.8 31.8M31.7 36.7Q30.7 37.1 28.7 38.3M31.7 36.7Q32 33.8 33.5 32M33.5 32Q29.5 31.5 25.9 31.7M28.3 38Q28.1 38.3 28.7 38.3M28.3 38Q26.6 34.9 25 32.2M25 32.2Q25.1 31.4 25.9 31.7M27.7 42.3Q28.4 40 28.7 38.3M23.1 37.3Q25.3 37.8 28.3 38M21.9 31.9Q23.8 32 25 32.2M48.5 44.2Q46.7 44.2 44.2 44.2M48.5 39.2Q46.8 38.5 43.9 37.3M44.2 44.2Q43.4 42.8 43.1 42.5M43.1 42.5Q43.1 40.5 43.9 37.4M43.9 37.3Q43.6 37.7 43.9 37.4M49 32.2Q47 31.7 44.3 32.3M43.9 37.3Q44.4 34.4 44.3 32.3M44.3 27.3Q43.2 29.3 43.2 31.4M44.3 32.3Q44.3 32.3 43.2 31.4M25.7 20.3Q26.7 21.1 27.8 21.1M30 12.4Q29.5 15.7 29.7 19.6M27.8 21.1Q28.8 19.8 29.7 19.6M21.7 27.5Q25.6 26.3 28.5 25M27.8 21.1Q27.5 23.1 28.5 25M35.5 18.4Q34.6 18.6 34.3 19.6M29.7 19.6Q31.6 19.6 34.3 19.6M25.9 31.7Q27.9 28 28.7 25.3M28.5 25Q28.2 25.8 28.7 25.3M51.4 49.2Q51 49 51.4 50M60.1 45.1Q59.1 47.3 58.7 50M41.1 50Q40.7 50.1 41.2 49.3M41.2 49.3Q42.3 47.1 44.2 44.2M63.1 43.7Q64.9 43.5 67 44.5M62.1 37.7Q61.6 35.5 61.3 32.3M62.1 37.7Q65 37.3 67 36.6M61.4 32.2Q64.6 32.7 67 33.4M61.4 32.2Q62 32.7 61.3 32.3M57 34.1Q58.6 33.4 61.3 32.3M61.2 39.1Q61 38.5 62.1 37.7M61.1 27.6Q61 29.7 61.4 32.2M4.9 33.1Q2.1 32 0 32.1M4.9 33.1Q5.1 30.7 4.9 27.5M4.9 27.5Q2.4 27 0 27.5M5.8 34.9Q5.4 34.4 4.9 33.1M5.1 27.2Q4.5 27.6 4.9 27.5M38.8 41.8Q38 42.3 36.8 43.5M38.8 41.8Q38.2 39.6 38.6 38.1M34 38.8Q34.5 41.4 35 43.5M34 38.8Q36.7 37.9 38.5 38M35 43.5Q35.8 44 36.8 43.5M38.5 38Q38.8 38.5 38.6 38.1M41.2 49.3Q39.2 46.3 36.8 43.5M43.1 42.5Q40.8 41.8 38.8 41.8M43.9 37.4Q41.1 37.4 38.6 38.1M34.7 43.8Q34.7 43.2 35 43.5M31.7 36.7Q33.2 37.6 34 38.8M42.2 31.3Q39.9 32.1 37.5 32.6M42.2 31.3Q40 27.6 38.3 25M37.5 32.6Q35.7 31.6 33.9 31.6M33.9 31.6Q34 30.2 33.3 27.8M33.3 27.8Q34.2 25.9 35.8 25M35.8 25Q36.7 25.3 37.9 24.8M37.9 24.8Q38.4 24.9 38.3 25M43.2 31.4Q42.9 31.5 42.2 31.3M38.5 38Q37.9 35.1 37.5 32.6M43 24.9Q40.6 24.6 38.3 25M33.5 32Q33.6 32.3 33.9 31.6M28.7 25.3Q31.4 26.6 33.3 27.8M34.3 19.6Q34.6 22.6 35.8 25M41.3 19.3Q39.7 21.5 37.9 24.8" fill="none" stroke="#444" stroke-width="0.5" stroke-linecap="round"/><ellipse cx="9.1" cy="21" rx="1.6" ry="1.1" fill="#111"/><ellipse cx="55.4" cy="21.1" rx="1.5" ry="1.1" fill="#111"/><ellipse cx="50.5" cy="15.6" rx="1.2" ry="0.9" fill="#111"/><ellipse cx="44.7" cy="12.1" rx="1.9" ry="1.2" fill="#111"/><ellipse cx="41.3" cy="19.3" rx="1.3" ry="1.2" fill="#111"/><ellipse cx="43" cy="24.9" rx="1.1" ry="1.2" fill="#111"/><ellipse cx="59.7" cy="17.8" rx="1.3" ry="1.6" fill="#111"/><ellipse cx="11.8" cy="11.1" rx="1.7" ry="1.4" fill="#111"/><ellipse cx="23.1" cy="17.1" rx="1.8" ry="1.2" fill="#111"/><ellipse cx="19.9" cy="24.8" rx="1.4" ry="1" fill="#111"/><ellipse cx="17.2" cy="33.7" rx="0.7" ry="0.7" fill="#111"/><ellipse cx="27.8" cy="21.1" rx="1" ry="0.6" fill="#111"/><ellipse cx="29.7" cy="19.6" rx="0.9" ry="0.8" fill="#111"/></g>
</defs>
<g id="panel-a">
<text x="-1.5" y="38.6" font-size="35.3">(a)</text>
<text transform="translate(73.7,88.2) rotate(-90)" textLength="86.5" lengthAdjust="spacingAndGlyphs" fill="#39692f" font-size="30.6">1 wt.%</text>
<text transform="translate(73.7,196.7) rotate(-90)" textLength="86" lengthAdjust="spacingAndGlyphs" fill="#39692f" font-size="30.6">2 wt.%</text>
<text transform="translate(73.7,329.4) rotate(-90)" textLength="109.4" lengthAdjust="spacingAndGlyphs" fill="#39692f" font-size="30.6">4-6 wt.%</text>
<text transform="translate(73.7,480) rotate(-90)" textLength="124.7" lengthAdjust="spacingAndGlyphs" fill="#39692f" font-size="30.6">8-10 wt.%</text>
<text transform="translate(73.7,615.8) rotate(-90)" textLength="101.1" lengthAdjust="spacingAndGlyphs" fill="#39692f" font-size="30.6">12 wt.%</text>
<text transform="translate(31.2,531.4) rotate(-90)" textLength="380" lengthAdjust="spacingAndGlyphs" fill="#39692f" font-size="35.3">Increase of Zn content</text>
<path d="M87.8 5.5V656" stroke="#39692f" stroke-width="2.6" fill="none"/>
<path d="M87.8 667.5L78.2 648.8L87.8 655.5L97.4 648.8Z" fill="#39692f"/>
<path d="M88 667.3H779" stroke="#5c1d80" stroke-width="2.7" fill="none"/>
<path d="M793 667.3L774.6 657.6L779 667.3L774.6 677Z" fill="#5c1d80"/>
<text x="55.3" y="717.9" textLength="758" lengthAdjust="spacingAndGlyphs" fill="#5c1d80" font-size="35.3">Final stage of the solidification of SLM pools</text>
<path d="M165.5 27.3L145.7 38.5M165.5 27.3L185.8 36.7M165.5 27.3L167.7 49.6M145.7 38.5L167.7 49.6M145.7 38.5L146.2 60.8M185.8 36.7L167.7 49.6M185.8 36.7L184.5 58.7M167.7 49.6L146.2 60.8M167.7 49.6L184.5 58.7M167.7 49.6L165.5 71.9M146.2 60.8L165.5 71.9M184.5 58.7L165.5 71.9" stroke="#1c1c1c" stroke-width="9" fill="none"/>
<path d="M165.5 27.3L145.7 38.5L167.7 49.6ZM165.5 27.3L185.8 36.7L167.7 49.6ZM145.7 38.5L167.7 49.6L146.2 60.8ZM185.8 36.7L167.7 49.6L184.5 58.7ZM167.7 49.6L146.2 60.8L165.5 71.9ZM167.7 49.6L184.5 58.7L165.5 71.9Z" fill="#1c1c1c"/>
<path d="M159.6 38.3L153.8 49.8M154 49.5L159.9 60.9" stroke="#3b6fbf" stroke-width="7" fill="none"/>
<path d="M159.6 38.3l0.01 0M153.8 49.8l0.01 0M154 49.5l0.01 0M159.9 60.9l0.01 0" stroke="#3b6fbf" stroke-width="5.4" stroke-linecap="round" fill="none"/>
<use href="#hx" x="165.5" y="27.3"/>
<use href="#hx" x="145.7" y="38.5"/>
<use href="#hx" x="185.8" y="36.7"/>
<use href="#hx" x="167.7" y="49.6"/>
<use href="#hx" x="146.2" y="60.8"/>
<use href="#hx" x="184.5" y="58.7"/>
<use href="#hx" x="165.5" y="71.9"/>
<path d="M111.8 47.9H127.6 M200.2 47.9H216.6" stroke="#54463d" stroke-width="1.1" fill="none"/>
<path d="M107.8 47.9l9 -4.6l-2.6 4.6l2.6 4.6zM220.6 47.9l-9 -4.6l2.6 4.6l-2.6 4.6z" fill="#54463d"/>
<text x="160.6" y="95.2" text-anchor="middle" font-size="7.9" stroke="#000" stroke-width="0.22">Liquid fraction of the mush</text>
<text x="160.6" y="104.7" text-anchor="middle" font-size="7.9" stroke="#000" stroke-width="0.22">zone is low</text>
<path d="M216.4 100.8V109.5H273.1V103.3" stroke="#555" stroke-width="0.9" fill="none"/>
<path d="M273.1 100.5l-2 3.6h4z" fill="#333"/>
<path d="M346.5 27.3L326.7 38.5M346.5 27.3L366.8 36.7M346.5 27.3L348.7 49.6M326.7 38.5L348.7 49.6M326.7 38.5L327.2 60.8M366.8 36.7L348.7 49.6M366.8 36.7L365.5 58.7M348.7 49.6L327.2 60.8M348.7 49.6L365.5 58.7M348.7 49.6L346.5 71.9M327.2 60.8L346.5 71.9M365.5 58.7L346.5 71.9" stroke="#1c1c1c" stroke-width="9" fill="none"/>
<path d="M346.5 27.3L326.7 38.5L348.7 49.6ZM346.5 27.3L366.8 36.7L348.7 49.6ZM326.7 38.5L348.7 49.6L327.2 60.8ZM366.8 36.7L348.7 49.6L365.5 58.7ZM348.7 49.6L327.2 60.8L346.5 71.9ZM348.7 49.6L365.5 58.7L346.5 71.9Z" fill="#1c1c1c"/>
<path d="M340.6 38.3L334.8 49.8M335 49.5L340.9 60.9" stroke="#1f3f7a" stroke-width="7" fill="none"/>
<path d="M340.6 38.3l0.01 0M334.8 49.8l0.01 0M335 49.5l0.01 0M340.9 60.9l0.01 0" stroke="#1f3f7a" stroke-width="5.4" stroke-linecap="round" fill="none"/>
<use href="#hx" x="346.5" y="27.3"/>
<use href="#hx" x="326.7" y="38.5"/>
<use href="#hx" x="366.8" y="36.7"/>
<use href="#hx" x="348.7" y="49.6"/>
<use href="#hx" x="327.2" y="60.8"/>
<use href="#hx" x="365.5" y="58.7"/>
<use href="#hx" x="346.5" y="71.9"/>
<path d="M292.5 48.2H308.8 M381 48.2H397.7" stroke="#54463d" stroke-width="1.1" fill="none"/>
<path d="M288.5 48.2l9 -4.6l-2.6 4.6l2.6 4.6zM401.7 48.2l-9 -4.6l2.6 4.6l-2.6 4.6z" fill="#54463d"/>
<text x="356.7" y="95.2" text-anchor="middle" font-size="7.9" stroke="#000" stroke-width="0.22">Strength of the mush zone is</text>
<text x="356.7" y="104.7" text-anchor="middle" font-size="7.9" stroke="#000" stroke-width="0.22">high enough to resist the</text>
<text x="356.7" y="114.1" text-anchor="middle" font-size="7.9" stroke="#000" stroke-width="0.22">solidification shrinkage stress</text>
<path d="M425.3 100.8V109.5H473.6V103.3" stroke="#555" stroke-width="0.9" fill="none"/>
<path d="M473.6 100.5l-2 3.6h4z" fill="#333"/>
<path d="M525.1 25.6L505.3 36.8M525.1 25.6L545.4 35M525.1 25.6L527.3 47.9M505.3 36.8L527.3 47.9M505.3 36.8L505.8 59.1M545.4 35L527.3 47.9M545.4 35L544.1 57M527.3 47.9L505.8 59.1M527.3 47.9L544.1 57M527.3 47.9L525.1 70.2M505.8 59.1L525.1 70.2M544.1 57L525.1 70.2" stroke="#1c1c1c" stroke-width="9" fill="none"/>
<path d="M525.1 25.6L505.3 36.8L527.3 47.9ZM525.1 25.6L545.4 35L527.3 47.9ZM505.3 36.8L527.3 47.9L505.8 59.1ZM545.4 35L527.3 47.9L544.1 57ZM527.3 47.9L505.8 59.1L525.1 70.2ZM527.3 47.9L544.1 57L525.1 70.2Z" fill="#1c1c1c"/>
<path d="M519.2 36.6L513.4 48.1M513.6 47.8L519.5 59.2" stroke="#7a5a10" stroke-width="7" fill="none"/>
<path d="M519.2 36.6l0.01 0M513.4 48.1l0.01 0M513.6 47.8l0.01 0M519.5 59.2l0.01 0" stroke="#7a5a10" stroke-width="5.4" stroke-linecap="round" fill="none"/>
<use href="#hx" x="525.1" y="25.6"/>
<use href="#hx" x="505.3" y="36.8"/>
<use href="#hx" x="545.4" y="35"/>
<use href="#hx" x="527.3" y="47.9"/>
<use href="#hx" x="505.8" y="59.1"/>
<use href="#hx" x="544.1" y="57"/>
<use href="#hx" x="525.1" y="70.2"/>
<text x="535.5" y="95" text-anchor="middle" font-size="7.9" stroke="#000" stroke-width="0.22">No crack forms</text>
<path d="M156.9 135.1L136.8 147.2M156.9 135.1L177.6 144.7M156.9 135.1L159.1 156.6M136.8 147.2L159.1 156.6M136.8 147.2L136.8 169.5M177.6 144.7L159.1 156.6M177.6 144.7L176.7 166.7M159.1 156.6L136.8 169.5M159.1 156.6L176.7 166.7M159.1 156.6L156.6 181.4M136.8 169.5L156.6 181.4M176.7 166.7L156.6 181.4" stroke="#1c1c1c" stroke-width="9" fill="none"/>
<path d="M156.9 135.1L136.8 147.2L159.1 156.6ZM156.9 135.1L177.6 144.7L159.1 156.6ZM136.8 147.2L159.1 156.6L136.8 169.5ZM177.6 144.7L159.1 156.6L176.7 166.7ZM159.1 156.6L136.8 169.5L156.6 181.4ZM159.1 156.6L176.7 166.7L156.6 181.4Z" fill="#1c1c1c"/>
<path d="M144.5 137.2L150.2 146.6M150.4 146L145.5 157.8M144.7 157.5L151.2 168.6M151.5 168.4L164.2 169.6M162.9 168.9L169.4 177.8" stroke="#3f7fd6" stroke-width="7" fill="none"/>
<path d="M150.2 146.6l0.01 0M150.4 146l0.01 0M145.5 157.8l0.01 0M144.7 157.5l0.01 0M151.2 168.6l0.01 0M151.5 168.4l0.01 0M164.2 169.6l0.01 0M162.9 168.9l0.01 0" stroke="#3f7fd6" stroke-width="5.4" stroke-linecap="round" fill="none"/>
<use href="#hx" x="156.9" y="135.1"/>
<use href="#hx" x="136.8" y="147.2"/>
<use href="#hx" x="177.6" y="144.7"/>
<use href="#hx" x="159.1" y="156.6"/>
<use href="#hx" x="136.8" y="169.5"/>
<use href="#hx" x="176.7" y="166.7"/>
<use href="#hx" x="156.6" y="181.4"/>
<path d="M103.6 155.4H119.7 M192.4 155.4H208.6" stroke="#54463d" stroke-width="1.1" fill="none"/>
<path d="M99.6 155.4l9 -4.6l-2.6 4.6l2.6 4.6zM212.6 155.4l-9 -4.6l2.6 4.6l-2.6 4.6z" fill="#54463d"/>
<text x="160.7" y="203.4" text-anchor="middle" font-size="7.9" stroke="#000" stroke-width="0.22">Liquid fraction of the mush</text>
<text x="160.7" y="212.8" text-anchor="middle" font-size="7.9" stroke="#000" stroke-width="0.22">zone becomes increased</text>
<path d="M207 214.9V224H264.3V217.4" stroke="#555" stroke-width="0.9" fill="none"/>
<path d="M264.3 214.6l-2 3.6h4z" fill="#333"/>
<path d="M344.4 134L319.1 146.7M344.4 134L365 143M344.4 134L346.8 155.9M319.1 146.7L346.8 155.9M319.1 146.7L319.6 168.7M365 143L346.8 155.9M365 143L363.9 165.4M346.8 155.9L363.9 165.4M346.8 155.9L339.1 180.7M319.6 168.7L339.1 180.7M363.9 165.4L339.1 180.7" stroke="#1c1c1c" stroke-width="9" fill="none"/>
<path d="M344.4 134L319.1 146.7L346.8 155.9ZM344.4 134L365 143L346.8 155.9ZM365 143L346.8 155.9L363.9 165.4ZM346.8 155.9L363.9 165.4L339.1 180.7Z" fill="#1c1c1c"/>
<path d="M329.7 136.2L334.6 146.1M335 145.2L330.9 157.4M330.5 156.5L335.9 168.1M338.6 166.9L349.1 170.2M348.1 167.6L353.9 177" stroke="#3f7fd6" stroke-width="7" fill="none"/>
<path d="M334.6 146.1l0.01 0M335 145.2l0.01 0M330.9 157.4l0.01 0M330.5 156.5l0.01 0M335.9 168.1l0.01 0M349.1 170.2l0.01 0M348.1 167.6l0.01 0" stroke="#3f7fd6" stroke-width="5.4" stroke-linecap="round" fill="none"/>
<path d="M329.7 136.2L334.6 146.1" stroke="#ffffff" stroke-width="2.9" fill="none"/>
<path d="M334.6 146.1l0.01 0" stroke="#ffffff" stroke-width="2.9" stroke-linecap="round" fill="none"/>
<path d="M335 145.2L330.9 157.4" stroke="#ffffff" stroke-width="3.8" fill="none"/>
<path d="M335 145.2l0.01 0M330.9 157.4l0.01 0" stroke="#ffffff" stroke-width="3.8" stroke-linecap="round" fill="none"/>
<path d="M330.5 156.5L335.9 168.1" stroke="#ffffff" stroke-width="4.7" fill="none"/>
<path d="M330.5 156.5l0.01 0M335.9 168.1l0.01 0" stroke="#ffffff" stroke-width="4.7" stroke-linecap="round" fill="none"/>
<path d="M338.6 166.9L349.1 170.2" stroke="#ffffff" stroke-width="1.3" fill="none"/>
<path d="M349.1 170.2l0.01 0" stroke="#ffffff" stroke-width="1.3" stroke-linecap="round" fill="none"/>
<path d="M348.1 167.6L353.9 177" stroke="#ffffff" stroke-width="3.7" fill="none"/>
<path d="M348.1 167.6l0.01 0" stroke="#ffffff" stroke-width="3.7" stroke-linecap="round" fill="none"/>
<use href="#hx" x="344.4" y="134"/>
<use href="#hx" x="319.1" y="146.7"/>
<use href="#hx" x="365" y="143"/>
<use href="#hx" x="346.8" y="155.9"/>
<use href="#hx" x="319.6" y="168.7"/>
<use href="#hx" x="363.9" y="165.4"/>
<use href="#hx" x="339.1" y="180.7"/>
<path d="M290 155.4H306 M379 155.4H394.9" stroke="#54463d" stroke-width="1.1" fill="none"/>
<path d="M286 155.4l9 -4.6l-2.6 4.6l2.6 4.6zM398.9 155.4l-9 -4.6l2.6 4.6l-2.6 4.6z" fill="#54463d"/>
<text x="356.7" y="203.4" text-anchor="middle" font-size="7.9" stroke="#000" stroke-width="0.22">Strength of the mush zone becomes</text>
<text x="356.7" y="212.8" text-anchor="middle" font-size="7.9" stroke="#000" stroke-width="0.22">decreased, and thus liquid film is</text>
<text x="356.7" y="222.3" text-anchor="middle" font-size="7.9" stroke="#000" stroke-width="0.22">torn apart by shrinkage stress</text>
<path d="M422.3 214.9V224H464.6V217.4" stroke="#555" stroke-width="0.9" fill="none"/>
<path d="M464.6 214.6l-2 3.6h4z" fill="#333"/>
<path d="M521 135.6L495.7 148.8M521 135.6L541.1 145M521 135.6L523.4 157.6M495.7 148.8L523.4 157.6M495.7 148.8L496.2 170.8M541.1 145L523.4 157.6M541.1 145L540.5 167M523.4 157.6L540.5 167M523.4 157.6L515.7 182.7M496.2 170.8L515.7 182.7M540.5 167L515.7 182.7" stroke="#1c1c1c" stroke-width="9" fill="none"/>
<path d="M521 135.6L495.7 148.8L523.4 157.6ZM521 135.6L541.1 145L523.4 157.6ZM541.1 145L523.4 157.6L540.5 167ZM523.4 157.6L540.5 167L515.7 182.7Z" fill="#1c1c1c"/>
<path d="M506.2 138.1L511.3 147.9M511.5 147.1L508.2 157.6M507 158.4L512.6 170M515.2 168.8L525.7 172M524.7 169.4L530.6 178.7" stroke="#e2a62c" stroke-width="7" fill="none"/>
<path d="M511.3 147.9l0.01 0M511.5 147.1l0.01 0M507 158.4l0.01 0M512.6 170l0.01 0M525.7 172l0.01 0M524.7 169.4l0.01 0" stroke="#e2a62c" stroke-width="5.4" stroke-linecap="round" fill="none"/>
<path d="M506.2 138.1L511.3 147.9" stroke="#c4161c" stroke-width="3.9" fill="none"/>
<path d="M511.3 147.9l0.01 0" stroke="#c4161c" stroke-width="3.9" stroke-linecap="round" fill="none"/>
<path d="M511.5 147.1L508.2 157.6" stroke="#c4161c" stroke-width="4.5" fill="none"/>
<path d="M511.5 147.1l0.01 0" stroke="#c4161c" stroke-width="4.5" stroke-linecap="round" fill="none"/>
<path d="M507 158.4L512.6 170" stroke="#c4161c" stroke-width="5.6" fill="none"/>
<path d="M507 158.4l0.01 0M512.6 170l0.01 0" stroke="#c4161c" stroke-width="5.6" stroke-linecap="round" fill="none"/>
<path d="M515.2 168.8L525.7 172" stroke="#c4161c" stroke-width="1.7" fill="none"/>
<path d="M525.7 172l0.01 0" stroke="#c4161c" stroke-width="1.7" stroke-linecap="round" fill="none"/>
<path d="M524.7 169.4L530.6 178.7" stroke="#c4161c" stroke-width="4.8" fill="none"/>
<path d="M524.7 169.4l0.01 0" stroke="#c4161c" stroke-width="4.8" stroke-linecap="round" fill="none"/>
<use href="#hx" x="521" y="135.6"/>
<use href="#hx" x="495.7" y="148.8"/>
<use href="#hx" x="541.1" y="145"/>
<use href="#hx" x="523.4" y="157.6"/>
<use href="#hx" x="496.2" y="170.8"/>
<use href="#hx" x="540.5" y="167"/>
<use href="#hx" x="515.7" y="182.7"/>
<text x="535.8" y="203.4" text-anchor="middle" font-size="7.9" stroke="#000" stroke-width="0.22">Solidification crack forms</text>
<path d="M166.3 251.4L145.7 263.5M166.3 251.4L188 258.9M166.3 251.4L168 273.4M145.7 263.5L168 273.4M145.7 263.5L145.9 285.6M188 258.9L168 273.4M188 258.9L206.2 269.9M188 258.9L185.5 282.5M168 273.4L145.9 285.6M168 273.4L185.5 282.5M168 273.4L165.2 297.4M206.2 269.9L185.5 282.5M145.9 285.6L165.2 297.4M185.5 282.5L165.2 297.4" stroke="#1c1c1c" stroke-width="9" fill="none"/>
<path d="M166.3 251.4L145.7 263.5L168 273.4ZM166.3 251.4L188 258.9L168 273.4ZM145.7 263.5L168 273.4L145.9 285.6ZM188 258.9L168 273.4L185.5 282.5ZM188 258.9L206.2 269.9L185.5 282.5ZM168 273.4L145.9 285.6L165.2 297.4ZM168 273.4L185.5 282.5L165.2 297.4Z" fill="#1c1c1c"/>
<path d="M153.7 253.5L159.2 263M159.4 262.6L154.3 274.3M153.9 273.9L160 285.1M160.2 284.7L173 286.1M171.6 284.8L178.1 293.7" stroke="#3f7fd6" stroke-width="7" fill="none"/>
<path d="M159.2 263l0.01 0M159.4 262.6l0.01 0M154.3 274.3l0.01 0M153.9 273.9l0.01 0M160 285.1l0.01 0M160.2 284.7l0.01 0M173 286.1l0.01 0M171.6 284.8l0.01 0" stroke="#3f7fd6" stroke-width="5.4" stroke-linecap="round" fill="none"/>
<path d="M174.2 261L181.8 271.3M193.1 271.4L180.4 270M192.5 270.7L198.2 280.1" stroke="#3f7fd6" stroke-width="7" fill="none"/>
<path d="M174.2 261l0.01 0M181.8 271.3l0.01 0M193.1 271.4l0.01 0M180.4 270l0.01 0M192.5 270.7l0.01 0" stroke="#3f7fd6" stroke-width="5.4" stroke-linecap="round" fill="none"/>
<use href="#hx" x="166.3" y="251.4"/>
<use href="#hx" x="145.7" y="263.5"/>
<use href="#hx" x="188" y="258.9"/>
<use href="#hx" x="168" y="273.4"/>
<use href="#hx" x="206.2" y="269.9"/>
<use href="#hx" x="145.9" y="285.6"/>
<use href="#hx" x="185.5" y="282.5"/>
<use href="#hx" x="165.2" y="297.4"/>
<path d="M112.7 271.8H128.8 M220.9 271.8H236.7" stroke="#54463d" stroke-width="1.1" fill="none"/>
<path d="M108.7 271.8l9 -4.6l-2.6 4.6l2.6 4.6zM240.7 271.8l-9 -4.6l2.6 4.6l-2.6 4.6z" fill="#54463d"/>
<text x="160.7" y="319.8" text-anchor="middle" font-size="7.9" stroke="#000" stroke-width="0.22">Liquid fraction of the mush</text>
<text x="160.7" y="329.2" text-anchor="middle" font-size="7.9" stroke="#000" stroke-width="0.22">zone increased gradually</text>
<path d="M226.8 331.6V340.2H284.1V334.1" stroke="#555" stroke-width="0.9" fill="none"/>
<path d="M284.1 331.3l-2 3.6h4z" fill="#333"/>
<path d="M346.3 250.1L321.7 263M346.3 250.1L370 255.6M346.3 250.1L348.8 272.1M321.7 263L348.8 272.1M321.7 263L321.7 285.3M370 255.6L348.8 272.1M370 255.6L387.6 266.3M370 255.6L366.2 281.2M348.8 272.1L366.2 281.2M348.8 272.1L341.1 296.9M387.6 266.3L366.2 281.2M321.7 285.3L341.1 296.9M366.2 281.2L341.1 296.9" stroke="#1c1c1c" stroke-width="9" fill="none"/>
<path d="M346.3 250.1L321.7 263L348.8 272.1ZM346.3 250.1L370 255.6L348.8 272.1ZM370 255.6L348.8 272.1L366.2 281.2ZM370 255.6L387.6 266.3L366.2 281.2ZM348.8 272.1L366.2 281.2L341.1 296.9Z" fill="#1c1c1c"/>
<path d="M331.9 252.5L337 262.2M337.3 261.5L333.8 271.9M332.4 272.9L338.1 284.5M340.6 283.1L351.1 286.4M350.3 283.6L356.1 292.9" stroke="#3f7fd6" stroke-width="7" fill="none"/>
<path d="M337 262.2l0.01 0M337.3 261.5l0.01 0M332.4 272.9l0.01 0M338.1 284.5l0.01 0M351.1 286.4l0.01 0M350.3 283.6l0.01 0" stroke="#3f7fd6" stroke-width="5.4" stroke-linecap="round" fill="none"/>
<path d="M331.9 252.5L337 262.2" stroke="#ffffff" stroke-width="2.4" fill="none"/>
<path d="M337 262.2l0.01 0" stroke="#ffffff" stroke-width="2.4" stroke-linecap="round" fill="none"/>
<path d="M337.3 261.5L333.8 271.9" stroke="#ffffff" stroke-width="3.2" fill="none"/>
<path d="M337.3 261.5l0.01 0" stroke="#ffffff" stroke-width="3.2" stroke-linecap="round" fill="none"/>
<path d="M332.4 272.9L338.1 284.5" stroke="#ffffff" stroke-width="4.7" fill="none"/>
<path d="M332.4 272.9l0.01 0M338.1 284.5l0.01 0" stroke="#ffffff" stroke-width="4.7" stroke-linecap="round" fill="none"/>
<path d="M340.6 283.1L351.1 286.4" stroke="#ffffff" stroke-width="1.3" fill="none"/>
<path d="M351.1 286.4l0.01 0" stroke="#ffffff" stroke-width="1.3" stroke-linecap="round" fill="none"/>
<path d="M350.3 283.6L356.1 292.9" stroke="#ffffff" stroke-width="4.2" fill="none"/>
<path d="M350.3 283.6l0.01 0" stroke="#ffffff" stroke-width="4.2" stroke-linecap="round" fill="none"/>
<path d="M359.2 248.4L356.7 259.1M355.5 258.8L363.3 268.9M374.4 269.3L361.8 267.5M373.2 268.5L379.5 277.5" stroke="#3f7fd6" stroke-width="7" fill="none"/>
<path d="M356.7 259.1l0.01 0M355.5 258.8l0.01 0M363.3 268.9l0.01 0M374.4 269.3l0.01 0M361.8 267.5l0.01 0M373.2 268.5l0.01 0" stroke="#3f7fd6" stroke-width="5.4" stroke-linecap="round" fill="none"/>
<path d="M359.2 248.4L356.7 259.1" stroke="#ffffff" stroke-width="1.3" fill="none"/>
<path d="M356.7 259.1l0.01 0" stroke="#ffffff" stroke-width="1.3" stroke-linecap="round" fill="none"/>
<path d="M355.5 258.8L363.3 268.9" stroke="#ffffff" stroke-width="1.5" fill="none"/>
<path d="M355.5 258.8l0.01 0M363.3 268.9l0.01 0" stroke="#ffffff" stroke-width="1.5" stroke-linecap="round" fill="none"/>
<path d="M374.4 269.3L361.8 267.5" stroke="#ffffff" stroke-width="1.3" fill="none"/>
<path d="M374.4 269.3l0.01 0M361.8 267.5l0.01 0" stroke="#ffffff" stroke-width="1.3" stroke-linecap="round" fill="none"/>
<path d="M373.2 268.5L379.5 277.5" stroke="#ffffff" stroke-width="1.3" fill="none"/>
<path d="M373.2 268.5l0.01 0" stroke="#ffffff" stroke-width="1.3" stroke-linecap="round" fill="none"/>
<use href="#hx" x="346.3" y="250.1"/>
<use href="#hx" x="321.7" y="263"/>
<use href="#hx" x="370" y="255.6"/>
<use href="#hx" x="348.8" y="272.1"/>
<use href="#hx" x="387.6" y="266.3"/>
<use href="#hx" x="321.7" y="285.3"/>
<use href="#hx" x="366.2" y="281.2"/>
<use href="#hx" x="341.1" y="296.9"/>
<path d="M292.7 271.8H308.8 M401.4 271.8H417.2" stroke="#54463d" stroke-width="1.1" fill="none"/>
<path d="M288.7 271.8l9 -4.6l-2.6 4.6l2.6 4.6zM421.2 271.8l-9 -4.6l2.6 4.6l-2.6 4.6z" fill="#54463d"/>
<text x="356.7" y="319.8" text-anchor="middle" font-size="7.9" stroke="#000" stroke-width="0.22">Strength of the mush zone becomes</text>
<text x="356.7" y="329.2" text-anchor="middle" font-size="7.9" stroke="#000" stroke-width="0.22">further decreased, and the liquid film</text>
<text x="356.7" y="338.7" text-anchor="middle" font-size="7.9" stroke="#000" stroke-width="0.22">is more easy to be torn apart</text>
<path d="M453.4 331.6V340.2H495.5V334.1" stroke="#555" stroke-width="0.9" fill="none"/>
<path d="M495.5 331.3l-2 3.6h4z" fill="#333"/>
<path d="M562.6 251.8L537.5 265.2M562.6 251.8L585.7 256.1M562.6 251.8L565.1 274.2M537.5 265.2L565.1 274.2M537.5 265.2L537.8 287M585.7 256.1L565.1 274.2M585.7 256.1L603.6 267.1M585.7 256.1L582.1 283.2M565.1 274.2L582.1 283.2M565.1 274.2L557.6 298.5M603.6 267.1L582.1 283.2M537.8 287L557.6 298.5M582.1 283.2L557.6 298.5" stroke="#1c1c1c" stroke-width="9" fill="none"/>
<path d="M562.6 251.8L537.5 265.2L565.1 274.2ZM562.6 251.8L585.7 256.1L565.1 274.2ZM585.7 256.1L565.1 274.2L582.1 283.2ZM585.7 256.1L603.6 267.1L582.1 283.2ZM565.1 274.2L582.1 283.2L557.6 298.5Z" fill="#1c1c1c"/>
<path d="M547.9 254.4L553.1 264.1M553.3 263.6L549.9 274.1M548.7 274.8L554.2 286.4M557 285L567.5 288.2M566.5 285.4L572.3 294.8" stroke="#e2a62c" stroke-width="7" fill="none"/>
<path d="M553.1 264.1l0.01 0M553.3 263.6l0.01 0M548.7 274.8l0.01 0M554.2 286.4l0.01 0M567.5 288.2l0.01 0M566.5 285.4l0.01 0" stroke="#e2a62c" stroke-width="5.4" stroke-linecap="round" fill="none"/>
<path d="M547.9 254.4L553.1 264.1" stroke="#c4161c" stroke-width="3.9" fill="none"/>
<path d="M553.1 264.1l0.01 0" stroke="#c4161c" stroke-width="3.9" stroke-linecap="round" fill="none"/>
<path d="M553.3 263.6L549.9 274.1" stroke="#c4161c" stroke-width="4.4" fill="none"/>
<path d="M553.3 263.6l0.01 0" stroke="#c4161c" stroke-width="4.4" stroke-linecap="round" fill="none"/>
<path d="M548.7 274.8L554.2 286.4" stroke="#c4161c" stroke-width="5.6" fill="none"/>
<path d="M548.7 274.8l0.01 0M554.2 286.4l0.01 0" stroke="#c4161c" stroke-width="5.6" stroke-linecap="round" fill="none"/>
<path d="M557 285L567.5 288.2" stroke="#c4161c" stroke-width="1.3" fill="none"/>
<path d="M567.5 288.2l0.01 0" stroke="#c4161c" stroke-width="1.3" stroke-linecap="round" fill="none"/>
<path d="M566.5 285.4L572.3 294.8" stroke="#c4161c" stroke-width="4.3" fill="none"/>
<path d="M566.5 285.4l0.01 0" stroke="#c4161c" stroke-width="4.3" stroke-linecap="round" fill="none"/>
<path d="M575 249.4L573.3 258.5M571.2 260.3L579.6 270M590.2 270.5L577.6 268.8M589 270L595.6 278.8" stroke="#e2a62c" stroke-width="7" fill="none"/>
<path d="M571.2 260.3l0.01 0M579.6 270l0.01 0M590.2 270.5l0.01 0M577.6 268.8l0.01 0M589 270l0.01 0" stroke="#e2a62c" stroke-width="5.4" stroke-linecap="round" fill="none"/>
<path d="M575 249.4L573.3 258.5" stroke="#c4161c" stroke-width="1.3" fill="none"/>
<path d="M571.2 260.3L579.6 270" stroke="#c4161c" stroke-width="2.8" fill="none"/>
<path d="M571.2 260.3l0.01 0M579.6 270l0.01 0" stroke="#c4161c" stroke-width="2.8" stroke-linecap="round" fill="none"/>
<path d="M590.2 270.5L577.6 268.8" stroke="#c4161c" stroke-width="2.7" fill="none"/>
<path d="M590.2 270.5l0.01 0M577.6 268.8l0.01 0" stroke="#c4161c" stroke-width="2.7" stroke-linecap="round" fill="none"/>
<path d="M589 270L595.6 278.8" stroke="#c4161c" stroke-width="2.3" fill="none"/>
<path d="M589 270l0.01 0" stroke="#c4161c" stroke-width="2.3" stroke-linecap="round" fill="none"/>
<use href="#hx" x="562.6" y="251.8"/>
<use href="#hx" x="537.5" y="265.2"/>
<use href="#hx" x="585.7" y="256.1"/>
<use href="#hx" x="565.1" y="274.2"/>
<use href="#hx" x="603.6" y="267.1"/>
<use href="#hx" x="537.8" y="287"/>
<use href="#hx" x="582.1" y="283.2"/>
<use href="#hx" x="557.6" y="298.5"/>
<text x="535.8" y="319.8" text-anchor="middle" font-size="7.9" stroke="#000" stroke-width="0.22">Quantity of the crack increases</text>
<path d="M162.3 370L141.3 381M162.3 370L182 383.1M162.3 370L160.9 395.5M141.3 381L160.9 395.5M141.3 381L137.5 403.3M182 383.1L160.9 395.5M182 383.1L202.2 392.4M182 383.1L184 405.2M160.9 395.5L137.5 403.3M160.9 395.5L184 405.2M160.9 395.5L160.9 417.8M202.2 392.4L184 405.2M202.2 392.4L201.2 414.5M137.5 403.3L160.9 417.8M137.5 403.3L137.9 425.4M184 405.2L160.9 417.8M184 405.2L201.2 414.5M184 405.2L180.9 428.9M160.9 417.8L137.9 425.4M160.9 417.8L180.9 428.9M160.9 417.8L155.1 442.4M201.2 414.5L180.9 428.9M137.9 425.4L155.1 442.4M180.9 428.9L155.1 442.4M180.9 428.9L178.9 449.2M155.1 442.4L178.9 449.2" stroke="#1c1c1c" stroke-width="9" fill="none"/>
<path d="M162.3 370L141.3 381L160.9 395.5ZM162.3 370L182 383.1L160.9 395.5ZM141.3 381L160.9 395.5L137.5 403.3ZM182 383.1L160.9 395.5L184 405.2ZM182 383.1L202.2 392.4L184 405.2ZM160.9 395.5L137.5 403.3L160.9 417.8ZM160.9 395.5L184 405.2L160.9 417.8ZM202.2 392.4L184 405.2L201.2 414.5ZM137.5 403.3L160.9 417.8L137.9 425.4ZM184 405.2L160.9 417.8L180.9 428.9ZM184 405.2L201.2 414.5L180.9 428.9ZM160.9 417.8L137.9 425.4L155.1 442.4ZM160.9 417.8L180.9 428.9L155.1 442.4ZM180.9 428.9L155.1 442.4L178.9 449.2Z" fill="#1c1c1c"/>
<path d="M174.7 372.7L168.6 381.9M168 383.1L155.2 382.4M154.9 383.1L147.3 393.4M147.2 393.3L151.2 405.5M152.6 405.1L145.8 416M147.4 415.5L151.4 427.7M162.5 431.2L151.8 428.6M165 430L171 441.3M168.3 441.4L165.7 450.2M168.2 383.8L174.7 394.8M174.9 394.4L170 406.3M169.4 405.9L175.5 417.1M188.8 417.9L176.1 416.2M187.3 416.5L193.7 425.5M173.1 419.3L168.7 427.4" stroke="#3f7fd6" stroke-width="7" fill="none"/>
<path d="M168.6 381.9l0.01 0M168 383.1l0.01 0M155.2 382.4l0.01 0M154.9 383.1l0.01 0M147.3 393.4l0.01 0M147.2 393.3l0.01 0M151.2 405.5l0.01 0M152.6 405.1l0.01 0M145.8 416l0.01 0M147.4 415.5l0.01 0M151.4 427.7l0.01 0M151.8 428.6l0.01 0M165 430l0.01 0M171 441.3l0.01 0M168.2 383.8l0.01 0M174.7 394.8l0.01 0M174.9 394.4l0.01 0M170 406.3l0.01 0M169.4 405.9l0.01 0M175.5 417.1l0.01 0M188.8 417.9l0.01 0M176.1 416.2l0.01 0M187.3 416.5l0.01 0" stroke="#3f7fd6" stroke-width="5.4" stroke-linecap="round" fill="none"/>
<use href="#hx" x="162.3" y="370"/>
<use href="#hx" x="141.3" y="381"/>
<use href="#hx" x="182" y="383.1"/>
<use href="#hx" x="160.9" y="395.5"/>
<use href="#hx" x="202.2" y="392.4"/>
<use href="#hx" x="137.5" y="403.3"/>
<use href="#hx" x="184" y="405.2"/>
<use href="#hx" x="160.9" y="417.8"/>
<use href="#hx" x="201.2" y="414.5"/>
<use href="#hx" x="137.9" y="425.4"/>
<use href="#hx" x="180.9" y="428.9"/>
<use href="#hx" x="155.1" y="442.4"/>
<use href="#hx" x="178.9" y="449.2"/>
<path d="M103.9 403.7H120 M216.7 403.7H232.7" stroke="#54463d" stroke-width="1.1" fill="none"/>
<path d="M99.9 403.7l9 -4.6l-2.6 4.6l2.6 4.6zM236.7 403.7l-9 -4.6l2.6 4.6l-2.6 4.6z" fill="#54463d"/>
<text x="160.9" y="472.4" text-anchor="middle" font-size="7.9" stroke="#000" stroke-width="0.22">The further increase of the liquid</text>
<text x="160.9" y="481.8" text-anchor="middle" font-size="7.9" stroke="#000" stroke-width="0.22">fraction leads to the formation of</text>
<text x="160.9" y="491.3" text-anchor="middle" font-size="7.9" stroke="#000" stroke-width="0.22">continuous liquid film</text>
<path d="M230.9 488.5V497.1H288.4V491" stroke="#555" stroke-width="0.9" fill="none"/>
<path d="M288.4 488.2l-2 3.6h4z" fill="#333"/>
<path d="M342.3 370.6L321.3 381.6M342.3 370.6L363.6 384.3M342.3 370.6L340.9 396.1M321.3 381.6L340.9 396.1M321.3 381.6L317.5 403.9M363.6 384.3L340.9 396.1M363.6 384.3L383.8 393.6M363.6 384.3L365.6 406.4M340.9 396.1L317.5 403.9M340.9 396.1L365.6 406.4M340.9 396.1L340.9 418.4M383.8 393.6L365.6 406.4M383.8 393.6L382.8 415.7M317.5 403.9L340.9 418.4M317.5 403.9L317.9 426M365.6 406.4L340.9 418.4M365.6 406.4L382.8 415.7M365.6 406.4L360.9 429.5M340.9 418.4L317.9 426M340.9 418.4L360.9 429.5M340.9 418.4L335.1 443M382.8 415.7L360.9 429.5M317.9 426L335.1 443M360.9 429.5L335.1 443M360.9 429.5L358.9 449.8M335.1 443L358.9 449.8" stroke="#1c1c1c" stroke-width="9" fill="none"/>
<path d="M342.3 370.6L321.3 381.6L340.9 396.1ZM342.3 370.6L363.6 384.3L340.9 396.1ZM321.3 381.6L340.9 396.1L317.5 403.9ZM363.6 384.3L340.9 396.1L365.6 406.4ZM363.6 384.3L383.8 393.6L365.6 406.4ZM340.9 396.1L317.5 403.9L340.9 418.4ZM340.9 396.1L365.6 406.4L340.9 418.4ZM383.8 393.6L365.6 406.4L382.8 415.7ZM317.5 403.9L340.9 418.4L317.9 426ZM365.6 406.4L340.9 418.4L360.9 429.5ZM365.6 406.4L382.8 415.7L360.9 429.5ZM340.9 418.4L317.9 426L335.1 443ZM340.9 418.4L360.9 429.5L335.1 443ZM360.9 429.5L335.1 443L358.9 449.8Z" fill="#1c1c1c"/>
<path d="M348 383.7L335.2 383M334.9 383.7L327.3 394M327.2 393.9L331.2 406.1M332.6 405.7L325.8 416.6M327.4 416.1L331.4 428.3M342.5 431.8L331.8 429.2M345 430.6L351 441.9M348.3 442L345.7 450.8M353.1 419.9L348.7 428" stroke="#3f7fd6" stroke-width="7" fill="none"/>
<path d="M348 383.7l0.01 0M335.2 383l0.01 0M334.9 383.7l0.01 0M327.3 394l0.01 0M327.2 393.9l0.01 0M331.2 406.1l0.01 0M332.6 405.7l0.01 0M325.8 416.6l0.01 0M327.4 416.1l0.01 0M331.4 428.3l0.01 0M331.8 429.2l0.01 0M345 430.6l0.01 0M351 441.9l0.01 0" stroke="#3f7fd6" stroke-width="5.4" stroke-linecap="round" fill="none"/>
<path d="M355.4 373.6L349.5 382.8M349.3 384.5L355.2 395.9M355.7 395.3L350.8 407.2M350.5 406.6L356 418.2M369.5 419.2L358.7 417M368.4 417.2L374.3 426.5" stroke="#3f7fd6" stroke-width="7" fill="none"/>
<path d="M349.5 382.8l0.01 0M349.3 384.5l0.01 0M355.2 395.9l0.01 0M355.7 395.3l0.01 0M350.8 407.2l0.01 0M350.5 406.6l0.01 0M356 418.2l0.01 0M369.5 419.2l0.01 0M368.4 417.2l0.01 0" stroke="#3f7fd6" stroke-width="5.4" stroke-linecap="round" fill="none"/>
<path d="M355.4 373.6L349.5 382.8" stroke="#ffffff" stroke-width="1.3" fill="none"/>
<path d="M349.5 382.8l0.01 0" stroke="#ffffff" stroke-width="1.3" stroke-linecap="round" fill="none"/>
<path d="M349.3 384.5L355.2 395.9" stroke="#ffffff" stroke-width="1.3" fill="none"/>
<path d="M349.3 384.5l0.01 0M355.2 395.9l0.01 0" stroke="#ffffff" stroke-width="1.3" stroke-linecap="round" fill="none"/>
<path d="M355.7 395.3L350.8 407.2" stroke="#ffffff" stroke-width="1.4" fill="none"/>
<path d="M355.7 395.3l0.01 0M350.8 407.2l0.01 0" stroke="#ffffff" stroke-width="1.4" stroke-linecap="round" fill="none"/>
<path d="M350.5 406.6L356 418.2" stroke="#ffffff" stroke-width="2.1" fill="none"/>
<path d="M350.5 406.6l0.01 0M356 418.2l0.01 0" stroke="#ffffff" stroke-width="2.1" stroke-linecap="round" fill="none"/>
<path d="M369.5 419.2L358.7 417" stroke="#ffffff" stroke-width="1.3" fill="none"/>
<path d="M369.5 419.2l0.01 0" stroke="#ffffff" stroke-width="1.3" stroke-linecap="round" fill="none"/>
<path d="M368.4 417.2L374.3 426.5" stroke="#ffffff" stroke-width="1.3" fill="none"/>
<path d="M368.4 417.2l0.01 0" stroke="#ffffff" stroke-width="1.3" stroke-linecap="round" fill="none"/>
<use href="#hx" x="342.3" y="370.6"/>
<use href="#hx" x="321.3" y="381.6"/>
<use href="#hx" x="363.6" y="384.3"/>
<use href="#hx" x="340.9" y="396.1"/>
<use href="#hx" x="383.8" y="393.6"/>
<use href="#hx" x="317.5" y="403.9"/>
<use href="#hx" x="365.6" y="406.4"/>
<use href="#hx" x="340.9" y="418.4"/>
<use href="#hx" x="382.8" y="415.7"/>
<use href="#hx" x="317.9" y="426"/>
<use href="#hx" x="360.9" y="429.5"/>
<use href="#hx" x="335.1" y="443"/>
<use href="#hx" x="358.9" y="449.8"/>
<path d="M282.7 404.1H298.9 M394 404.1H410.2" stroke="#54463d" stroke-width="1.1" fill="none"/>
<path d="M278.7 404.1l9 -4.6l-2.6 4.6l2.6 4.6zM414.2 404.1l-9 -4.6l2.6 4.6l-2.6 4.6z" fill="#54463d"/>
<text x="356.8" y="472.4" text-anchor="middle" font-size="7.9" stroke="#000" stroke-width="0.22">Liquid film is torn apart</text>
<text x="356.8" y="481.8" text-anchor="middle" font-size="7.9" stroke="#000" stroke-width="0.22">by shrinkage stress</text>
<path d="M398.5 488.5V497.1H453.9V491" stroke="#555" stroke-width="0.9" fill="none"/>
<path d="M453.9 488.2l-2 3.6h4z" fill="#333"/>
<path d="M521 371.7L500.3 382.4M521 371.7L541.9 384.1M521 371.7L520.2 396.5M500.3 382.4L520.2 396.5M500.3 382.4L496.2 404.1M541.9 384.1L520.2 396.5M541.9 384.1L561.9 393.4M541.9 384.1L542.9 405.8M520.2 396.5L496.2 404.1M520.2 396.5L542.9 405.8M520.2 396.5L520.2 418.2M561.9 393.4L542.9 405.8M561.9 393.4L560.9 415.1M496.2 404.1L520.2 418.2M496.2 404.1L497.5 426.9M542.9 405.8L520.2 418.2M542.9 405.8L560.9 415.1M542.9 405.8L539.8 429.6M520.2 418.2L497.5 426.9M520.2 418.2L539.8 429.6M520.2 418.2L515.4 441.3M560.9 415.1L539.8 429.6M497.5 426.9L515.4 441.3M539.8 429.6L515.4 441.3M539.8 429.6L535.1 448.8M515.4 441.3L535.1 448.8" stroke="#1c1c1c" stroke-width="9" fill="none"/>
<path d="M521 371.7L500.3 382.4L520.2 396.5ZM521 371.7L541.9 384.1L520.2 396.5ZM500.3 382.4L520.2 396.5L496.2 404.1ZM541.9 384.1L520.2 396.5L542.9 405.8ZM541.9 384.1L561.9 393.4L542.9 405.8ZM520.2 396.5L496.2 404.1L520.2 418.2ZM520.2 396.5L542.9 405.8L520.2 418.2ZM561.9 393.4L542.9 405.8L560.9 415.1ZM496.2 404.1L520.2 418.2L497.5 426.9ZM542.9 405.8L520.2 418.2L539.8 429.6ZM542.9 405.8L560.9 415.1L539.8 429.6ZM520.2 418.2L497.5 426.9L515.4 441.3ZM520.2 418.2L539.8 429.6L515.4 441.3ZM539.8 429.6L515.4 441.3L535.1 448.8Z" fill="#1c1c1c"/>
<path d="M533.8 373.9L528.2 383.4M527 384.3L514.2 383.9M514 384.2L506.5 394.7M506.3 394.2L510.1 406.4M511.4 405.6L505 416.7M507.2 418.3L511.1 428.5M524.1 431.1L511.5 428.4M524.8 429.7L530.4 441.2M527.5 439.1L523.6 449.3M527.9 384.7L534.2 395.9M534 395.2L529.1 407.1M528.5 406.4L534.6 417.6M547.7 418.5L535 416.9" stroke="#3f7fd6" stroke-width="7" fill="none"/>
<path d="M528.2 383.4l0.01 0M527 384.3l0.01 0M514.2 383.9l0.01 0M514 384.2l0.01 0M506.5 394.7l0.01 0M506.3 394.2l0.01 0M510.1 406.4l0.01 0M511.4 405.6l0.01 0M505 416.7l0.01 0M511.1 428.5l0.01 0M524.1 431.1l0.01 0M511.5 428.4l0.01 0M524.8 429.7l0.01 0M530.4 441.2l0.01 0M527.5 439.1l0.01 0M527.9 384.7l0.01 0M534.2 395.9l0.01 0M534 395.2l0.01 0M529.1 407.1l0.01 0M528.5 406.4l0.01 0M534.6 417.6l0.01 0M547.7 418.5l0.01 0M535 416.9l0.01 0" stroke="#3f7fd6" stroke-width="5.4" stroke-linecap="round" fill="none"/>
<path d="M546.7 417.1L553 426.1" stroke="#3f7fd6" stroke-width="7" fill="none"/>
<path d="M546.7 417.1l0.01 0" stroke="#3f7fd6" stroke-width="5.4" stroke-linecap="round" fill="none"/>
<path d="M546.7 417.1L553 426.1" stroke="#ffffff" stroke-width="1.3" fill="none"/>
<path d="M546.7 417.1l0.01 0" stroke="#ffffff" stroke-width="1.3" stroke-linecap="round" fill="none"/>
<use href="#hx" x="521" y="371.7"/>
<use href="#hx" x="500.3" y="382.4"/>
<use href="#hx" x="541.9" y="384.1"/>
<use href="#hx" x="520.2" y="396.5"/>
<use href="#hx" x="561.9" y="393.4"/>
<use href="#hx" x="496.2" y="404.1"/>
<use href="#hx" x="542.9" y="405.8"/>
<use href="#hx" x="520.2" y="418.2"/>
<use href="#hx" x="560.9" y="415.1"/>
<use href="#hx" x="497.5" y="426.9"/>
<use href="#hx" x="539.8" y="429.6"/>
<use href="#hx" x="515.4" y="441.3"/>
<use href="#hx" x="535.1" y="448.8"/>
<text x="535.7" y="472.4" text-anchor="middle" font-size="7.9" stroke="#000" stroke-width="0.22">Part of the crack is backfilled by</text>
<text x="535.7" y="481.8" text-anchor="middle" font-size="7.9" stroke="#000" stroke-width="0.22">the residual continuous liquids</text>
<path d="M587.8 488.5V497.1H643.6V491" stroke="#555" stroke-width="0.9" fill="none"/>
<path d="M643.6 488.2l-2 3.6h4z" fill="#333"/>
<path d="M677.3 371.7L656.6 382.4M677.3 371.7L698.2 384.1M677.3 371.7L676.5 396.5M656.6 382.4L676.5 396.5M656.6 382.4L652.5 404.1M698.2 384.1L676.5 396.5M698.2 384.1L718.2 393.4M698.2 384.1L699.2 405.8M676.5 396.5L652.5 404.1M676.5 396.5L699.2 405.8M676.5 396.5L676.5 418.2M718.2 393.4L699.2 405.8M718.2 393.4L717.2 415.1M652.5 404.1L676.5 418.2M652.5 404.1L653.8 426.9M699.2 405.8L676.5 418.2M699.2 405.8L717.2 415.1M699.2 405.8L696.1 429.6M676.5 418.2L653.8 426.9M676.5 418.2L696.1 429.6M676.5 418.2L671.7 441.3M717.2 415.1L696.1 429.6M653.8 426.9L671.7 441.3M696.1 429.6L671.7 441.3M696.1 429.6L691.4 448.8M671.7 441.3L691.4 448.8" stroke="#1c1c1c" stroke-width="9" fill="none"/>
<path d="M677.3 371.7L656.6 382.4L676.5 396.5ZM677.3 371.7L698.2 384.1L676.5 396.5ZM656.6 382.4L676.5 396.5L652.5 404.1ZM698.2 384.1L676.5 396.5L699.2 405.8ZM698.2 384.1L718.2 393.4L699.2 405.8ZM676.5 396.5L652.5 404.1L676.5 418.2ZM676.5 396.5L699.2 405.8L676.5 418.2ZM718.2 393.4L699.2 405.8L717.2 415.1ZM652.5 404.1L676.5 418.2L653.8 426.9ZM699.2 405.8L676.5 418.2L696.1 429.6ZM699.2 405.8L717.2 415.1L696.1 429.6ZM676.5 418.2L653.8 426.9L671.7 441.3ZM676.5 418.2L696.1 429.6L671.7 441.3ZM696.1 429.6L671.7 441.3L691.4 448.8Z" fill="#1c1c1c"/>
<path d="M690.1 373.9L684.5 383.4M683.3 384.3L670.5 383.9M670.3 384.2L662.8 394.7M662.6 394.2L666.4 406.4M667.7 405.6L661.3 416.7M663.5 418.3L667.4 428.5M680.4 431.1L667.8 428.4M681.1 429.7L686.7 441.2M683.8 439.1L679.9 449.3M684.2 384.7L690.5 395.9M690.3 395.2L685.4 407.1M684.8 406.4L690.9 417.6M704 418.5L691.3 416.9" stroke="#e2a62c" stroke-width="7" fill="none"/>
<path d="M684.5 383.4l0.01 0M683.3 384.3l0.01 0M670.5 383.9l0.01 0M670.3 384.2l0.01 0M662.8 394.7l0.01 0M662.6 394.2l0.01 0M666.4 406.4l0.01 0M667.7 405.6l0.01 0M661.3 416.7l0.01 0M667.4 428.5l0.01 0M680.4 431.1l0.01 0M667.8 428.4l0.01 0M681.1 429.7l0.01 0M686.7 441.2l0.01 0M683.8 439.1l0.01 0M684.2 384.7l0.01 0M690.5 395.9l0.01 0M690.3 395.2l0.01 0M685.4 407.1l0.01 0M684.8 406.4l0.01 0M690.9 417.6l0.01 0M704 418.5l0.01 0M691.3 416.9l0.01 0" stroke="#e2a62c" stroke-width="5.4" stroke-linecap="round" fill="none"/>
<path d="M703 417.1L709.3 426.1" stroke="#e2a62c" stroke-width="7" fill="none"/>
<path d="M703 417.1l0.01 0" stroke="#e2a62c" stroke-width="5.4" stroke-linecap="round" fill="none"/>
<path d="M703 417.1L709.3 426.1" stroke="#c4161c" stroke-width="1.3" fill="none"/>
<path d="M703 417.1l0.01 0" stroke="#c4161c" stroke-width="1.3" stroke-linecap="round" fill="none"/>
<use href="#hx" x="677.3" y="371.7"/>
<use href="#hx" x="656.6" y="382.4"/>
<use href="#hx" x="698.2" y="384.1"/>
<use href="#hx" x="676.5" y="396.5"/>
<use href="#hx" x="718.2" y="393.4"/>
<use href="#hx" x="652.5" y="404.1"/>
<use href="#hx" x="699.2" y="405.8"/>
<use href="#hx" x="676.5" y="418.2"/>
<use href="#hx" x="717.2" y="415.1"/>
<use href="#hx" x="653.8" y="426.9"/>
<use href="#hx" x="696.1" y="429.6"/>
<use href="#hx" x="671.7" y="441.3"/>
<use href="#hx" x="691.4" y="448.8"/>
<text x="689.9" y="472.4" text-anchor="middle" font-size="7.9" stroke="#000" stroke-width="0.22">Quantity of the crack decreases</text>
<path d="M159.1 526.6L139.2 537.9M159.1 526.6L179 538.8M159.1 526.6L158.4 552.4M198.2 524.3L179 538.8M198.2 524.3L201.9 548.4M139.2 537.9L158.4 552.4M139.2 537.9L135.7 559.9M179 538.8L158.4 552.4M179 538.8L201.9 548.4M179 538.8L182 562.2M158.4 552.4L135.7 559.9M158.4 552.4L182 562.2M158.4 552.4L157.9 574.6M201.9 548.4L182 562.2M201.9 548.4L218.8 558.7M201.9 548.4L197.7 571.8M135.7 559.9L157.9 574.6M135.7 559.9L135.7 582.8M182 562.2L157.9 574.6M182 562.2L197.7 571.8M182 562.2L177.8 586.3M218.8 558.7L197.7 571.8M218.8 558.7L219.5 582.1M157.9 574.6L135.7 582.8M157.9 574.6L177.8 586.3M157.9 574.6L152.1 599.9M197.7 571.8L177.8 586.3M197.7 571.8L219.5 582.1M197.7 571.8L198.9 596.9M135.7 582.8L152.1 599.9M177.8 586.3L152.1 599.9M177.8 586.3L198.9 596.9M177.8 586.3L176.2 606.2M219.5 582.1L198.9 596.9M152.1 599.9L176.2 606.2M198.9 596.9L176.2 606.2" stroke="#1c1c1c" stroke-width="9" fill="none"/>
<path d="M159.1 526.6L139.2 537.9L158.4 552.4ZM159.1 526.6L179 538.8L158.4 552.4ZM198.2 524.3L179 538.8L201.9 548.4ZM139.2 537.9L158.4 552.4L135.7 559.9ZM179 538.8L158.4 552.4L182 562.2ZM179 538.8L201.9 548.4L182 562.2ZM158.4 552.4L135.7 559.9L157.9 574.6ZM158.4 552.4L182 562.2L157.9 574.6ZM201.9 548.4L182 562.2L197.7 571.8ZM201.9 548.4L218.8 558.7L197.7 571.8ZM135.7 559.9L157.9 574.6L135.7 582.8ZM182 562.2L157.9 574.6L177.8 586.3ZM182 562.2L197.7 571.8L177.8 586.3ZM218.8 558.7L197.7 571.8L219.5 582.1ZM157.9 574.6L135.7 582.8L152.1 599.9ZM157.9 574.6L177.8 586.3L152.1 599.9ZM197.7 571.8L177.8 586.3L198.9 596.9ZM197.7 571.8L219.5 582.1L198.9 596.9ZM177.8 586.3L152.1 599.9L176.2 606.2ZM177.8 586.3L198.9 596.9L176.2 606.2Z" fill="#1c1c1c"/>
<path d="M171.5 528.8L166.6 536.6M165.1 539.7L152.4 539.3M152.7 540L144.9 550.3M145 550.1L149.1 562.2M150.3 561.9L143.3 572.6M144.6 572.7L149 584.7M159.5 588.3L148.8 585.8M162 587.4L167.9 598.8M165.8 596.9L163 607.5M165.2 540.3L172.2 550.9M172.7 551.4L167.7 563.2M167 562.7L172.9 574.1M170.2 576.5L165.5 584.4M185.8 527.9L192.5 536.7M192.9 537.7L188 549.5M188.3 550L195.6 560.6M193.2 561.5L187.5 570.9M184 573.9L191.5 584.2M191.2 585.9L185.5 597.3M211.3 571.2L205.9 582.7M212.7 549.6L207 559M204.9 559.8L211.6 570.7M205.5 584.3L211.9 593.2M204.6 535.7L193.7 537.3M186.8 549.7L174.2 551.3M186.2 575.3L173.6 573.2M162.7 563.6L153.6 563.4M206.1 561.2L193.5 559M204.7 584L191.9 584.7" stroke="#3f7fd6" stroke-width="7" fill="none"/>
<path d="M165.1 539.7l0.01 0M152.4 539.3l0.01 0M152.7 540l0.01 0M144.9 550.3l0.01 0M145 550.1l0.01 0M149.1 562.2l0.01 0M150.3 561.9l0.01 0M143.3 572.6l0.01 0M144.6 572.7l0.01 0M149 584.7l0.01 0M148.8 585.8l0.01 0M162 587.4l0.01 0M167.9 598.8l0.01 0M165.8 596.9l0.01 0M165.2 540.3l0.01 0M172.2 550.9l0.01 0M172.7 551.4l0.01 0M167.7 563.2l0.01 0M167 562.7l0.01 0M172.9 574.1l0.01 0M192.5 536.7l0.01 0M192.9 537.7l0.01 0M188 549.5l0.01 0M188.3 550l0.01 0M195.6 560.6l0.01 0M193.2 561.5l0.01 0M184 573.9l0.01 0M191.5 584.2l0.01 0M191.2 585.9l0.01 0M185.5 597.3l0.01 0M211.3 571.2l0.01 0M205.9 582.7l0.01 0M207 559l0.01 0M204.9 559.8l0.01 0M211.6 570.7l0.01 0M205.5 584.3l0.01 0M193.7 537.3l0.01 0M186.8 549.7l0.01 0M174.2 551.3l0.01 0M186.2 575.3l0.01 0M173.6 573.2l0.01 0M206.1 561.2l0.01 0M193.5 559l0.01 0M204.7 584l0.01 0M191.9 584.7l0.01 0" stroke="#3f7fd6" stroke-width="5.4" stroke-linecap="round" fill="none"/>
<use href="#hx" x="159.1" y="526.6"/>
<use href="#hx" x="198.2" y="524.3"/>
<use href="#hx" x="139.2" y="537.9"/>
<use href="#hx" x="179" y="538.8"/>
<use href="#hx" x="158.4" y="552.4"/>
<use href="#hx" x="201.9" y="548.4"/>
<use href="#hx" x="135.7" y="559.9"/>
<use href="#hx" x="182" y="562.2"/>
<use href="#hx" x="218.8" y="558.7"/>
<use href="#hx" x="157.9" y="574.6"/>
<use href="#hx" x="197.7" y="571.8"/>
<use href="#hx" x="135.7" y="582.8"/>
<use href="#hx" x="177.8" y="586.3"/>
<use href="#hx" x="219.5" y="582.1"/>
<use href="#hx" x="152.1" y="599.9"/>
<use href="#hx" x="198.9" y="596.9"/>
<use href="#hx" x="176.2" y="606.2"/>
<path d="M101 561H117.6 M234 561H250.6" stroke="#54463d" stroke-width="1.1" fill="none"/>
<path d="M97 561l9 -4.6l-2.6 4.6l2.6 4.6zM254.6 561l-9 -4.6l2.6 4.6l-2.6 4.6z" fill="#54463d"/>
<text x="160.7" y="630.4" text-anchor="middle" font-size="7.9" stroke="#000" stroke-width="0.22">The fluidity of the liquid eutectic</text>
<text x="160.7" y="639.9" text-anchor="middle" font-size="7.9" stroke="#000" stroke-width="0.22">is further enhanced</text>
<path d="M234.5 644.9V654.3H291.9V647.4" stroke="#555" stroke-width="0.9" fill="none"/>
<path d="M291.9 644.6l-2 3.6h4z" fill="#333"/>
<path d="M333.7 525.9L312.9 537.2M333.7 525.9L355.5 537.2M333.7 525.9L332.8 552.4M374.2 522.6L355.5 537.2M374.2 522.6L377.7 547M312.9 537.2L332.8 552.4M312.9 537.2L309.3 559.4M355.5 537.2L332.8 552.4M355.5 537.2L377.7 547M355.5 537.2L357.8 561.3M332.8 552.4L309.3 559.4M332.8 552.4L357.8 561.3M332.8 552.4L332.8 574.2M377.7 547L357.8 561.3M377.7 547L395.3 557.1M377.7 547L374.2 570.4M309.3 559.4L332.8 574.2M309.3 559.4L309.8 582.1M357.8 561.3L332.8 574.2M357.8 561.3L374.2 570.4M357.8 561.3L352.4 585.9M395.3 557.1L374.2 570.4M395.3 557.1L395.8 580.5M332.8 574.2L309.8 582.1M332.8 574.2L352.4 585.9M332.8 574.2L326.2 599.2M374.2 570.4L352.4 585.9M374.2 570.4L395.8 580.5M374.2 570.4L374.2 596.2M309.8 582.1L326.2 599.2M352.4 585.9L326.2 599.2M352.4 585.9L374.2 596.2M352.4 585.9L350.3 605.5M395.8 580.5L374.2 596.2M326.2 599.2L350.3 605.5M374.2 596.2L350.3 605.5" stroke="#1c1c1c" stroke-width="9" fill="none"/>
<path d="M333.7 525.9L312.9 537.2L332.8 552.4ZM333.7 525.9L355.5 537.2L332.8 552.4ZM374.2 522.6L355.5 537.2L377.7 547ZM312.9 537.2L332.8 552.4L309.3 559.4ZM355.5 537.2L332.8 552.4L357.8 561.3ZM355.5 537.2L377.7 547L357.8 561.3ZM332.8 552.4L309.3 559.4L332.8 574.2ZM332.8 552.4L357.8 561.3L332.8 574.2ZM377.7 547L357.8 561.3L374.2 570.4ZM377.7 547L395.3 557.1L374.2 570.4ZM309.3 559.4L332.8 574.2L309.8 582.1ZM357.8 561.3L332.8 574.2L352.4 585.9ZM357.8 561.3L374.2 570.4L352.4 585.9ZM395.3 557.1L374.2 570.4L395.8 580.5ZM332.8 574.2L309.8 582.1L326.2 599.2ZM332.8 574.2L352.4 585.9L326.2 599.2ZM374.2 570.4L352.4 585.9L374.2 596.2ZM374.2 570.4L395.8 580.5L374.2 596.2ZM352.4 585.9L326.2 599.2L350.3 605.5ZM352.4 585.9L374.2 596.2L350.3 605.5Z" fill="#1c1c1c"/>
<path d="M339.6 539.4L326.9 538.9M326.7 539.7L319 549.9M319.2 549.8L322.9 562M324.5 561.4L317.6 572.2M319.8 573.8L323.4 584.2M333.9 587.9L323.3 585.1M336.4 586.8L342.2 598.3M339.4 597.9L337.1 606.8M345 576.1L340.2 584M362 526.3L368.8 534.9M369.2 536.2L364 548M364 549L371.5 559.3M369.1 560.3L363.8 569.9M359.6 572.9L367 583.4M365.3 586.9L360.6 596.8M387.7 569.7L383.1 579.6M388.8 548.1L383.3 557.6M381.3 558.3L388.2 569.2M381.2 583.2L387.7 592.1M380.5 534.1L369.6 535.7M363 548.6L352.1 549.7M361.4 575L350.6 572.6M337.4 563.3L328.2 563.3M382.3 559.6L369.6 557.8M380.6 583.3L367.8 583.3" stroke="#3f7fd6" stroke-width="7" fill="none"/>
<path d="M339.6 539.4l0.01 0M326.9 538.9l0.01 0M326.7 539.7l0.01 0M319 549.9l0.01 0M319.2 549.8l0.01 0M322.9 562l0.01 0M324.5 561.4l0.01 0M317.6 572.2l0.01 0M323.4 584.2l0.01 0M323.3 585.1l0.01 0M336.4 586.8l0.01 0M342.2 598.3l0.01 0M368.8 534.9l0.01 0M369.2 536.2l0.01 0M364 548l0.01 0M364 549l0.01 0M371.5 559.3l0.01 0M369.1 560.3l0.01 0M359.6 572.9l0.01 0M367 583.4l0.01 0M360.6 596.8l0.01 0M387.7 569.7l0.01 0M383.3 557.6l0.01 0M381.3 558.3l0.01 0M388.2 569.2l0.01 0M381.2 583.2l0.01 0M369.6 535.7l0.01 0M363 548.6l0.01 0M361.4 575l0.01 0M382.3 559.6l0.01 0M369.6 557.8l0.01 0M380.6 583.3l0.01 0M367.8 583.3l0.01 0" stroke="#3f7fd6" stroke-width="5.4" stroke-linecap="round" fill="none"/>
<path d="M346.7 527.5L342.5 535.6M340.6 539.5L347.7 550.1M347.4 550.8L343.2 562.9M342.4 562.1L348.2 573.4" stroke="#3f7fd6" stroke-width="7" fill="none"/>
<path d="M340.6 539.5l0.01 0M347.7 550.1l0.01 0M347.4 550.8l0.01 0M343.2 562.9l0.01 0M342.4 562.1l0.01 0M348.2 573.4l0.01 0" stroke="#3f7fd6" stroke-width="5.4" stroke-linecap="round" fill="none"/>
<path d="M346.7 527.5L342.5 535.6" stroke="#ffffff" stroke-width="1.3" fill="none"/>
<path d="M340.6 539.5L347.7 550.1" stroke="#ffffff" stroke-width="1.9" fill="none"/>
<path d="M340.6 539.5l0.01 0M347.7 550.1l0.01 0" stroke="#ffffff" stroke-width="1.9" stroke-linecap="round" fill="none"/>
<path d="M347.4 550.8L343.2 562.9" stroke="#ffffff" stroke-width="1.3" fill="none"/>
<path d="M347.4 550.8l0.01 0M343.2 562.9l0.01 0" stroke="#ffffff" stroke-width="1.3" stroke-linecap="round" fill="none"/>
<path d="M342.4 562.1L348.2 573.4" stroke="#ffffff" stroke-width="2.7" fill="none"/>
<path d="M342.4 562.1l0.01 0M348.2 573.4l0.01 0" stroke="#ffffff" stroke-width="2.7" stroke-linecap="round" fill="none"/>
<use href="#hx" x="333.7" y="525.9"/>
<use href="#hx" x="374.2" y="522.6"/>
<use href="#hx" x="312.9" y="537.2"/>
<use href="#hx" x="355.5" y="537.2"/>
<use href="#hx" x="332.8" y="552.4"/>
<use href="#hx" x="377.7" y="547"/>
<use href="#hx" x="309.3" y="559.4"/>
<use href="#hx" x="357.8" y="561.3"/>
<use href="#hx" x="395.3" y="557.1"/>
<use href="#hx" x="332.8" y="574.2"/>
<use href="#hx" x="374.2" y="570.4"/>
<use href="#hx" x="309.8" y="582.1"/>
<use href="#hx" x="352.4" y="585.9"/>
<use href="#hx" x="395.8" y="580.5"/>
<use href="#hx" x="326.2" y="599.2"/>
<use href="#hx" x="374.2" y="596.2"/>
<use href="#hx" x="350.3" y="605.5"/>
<path d="M278.7 560.6H295.3 M407.7 560.6H423.4" stroke="#54463d" stroke-width="1.1" fill="none"/>
<path d="M274.7 560.6l9 -4.6l-2.6 4.6l2.6 4.6zM427.4 560.6l-9 -4.6l2.6 4.6l-2.6 4.6z" fill="#54463d"/>
<text x="357.1" y="630.4" text-anchor="middle" font-size="7.9" stroke="#000" stroke-width="0.22">Liquid film may be torn apart</text>
<text x="357.1" y="639.9" text-anchor="middle" font-size="7.9" stroke="#000" stroke-width="0.22">by shrinkage stress</text>
<path d="M404.7 644.9V654.3H473.3V647.4" stroke="#555" stroke-width="0.9" fill="none"/>
<path d="M473.3 644.6l-2 3.6h4z" fill="#333"/>
<path d="M517.8 525.4L496.9 536M517.8 525.4L539.5 535.3M517.8 525.4L516.8 551.2M557.1 521.5L539.5 535.3M557.1 521.5L561.8 545.4M496.9 536L516.8 551.2M496.9 536L493.4 558.2M539.5 535.3L516.8 551.2M539.5 535.3L561.8 545.4M539.5 535.3L541.9 559.4M516.8 551.2L493.4 558.2M516.8 551.2L541.9 559.4M516.8 551.2L516.8 572.8M561.8 545.4L541.9 559.4M561.8 545.4L578.9 555.9M561.8 545.4L557.8 568.8M493.4 558.2L516.8 572.8M493.4 558.2L493.9 580.5M541.9 559.4L516.8 572.8M541.9 559.4L557.8 568.8M541.9 559.4L536 585.2M578.9 555.9L557.8 568.8M578.9 555.9L579.3 579.8M516.8 572.8L493.9 580.5M516.8 572.8L536 585.2M516.8 572.8L510.3 598M557.8 568.8L536 585.2M557.8 568.8L579.3 579.8M557.8 568.8L557.8 595.2M493.9 580.5L510.3 598M536 585.2L510.3 598M536 585.2L557.8 595.2M536 585.2L534.4 605.1M579.3 579.8L557.8 595.2M510.3 598L534.4 605.1M557.8 595.2L534.4 605.1" stroke="#1c1c1c" stroke-width="9" fill="none"/>
<path d="M517.8 525.4L496.9 536L516.8 551.2ZM517.8 525.4L539.5 535.3L516.8 551.2ZM557.1 521.5L539.5 535.3L561.8 545.4ZM496.9 536L516.8 551.2L493.4 558.2ZM539.5 535.3L516.8 551.2L541.9 559.4ZM539.5 535.3L561.8 545.4L541.9 559.4ZM516.8 551.2L493.4 558.2L516.8 572.8ZM516.8 551.2L541.9 559.4L516.8 572.8ZM561.8 545.4L541.9 559.4L557.8 568.8ZM561.8 545.4L578.9 555.9L557.8 568.8ZM493.4 558.2L516.8 572.8L493.9 580.5ZM541.9 559.4L516.8 572.8L536 585.2ZM541.9 559.4L557.8 568.8L536 585.2ZM578.9 555.9L557.8 568.8L579.3 579.8ZM516.8 572.8L493.9 580.5L510.3 598ZM516.8 572.8L536 585.2L510.3 598ZM557.8 568.8L536 585.2L557.8 595.2ZM557.8 568.8L579.3 579.8L557.8 595.2ZM536 585.2L510.3 598L534.4 605.1ZM536 585.2L557.8 595.2L534.4 605.1Z" fill="#1c1c1c"/>
<path d="M530.6 526.2L526.7 534.5M521.9 538.5L510.9 538.1M510.7 538.5L503 548.7M503.3 548.6L506.9 560.8M508.5 560.1L501.7 570.9M503.3 570.6L507.4 582.7M518 586.5L507.4 583.8M520.3 585.9L526 597.3M524.2 595.4L521.1 606M524.5 538L531.8 548.5M530.8 550.9L527.4 561.4M526.3 560.5L532.4 571.7M528.9 575.1L523.9 582.9M545.5 524.8L552.2 533.4M553.3 534.5L548 546.2M548.2 547.2L555.5 557.6M553.1 558.6L547.5 568.1M543.1 571.9L550.7 582.1M548.8 586L544.2 596M571.5 568.6L566.5 578.4M572.8 546.7L567 556.1M565 556.9L571.7 567.8M564.8 582.3L571.2 591.2M564 532.6L553.2 534.7M547.1 546.7L536.1 547.8M545.2 573.7L532.7 570.9M521.4 562L512.2 562M566.1 558.2L553.5 556M564.2 582L551.4 582" stroke="#3f7fd6" stroke-width="7" fill="none"/>
<path d="M510.9 538.1l0.01 0M510.7 538.5l0.01 0M503 548.7l0.01 0M503.3 548.6l0.01 0M506.9 560.8l0.01 0M508.5 560.1l0.01 0M501.7 570.9l0.01 0M503.3 570.6l0.01 0M507.4 582.7l0.01 0M507.4 583.8l0.01 0M520.3 585.9l0.01 0M526 597.3l0.01 0M524.2 595.4l0.01 0M524.5 538l0.01 0M531.8 548.5l0.01 0M527.4 561.4l0.01 0M526.3 560.5l0.01 0M532.4 571.7l0.01 0M552.2 533.4l0.01 0M553.3 534.5l0.01 0M548 546.2l0.01 0M548.2 547.2l0.01 0M555.5 557.6l0.01 0M553.1 558.6l0.01 0M543.1 571.9l0.01 0M550.7 582.1l0.01 0M544.2 596l0.01 0M571.5 568.6l0.01 0M567 556.1l0.01 0M565 556.9l0.01 0M571.7 567.8l0.01 0M564.8 582.3l0.01 0M553.2 534.7l0.01 0M547.1 546.7l0.01 0M545.2 573.7l0.01 0M532.7 570.9l0.01 0M566.1 558.2l0.01 0M553.5 556l0.01 0M564.2 582l0.01 0M551.4 582l0.01 0" stroke="#3f7fd6" stroke-width="5.4" stroke-linecap="round" fill="none"/>
<use href="#hx" x="517.8" y="525.4"/>
<use href="#hx" x="557.1" y="521.5"/>
<use href="#hx" x="496.9" y="536"/>
<use href="#hx" x="539.5" y="535.3"/>
<use href="#hx" x="516.8" y="551.2"/>
<use href="#hx" x="561.8" y="545.4"/>
<use href="#hx" x="493.4" y="558.2"/>
<use href="#hx" x="541.9" y="559.4"/>
<use href="#hx" x="578.9" y="555.9"/>
<use href="#hx" x="516.8" y="572.8"/>
<use href="#hx" x="557.8" y="568.8"/>
<use href="#hx" x="493.9" y="580.5"/>
<use href="#hx" x="536" y="585.2"/>
<use href="#hx" x="579.3" y="579.8"/>
<use href="#hx" x="510.3" y="598"/>
<use href="#hx" x="557.8" y="595.2"/>
<use href="#hx" x="534.4" y="605.1"/>
<text x="536" y="630.4" text-anchor="middle" font-size="7.9" stroke="#000" stroke-width="0.22">The possible crack is completely</text>
<text x="536" y="639.9" text-anchor="middle" font-size="7.9" stroke="#000" stroke-width="0.22">healed by the more significant</text>
<text x="536" y="649.3" text-anchor="middle" font-size="7.9" stroke="#000" stroke-width="0.22">backfilling effect</text>
<path d="M597.4 644.9V653.8H652.4V647.4" stroke="#555" stroke-width="0.9" fill="none"/>
<path d="M652.4 644.6l-2 3.6h4z" fill="#333"/>
<path d="M669.1 523.1L648 533.6M669.1 523.1L689 534.3M669.1 523.1L668.6 548.9M706.6 519.6L689 534.3M706.6 519.6L710.8 544.2M648 533.6L668.6 548.9M648 533.6L645.2 555.9M689 534.3L668.6 548.9M689 534.3L710.8 544.2M689 534.3L690.2 557.8M668.6 548.9L645.2 555.9M668.6 548.9L690.2 557.8M668.6 548.9L668.6 569.9M710.8 544.2L690.2 557.8M710.8 544.2L727.6 554.7M710.8 544.2L706.6 567.1M645.2 555.9L668.6 569.9M645.2 555.9L646.1 578.6M690.2 557.8L668.6 569.9M690.2 557.8L706.6 567.1M690.2 557.8L687.4 582.1M727.6 554.7L706.6 567.1M727.6 554.7L728.1 577.4M668.6 569.9L646.1 578.6M668.6 569.9L687.4 582.1M668.6 569.9L662.1 595.2M706.6 567.1L687.4 582.1M706.6 567.1L728.1 577.4M706.6 567.1L708.4 592.9M646.1 578.6L662.1 595.2M687.4 582.1L662.1 595.2M687.4 582.1L708.4 592.9M687.4 582.1L685.5 601.6M728.1 577.4L708.4 592.9M662.1 595.2L685.5 601.6M708.4 592.9L685.5 601.6" stroke="#1c1c1c" stroke-width="9" fill="none"/>
<path d="M669.1 523.1L648 533.6L668.6 548.9ZM669.1 523.1L689 534.3L668.6 548.9ZM706.6 519.6L689 534.3L710.8 544.2ZM648 533.6L668.6 548.9L645.2 555.9ZM689 534.3L668.6 548.9L690.2 557.8ZM689 534.3L710.8 544.2L690.2 557.8ZM668.6 548.9L645.2 555.9L668.6 569.9ZM668.6 548.9L690.2 557.8L668.6 569.9ZM710.8 544.2L690.2 557.8L706.6 567.1ZM710.8 544.2L727.6 554.7L706.6 567.1ZM645.2 555.9L668.6 569.9L646.1 578.6ZM690.2 557.8L668.6 569.9L687.4 582.1ZM690.2 557.8L706.6 567.1L687.4 582.1ZM727.6 554.7L706.6 567.1L728.1 577.4ZM668.6 569.9L646.1 578.6L662.1 595.2ZM668.6 569.9L687.4 582.1L662.1 595.2ZM706.6 567.1L687.4 582.1L708.4 592.9ZM706.6 567.1L728.1 577.4L708.4 592.9ZM687.4 582.1L662.1 595.2L685.5 601.6ZM687.4 582.1L708.4 592.9L685.5 601.6Z" fill="#1c1c1c"/>
<path d="M681.3 524.7L676.8 532.7M675.2 536.1L662.5 535.9M662.1 536.1L654.5 546.4M655.1 546.3L658.7 558.5M660.2 557.4L653.6 568.4M655 568.3L659.7 580.2M671.5 584.1L659.2 581M671.8 583L677.7 594.3M675.5 592.2L672.6 602.8M675.1 536.4L682.5 546.8M681.8 547.4L677 559.3M676.3 558.3L682.5 569.4M681.5 570.6L675.5 579.9M694.9 523.4L701.9 531.9M702.5 533.4L697.3 545.1M697 545.7L704 556.3M701.6 556.9L696.1 566.5M693.1 569.6L700.9 579.6M700.8 581.8L695 593.2M720.1 566.5L715.4 576.4M721.6 545.5L715.8 554.9M713.8 555.4L720.4 566.4M714.3 580.1L721.1 588.8M713.2 531.1L702.4 533M696 545.7L683.2 546.4M695.2 570.7L682.4 569.2M675 559.4L664 559.4M715 556.8L702.4 554.5M713.9 579.6L701.1 580.4" stroke="#e2a62c" stroke-width="7" fill="none"/>
<path d="M675.2 536.1l0.01 0M662.5 535.9l0.01 0M662.1 536.1l0.01 0M654.5 546.4l0.01 0M655.1 546.3l0.01 0M658.7 558.5l0.01 0M660.2 557.4l0.01 0M653.6 568.4l0.01 0M655 568.3l0.01 0M659.7 580.2l0.01 0M671.5 584.1l0.01 0M659.2 581l0.01 0M671.8 583l0.01 0M677.7 594.3l0.01 0M675.5 592.2l0.01 0M675.1 536.4l0.01 0M682.5 546.8l0.01 0M681.8 547.4l0.01 0M677 559.3l0.01 0M676.3 558.3l0.01 0M682.5 569.4l0.01 0M681.5 570.6l0.01 0M701.9 531.9l0.01 0M702.5 533.4l0.01 0M697.3 545.1l0.01 0M697 545.7l0.01 0M704 556.3l0.01 0M701.6 556.9l0.01 0M693.1 569.6l0.01 0M700.9 579.6l0.01 0M700.8 581.8l0.01 0M695 593.2l0.01 0M720.1 566.5l0.01 0M715.8 554.9l0.01 0M713.8 555.4l0.01 0M720.4 566.4l0.01 0M714.3 580.1l0.01 0M702.4 533l0.01 0M696 545.7l0.01 0M683.2 546.4l0.01 0M695.2 570.7l0.01 0M682.4 569.2l0.01 0M675 559.4l0.01 0M715 556.8l0.01 0M702.4 554.5l0.01 0M713.9 579.6l0.01 0M701.1 580.4l0.01 0" stroke="#e2a62c" stroke-width="5.4" stroke-linecap="round" fill="none"/>
<use href="#hx" x="669.1" y="523.1"/>
<use href="#hx" x="706.6" y="519.6"/>
<use href="#hx" x="648" y="533.6"/>
<use href="#hx" x="689" y="534.3"/>
<use href="#hx" x="668.6" y="548.9"/>
<use href="#hx" x="710.8" y="544.2"/>
<use href="#hx" x="645.2" y="555.9"/>
<use href="#hx" x="690.2" y="557.8"/>
<use href="#hx" x="727.6" y="554.7"/>
<use href="#hx" x="668.6" y="569.9"/>
<use href="#hx" x="706.6" y="567.1"/>
<use href="#hx" x="646.1" y="578.6"/>
<use href="#hx" x="687.4" y="582.1"/>
<use href="#hx" x="728.1" y="577.4"/>
<use href="#hx" x="662.1" y="595.2"/>
<use href="#hx" x="708.4" y="592.9"/>
<use href="#hx" x="685.5" y="601.6"/>
<text x="690.2" y="630.4" text-anchor="middle" font-size="7.9" stroke="#000" stroke-width="0.22">No crack forms</text>
<rect x="612.5" y="27.2" width="157.3" height="103" fill="none" stroke="#7d7d7d" stroke-width="0.9" stroke-dasharray="5.2 3.4"/>
<use href="#hx" transform="translate(634,43.7) scale(1.04)"/>
<rect x="620.2" y="67.5" width="27.8" height="8" fill="#5b9bdd"/>
<rect x="620.2" y="92" width="27.8" height="7.3" fill="#e3ab30"/>
<rect x="620.2" y="115.8" width="27.8" height="7.6" fill="#c3161c"/>
<text x="653.6" y="47.2" font-size="9.8" stroke="#000" stroke-width="0.22">α-Mg matrix</text>
<text x="653.6" y="72.7" font-size="9.8" stroke="#000" stroke-width="0.22">Liquid eutectic</text>
<text x="653.6" y="98.6" font-size="9.8" stroke="#000" stroke-width="0.22">Mg<tspan font-size="5.5">7</tspan>Zn<tspan font-size="5.5">3</tspan> second phase</text>
<text x="653.6" y="124.2" font-size="9.8" stroke="#000" stroke-width="0.22">Solidification crack</text>
</g>
<g id="panel-b">
<g clip-path="url(#tc)"><rect x="965.4" y="62.3" width="66.2" height="49.2" fill="#999" filter="url(#fA)"/><use href="#vL0" transform="translate(965,61.6) scale(1,1)" filter="url(#fW)"/></g>
<g clip-path="url(#tc)"><rect x="1035.6" y="116.9" width="66.2" height="49.2" fill="#999" filter="url(#fA)"/><use href="#vN2" transform="translate(1035.2,116.2) scale(1,1)" filter="url(#fW)"/></g>
<g clip-path="url(#tc)"><rect x="1108.6" y="62.3" width="66.2" height="49.2" fill="#999" filter="url(#fA)"/><use href="#vN2" transform="translate(1108.2,61.6) scale(1,1)" filter="url(#fW)"/></g>
<g clip-path="url(#tc)"><rect x="1108.6" y="116.9" width="66.2" height="49.2" fill="#999" filter="url(#fA2)"/><use href="#vN0" transform="translate(1175.2,166.2) scale(-1,-1)" filter="url(#fW)"/></g>
<g clip-path="url(#tc)"><rect x="1108.6" y="171.2" width="66.2" height="49.2" fill="#999" filter="url(#fA2)"/><use href="#vN1" transform="translate(1108.2,170.5) scale(1,1)" filter="url(#fW)"/></g>
<g clip-path="url(#tc)"><rect x="1182" y="116.9" width="66.2" height="49.2" fill="#999" filter="url(#fA2)"/><use href="#vN1" transform="translate(1181.6,166.2) scale(1,-1)" filter="url(#fW)"/></g>
<g clip-path="url(#tc)"><rect x="1182" y="171.2" width="66.2" height="49.2" fill="#999" filter="url(#fA2)"/><use href="#vN2" transform="translate(1248.6,220.5) scale(-1,-1)" filter="url(#fW)"/></g>
<g clip-path="url(#tc)"><rect x="1182" y="227.2" width="66.2" height="49.2" fill="#999" filter="url(#fA)"/><use href="#vN0" transform="translate(1181.6,226.5) scale(1,1)" filter="url(#fW)"/></g>
<g clip-path="url(#tc)"><rect x="1182" y="282.6" width="66.2" height="49.2" fill="#999" filter="url(#fB)"/><use href="#vM1" transform="translate(1248.6,331.9) scale(-1,-1)" filter="url(#fW)"/></g>
<g clip-path="url(#tc)"><rect x="1255.2" y="62.3" width="66.2" height="49.2" fill="#999" filter="url(#fA)"/><use href="#vL0" transform="translate(1321.8,61.6) scale(-1,1)" filter="url(#fW)"/></g>
<g clip-path="url(#tc)"><rect x="1255.2" y="116.9" width="66.2" height="49.2" fill="#999" filter="url(#fA2)"/><use href="#vL1" transform="translate(1254.8,166.2) scale(1,-1)" filter="url(#fW)"/></g>
<g clip-path="url(#tc)"><rect x="1255.2" y="171.2" width="66.2" height="49.2" fill="#999" filter="url(#fA)"/><use href="#vL2" transform="translate(1254.8,220.5) scale(1,-1)" filter="url(#fW)"/></g>
<g clip-path="url(#tc)"><rect x="1255.2" y="227.2" width="66.2" height="49.2" fill="#999" filter="url(#fA)"/><use href="#vL3" transform="translate(1254.8,276.5) scale(1,-1)" filter="url(#fW)"/></g>
<g clip-path="url(#tc)"><rect x="1255.2" y="282.6" width="66.2" height="49.2" fill="#999" filter="url(#fB)"/><use href="#vM2" transform="translate(1321.8,281.9) scale(-1,1)" filter="url(#fW)"/></g>
<g clip-path="url(#tc)"><rect x="1255.2" y="338.1" width="66.2" height="49.2" fill="#999" filter="url(#fB)"/><use href="#vM0" transform="translate(1321.8,387.4) scale(-1,-1)" filter="url(#fW)"/></g>
<g clip-path="url(#tc)"><rect x="1255.2" y="392.8" width="66.2" height="49.2" fill="#999" filter="url(#fC)"/><use href="#vS0" transform="translate(1254.8,392.1) scale(1,1)" filter="url(#fW)"/></g>
<rect x="1255.2" y="447.5" width="66.2" height="49.2" fill="#999" filter="url(#fD2)"/>
<g clip-path="url(#tc)"><rect x="1328.2" y="62.3" width="66.2" height="49.2" fill="#999" filter="url(#fA)"/><use href="#vK2" transform="translate(1394.8,61.6) scale(-1,1)" filter="url(#fW)"/></g>
<g clip-path="url(#tc)"><rect x="1328.2" y="116.9" width="66.2" height="49.2" fill="#999" filter="url(#fA)"/><use href="#vK0" transform="translate(1327.8,116.2) scale(1,1)" filter="url(#fW)"/></g>
<g clip-path="url(#tc)"><rect x="1328.2" y="171.2" width="66.2" height="49.2" fill="#999" filter="url(#fA)"/><use href="#vK1" transform="translate(1394.8,170.5) scale(-1,1)" filter="url(#fW)"/></g>
<g clip-path="url(#tc)"><rect x="1328.2" y="227.2" width="66.2" height="49.2" fill="#999" filter="url(#fA2)"/><use href="#vK2" transform="translate(1327.8,226.5) scale(1,1)" filter="url(#fW)"/></g>
<g clip-path="url(#tc)"><rect x="1328.2" y="282.6" width="66.2" height="49.2" fill="#999" filter="url(#fB)"/><use href="#vM0" transform="translate(1327.8,331.9) scale(1,-1)" filter="url(#fW)"/></g>
<g clip-path="url(#tc)"><rect x="1328.2" y="338.1" width="66.2" height="49.2" fill="#999" filter="url(#fB)"/><use href="#vM1" transform="translate(1394.8,387.4) scale(-1,-1)" filter="url(#fW)"/></g>
<g clip-path="url(#tc)"><rect x="1328.2" y="392.8" width="66.2" height="49.2" fill="#999" filter="url(#fC)"/><use href="#vS1" transform="translate(1394.8,442.1) scale(-1,-1)" filter="url(#fW)"/></g>
<rect x="1328.2" y="447.5" width="66.2" height="49.2" fill="#999" filter="url(#fD)"/>
<rect x="1328.2" y="501.9" width="66.2" height="49.2" fill="#999" filter="url(#fE2)"/>
<g clip-path="url(#tc)"><rect x="1401.6" y="62.3" width="66.2" height="49.2" fill="#999" filter="url(#fA)"/><use href="#vK0" transform="translate(1468.2,61.6) scale(-1,1)" filter="url(#fW)"/></g>
<g clip-path="url(#tc)"><rect x="1401.6" y="116.9" width="66.2" height="49.2" fill="#999" filter="url(#fA)"/><use href="#vK1" transform="translate(1468.2,116.2) scale(-1,1)" filter="url(#fW)"/></g>
<g clip-path="url(#tc)"><rect x="1401.6" y="171.2" width="66.2" height="49.2" fill="#999" filter="url(#fA)"/><use href="#vK2" transform="translate(1468.2,220.5) scale(-1,-1)" filter="url(#fW)"/></g>
<g clip-path="url(#tc)"><rect x="1401.6" y="227.2" width="66.2" height="49.2" fill="#999" filter="url(#fA)"/><use href="#vK0" transform="translate(1401.2,276.5) scale(1,-1)" filter="url(#fW)"/></g>
<g clip-path="url(#tc)"><rect x="1401.6" y="282.6" width="66.2" height="49.2" fill="#999" filter="url(#fB)"/><use href="#vM1" transform="translate(1468.2,331.9) scale(-1,-1)" filter="url(#fW)"/></g>
<g clip-path="url(#tc)"><rect x="1401.6" y="338.1" width="66.2" height="49.2" fill="#999" filter="url(#fB)"/><use href="#vM2" transform="translate(1401.2,387.4) scale(1,-1)" filter="url(#fW)"/></g>
<g clip-path="url(#tc)"><rect x="1401.6" y="392.8" width="66.2" height="49.2" fill="#999" filter="url(#fC)"/><use href="#vS0" transform="translate(1401.2,442.1) scale(1,-1)" filter="url(#fW)"/></g>
<rect x="1401.6" y="447.5" width="66.2" height="49.2" fill="#999" filter="url(#fD)"/>
<rect x="1401.6" y="501.9" width="66.2" height="49.2" fill="#999" filter="url(#fE2)"/>
<g clip-path="url(#tc)"><rect x="1474.4" y="171.2" width="66.2" height="49.2" fill="#999" filter="url(#fA)"/><use href="#vK0" transform="translate(1474,170.5) scale(1,1)" filter="url(#fW)"/></g>
<g clip-path="url(#tc)"><rect x="1474.4" y="282.6" width="66.2" height="49.2" fill="#999" filter="url(#fA2)"/><use href="#vK2" transform="translate(1541,281.9) scale(-1,1)" filter="url(#fW)"/></g>
<g clip-path="url(#tc)"><rect x="1474.4" y="338.1" width="66.2" height="49.2" fill="#999" filter="url(#fA2)"/><use href="#vK0" transform="translate(1541,337.4) scale(-1,1)" filter="url(#fW)"/></g>
<g clip-path="url(#tc)"><rect x="1474.4" y="392.8" width="66.2" height="49.2" fill="#999" filter="url(#fC)"/><use href="#vS1" transform="translate(1541,442.1) scale(-1,-1)" filter="url(#fW)"/></g>
<rect x="1474.4" y="447.5" width="66.2" height="49.2" fill="#999" filter="url(#fD)"/>
<rect x="1474.4" y="501.9" width="66.2" height="49.2" fill="#999" filter="url(#fE2)"/>
<g clip-path="url(#tc)"><rect x="1547.2" y="282.6" width="66.2" height="49.2" fill="#999" filter="url(#fA)"/><use href="#vK0" transform="translate(1613.8,281.9) scale(-1,1)" filter="url(#fW)"/></g>
<g clip-path="url(#tc)"><rect x="1547.2" y="338.1" width="66.2" height="49.2" fill="#999" filter="url(#fA2)"/><use href="#vK1" transform="translate(1613.8,337.4) scale(-1,1)" filter="url(#fW)"/></g>
<g clip-path="url(#tc)"><rect x="1547.2" y="392.8" width="66.2" height="49.2" fill="#999" filter="url(#fC)"/><use href="#vS0" transform="translate(1546.8,392.1) scale(1,1)" filter="url(#fW)"/></g>
<g clip-path="url(#tc)"><rect x="1547.2" y="447.5" width="66.2" height="49.2" fill="#999" filter="url(#fC)"/><use href="#vS0" transform="translate(1613.8,496.8) scale(-1,-1)" filter="url(#fW)"/></g>
<rect x="1547.2" y="501.9" width="66.2" height="49.2" fill="#999" filter="url(#fE)"/>
<rect x="1547.2" y="557.1" width="66.2" height="49.2" fill="#999" filter="url(#fE)"/>
<g clip-path="url(#tc)"><rect x="1619.8" y="447.5" width="66.2" height="49.2" fill="#999" filter="url(#fF)"/><use href="#vN0" transform="translate(1619.4,446.8) scale(1,1)" filter="url(#fW)"/></g>
<rect x="1619.8" y="501.9" width="66.2" height="49.2" fill="#999" filter="url(#fE)"/>
<rect x="1619.8" y="557.1" width="66.2" height="49.2" fill="#999" filter="url(#fE)"/>
<rect x="1693" y="501.9" width="66.2" height="49.2" fill="#999" filter="url(#fE)"/>
<rect x="1693" y="557.1" width="66.2" height="49.2" fill="#999" filter="url(#fE)"/>
<rect x="1255.1" y="1" width="68.1" height="50.7" fill="#cf0f2b" filter="url(#fR)"/>
<polygon points="1279.7,49.6 1305.3,39.7 1308,51.7 1281,51.7" fill="#8a2a2a"/>
<polygon points="1270.6,12.4 1296.6,4.1 1307.8,23.1 1280.5,36" fill="#e3d8d6"/>
<polygon points="1280.5,36 1307.8,23.1 1305.3,39.7 1279.7,49.6" fill="#b89c9a"/>
<polygon points="1270.6,12.4 1280.5,36 1279.7,49.6 1271.8,27.3" fill="#a58482"/>
<rect x="1477.3" y="107.2" width="70.6" height="53.1" fill="#d60a28" filter="url(#fR)"/>
<polygon points="1507.4,158.8 1527.7,150.1 1533,160.3 1509,160.3" fill="#8c0f1c"/>
<polygon points="1497.8,117.8 1521.4,109.6 1535.9,128 1510.3,140" fill="#e6dcda"/>
<polygon points="1510.3,140 1535.9,128 1527.7,150.1 1507.4,158.8" fill="#7b5555"/>
<polygon points="1497.8,117.8 1510.3,140 1507.4,158.8 1495.4,135.7" fill="#6c4444"/>
<rect x="1550.4" y="221" width="70.6" height="50.7" fill="#dc0a2a" filter="url(#fR)"/>
<polygon points="1566.5,234.8 1588.7,224.6 1606.5,241 1581.9,253.6" fill="#e2d6d4"/>
<polygon points="1581.9,253.6 1606.5,241 1596.9,270.9 1580.5,271.4" fill="#5e1c22"/>
<polygon points="1566.5,234.8 1581.9,253.6 1580.5,271.4 1571.8,271 1561.7,250.7" fill="#4c1a1c"/>
<rect x="1619.5" y="282.2" width="67.5" height="49.9" fill="#b5001f" filter="url(#fR2)"/>
<polygon points="1637.8,320.3 1658.5,330 1657.1,332 1631,331.6" fill="#3a0508"/>
<polygon points="1633.4,303.9 1648.4,285.6 1671.5,296.2 1657.1,315.5" fill="#e4d9d3"/>
<polygon points="1657.1,315.5 1671.5,296.2 1671.5,312.6 1658.5,330" fill="#cf8076"/>
<polygon points="1633.4,303.9 1657.1,315.5 1658.5,330 1637.8,320.3" fill="#a21f3c"/>
<path d="M1283 19.5q2 -4 5 -3.5q3 1 1.5 5q-2 3 -5 2zM1294 14l3 -2.5l3.5 9M1288 29l8 -4" fill="none" stroke="#a08f8d" stroke-width="1.3"/>
<path d="M1508 127q1 -3 3.5 -2.5q2 1 1 4M1518 122q2 -3 4.5 -1.5q1 2 -1 3.5M1514 135l9 -4.5" fill="none" stroke="#8a6f6d" stroke-width="1.3"/>
<path d="M1577 240q1 -3 3.5 -2.5q2 1 1 4M1587 234q2.5 -2 4 0q0 2 -2 2.5q3 0 2.5 2.5M1583 247l8 -4" fill="none" stroke="#9a8583" stroke-width="1.3"/>
<path d="M1652 296l2 0.8M1652 306.5l2 0.8" fill="none" stroke="#8c6f6c" stroke-width="1.1"/>
<path d="M1253 56H1472.9V165H1546.2V275.7H1780" fill="none" stroke="#c00000" stroke-width="4.0" stroke-dasharray="16.6 8.6" stroke-dashoffset="0"/>
<path d="M951.5 168.8H1178.8V221.7H1324.9V279.6H1470.8V332.3H1543.4V389.6H1779" fill="none" stroke="#7030a0" stroke-width="3.9" stroke-dasharray="16.6 8.6" stroke-dashoffset="0"/>
<path d="M951.5 389.6H1397.5V443.9H1616.8V498.5H1784" fill="none" stroke="#0b5cb8" stroke-width="4.1" stroke-dasharray="16.6 8.6" stroke-dashoffset="0"/>
<path d="M949.5 32V624.2H1773" stroke="#000" stroke-width="4" fill="none" stroke-linejoin="miter"/>
<path d="M949.5 19.5L944.6 34.5H954.4Z" fill="#000"/>
<path d="M1786 624.2L1770.5 619.4V629Z" fill="#000"/>
<path d="M951 86.3H958.8M951 251.3H958.8M951 417.3H958.8M951 583.2H958.8M1010.9 623V614.3M1142.2 623V614.3M1282.4 623V614.3M1433.5 623V614.3M1578.5 623V614.3M1727.7 623V614.3" stroke="#000" stroke-width="3" fill="none"/>
<path d="M1076.5 623V621M1212.3 623V621M1358 623V621M1506 623V621M1653.1 623V621" stroke="#000" stroke-width="2" fill="none"/>
<text x="837" y="39" font-size="35.3">(b)</text>
<text x="938" y="96.5" text-anchor="end" font-size="36">120</text>
<text x="938" y="261" text-anchor="end" font-size="36">90</text>
<text x="938" y="428" text-anchor="end" font-size="36">60</text>
<text x="938" y="594.4" text-anchor="end" font-size="36">30</text>
<text x="1012.2" y="668.5" text-anchor="middle" font-size="35.6">1 200</text>
<text x="1143" y="668.5" text-anchor="middle" font-size="35.6">1 000</text>
<text x="1283.8" y="668.5" text-anchor="middle" font-size="35.6">800</text>
<text x="1433.8" y="668.5" text-anchor="middle" font-size="35.6">600</text>
<text x="1579" y="668.5" text-anchor="middle" font-size="35.6">400</text>
<text x="1726.3" y="668.5" text-anchor="middle" font-size="35.6">200</text>
<text transform="translate(871.3,447.4) rotate(-90)" textLength="247.2" lengthAdjust="spacingAndGlyphs" font-size="34.8">Laser power/W</text>
<text x="1135.5" y="715.7" font-size="35.6">Scanning speed V/(mm·s<tspan font-size="21.5" dy="-13">−1</tspan><tspan dy="13">)</tspan></text>
<text x="1121.5" y="48.5" fill="#c00000" font-size="35.8">Pores</text>
<text x="1012" y="125.6" fill="#c00000" font-size="35.8">Cracking</text>
<text x="994.5" y="312.9" fill="#7030a0" font-size="35.8">Transition region</text>
<text x="994" y="507.8" fill="#0b5cb8" font-size="35.8">Lack of fusion</text>
<text x="1622.5" y="222.2" font-size="35.8">Warped edge</text>
<text x="1623.5" y="362.3" font-size="35.8">Straight edge</text>
<text x="995" y="554.6" font-size="35.8">3 mm</text>
<text x="1158.5" y="580.7" font-size="35.8">BD</text>
<path d="M1006 580.7H1079.5M1006 574.3V587.2M1079.5 574.3V587.2" stroke="#000" stroke-width="3.6" fill="none"/>
<circle cx="1122.3" cy="572" r="16.5" fill="none" stroke="#000" stroke-width="3"/><circle cx="1122.3" cy="572" r="3.7" fill="#000"/>
<path d="M1725.7 244V269M1725.7 282.5V308" stroke="#000" stroke-width="2.8" fill="none"/>
<path d="M1725.7 236.5L1721.4 247.5H1730Z M1725.7 315.6L1721.4 304.6H1730Z" fill="#000"/>
<path d="M1226 49.5L1241.5 65.3" stroke="#e8452c" stroke-width="2.8" fill="none"/>
<path d="M1247 70.8L1236 67.2L1243.4 60Z" fill="#e8452c"/>
<circle cx="1256.3" cy="75.3" r="4.5" fill="none" stroke="#e8452c" stroke-width="1.7" stroke-dasharray="6.6 2.8"/>
<circle cx="1273.2" cy="88.3" r="4.5" fill="none" stroke="#e8452c" stroke-width="1.7" stroke-dasharray="6.6 2.8"/>
<circle cx="1284.4" cy="75.8" r="4.5" fill="none" stroke="#e8452c" stroke-width="1.7" stroke-dasharray="6.6 2.8"/>
<circle cx="1303" cy="67.1" r="4.5" fill="none" stroke="#e8452c" stroke-width="1.7" stroke-dasharray="6.6 2.8"/>
<circle cx="1295.1" cy="102.7" r="4.5" fill="none" stroke="#e8452c" stroke-width="1.7" stroke-dasharray="6.6 2.8"/>
<circle cx="1301.8" cy="134.3" r="4.5" fill="none" stroke="#e8452c" stroke-width="1.7" stroke-dasharray="6.6 2.8"/>
<circle cx="1279.4" cy="151.7" r="4.5" fill="none" stroke="#e8452c" stroke-width="1.7" stroke-dasharray="6.6 2.8"/>
<circle cx="1257" cy="156.2" r="4.5" fill="none" stroke="#e8452c" stroke-width="1.7" stroke-dasharray="6.6 2.8"/>
<circle cx="1269" cy="190.3" r="4.5" fill="none" stroke="#e8452c" stroke-width="1.7" stroke-dasharray="6.6 2.8"/>
</g>
</svg>
</body></html>
